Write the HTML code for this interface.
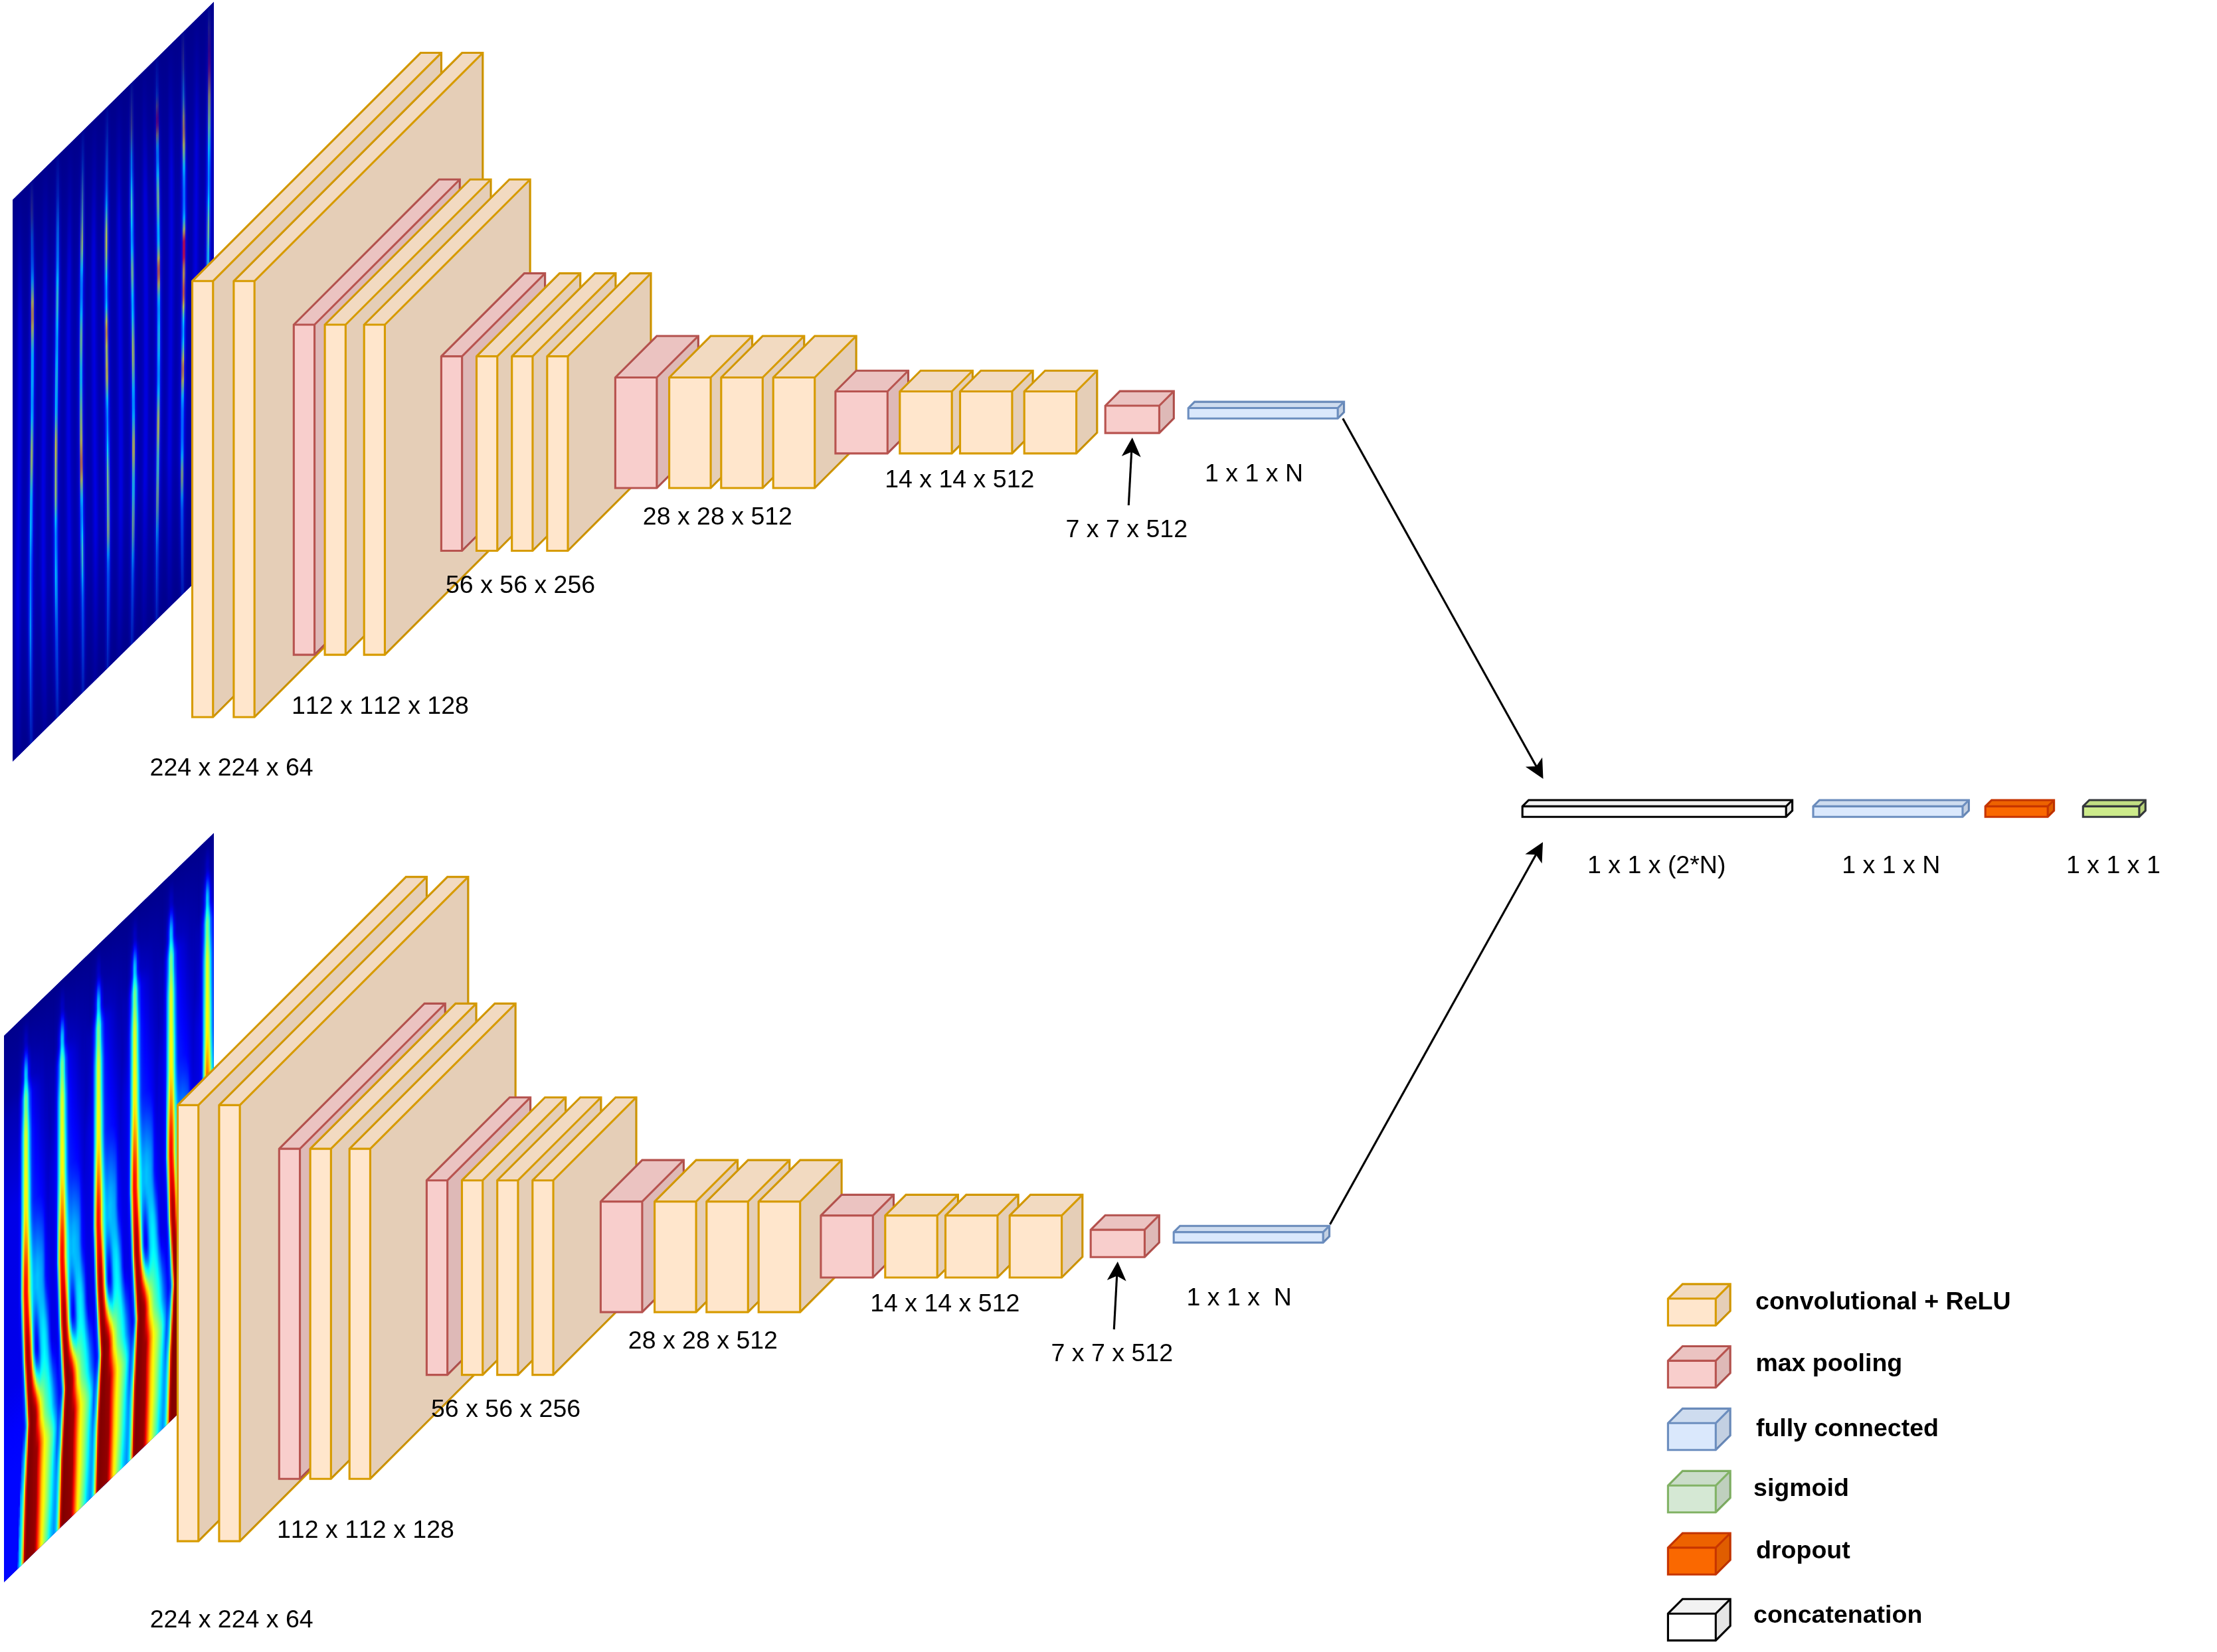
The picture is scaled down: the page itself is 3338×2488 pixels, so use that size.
<!DOCTYPE html>
<html><head><meta charset="utf-8"><title>Two-branch VGG</title>
<style>html,body{margin:0;padding:0;background:#fff}#w{position:relative;width:3338px;height:2488px;overflow:hidden}svg{display:block;position:absolute;left:0;top:0;will-change:transform}.im{position:absolute;transform-origin:0 0;display:flex;background:#0000c0;overflow:hidden}.im i{display:block;flex:1 1 0;margin-right:-.6px;height:100%}text{font-family:"Liberation Sans",sans-serif;stroke:none;font-kerning:none}</style></head>
<body>
<div id="w">
<div class="im" style="left:18.9px;top:300.8px;width:302.6px;height:846px;transform:matrix(1,-0.9841,0,1,0,0)"><i style="background:linear-gradient(#00008c 0%,#0000a6 26.6%,#0000af 72.7%,#00008c 100%)"></i><i style="background:linear-gradient(#00008c 0%,#00a 33.1%,#0000b7 73.4%,#00008d 100%)"></i><i style="background:linear-gradient(#00008d 0%,#0000b0 33.1%,#0000c8 64.7%,#0000ca 73.4%,#000091 100%)"></i><i style="background:linear-gradient(#00008e 0%,#0000b9 25.2%,#0000e0 71.2%,#0000b6 89.2%,#000096 100%)"></i><i style="background:linear-gradient(#00008e 0%,#0000a9 10.8%,#00c 22.3%,#0000e2 54%,#0000df 73.4%,#00009c 99.3%,#009 100%)"></i><i style="background:linear-gradient(#00008e 0%,#0000a6 9.4%,#0000d7 22.3%,#0000e0 34.5%,#0000d6 58.3%,#0000ca 74.1%,#000097 100%)"></i><i style="background:linear-gradient(#00008d 0%,#0000a1 10.1%,#0000cb 22.3%,#0000d2 32.4%,#0000b5 74.8%,#000091 100%)"></i><i style="background:linear-gradient(#00008c 0%,#00009f 12.9%,#0000b8 25.2%,#0000bc 35.3%,#0000ac 74.8%,#00008d 100%)"></i><i style="background:linear-gradient(#00008c 0%,#00009f 17.3%,#0000ae 32.4%,#0000ac 73.4%,#00008c 100%)"></i><i style="background:linear-gradient(#00008c 0%,#00a 33.1%,#0000af 73.4%,#00008c 100%)"></i><i style="background:linear-gradient(#00008c 0%,#0000ab 33.1%,#0000ba 73.4%,#00008e 100%)"></i><i style="background:linear-gradient(#00008d 0%,#0000b2 32.4%,#0000c5 56.8%,#0003d3 72.7%,#0001a7 92.1%,#000092 100%)"></i><i style="background:linear-gradient(#00018e 0%,#0100bc 23.7%,#0305d1 46.8%,#060ed9 53.2%,#0020e9 59.7%,#002aef 64%,#002cf5 71.2%,#003be8 79.1%,#002bdc 83.5%,#0013c6 89.9%,#00039b 100%)"></i><i style="background:linear-gradient(#020691 0%,#0f1194 5%,#0515aa 8.6%,#0013bb 11.5%,#0014ca 15.8%,#021bcf 18%,#1a1cc2 21.6%,#1a14c4 24.5%,#171ac9 26.6%,#011ce3 30.9%,#002ded 40.3%,#023cee 42.4%,#234cd1 45.3%,#4b5fac 48.2%,#5469a4 49.6%,#5074a9 51.1%,#3484c7 53.2%,#0598f7 56.1%,#009cfd 57.6%,#00b2fe 61.2%,#00abff 63.3%,#007fff 67.6%,#07f 70.5%,#0089fd 76.3%,#0091f9 79.1%,#0086f5 81.3%,#004fe8 87.1%,#002bca 95%,#0016ae 100%)"></i><i style="background:linear-gradient(#020992 0%,#23268b 5%,#1d339b 7.2%,#004ccc 10.1%,#0048dd 12.9%,#0057e7 15.1%,#0070ec 16.5%,#0083ef 17.3%,#0b8fe6 18%,#3e99b8 19.4%,#9ca65e 21.6%,#a59755 22.3%,#a48656 23%,#a37e57 23.7%,#a37f58 24.5%,#a28958 25.2%,#a29b59 25.9%,#91a26a 26.6%,#27a4d5 29.5%,#07a7f6 30.9%,#00a7fd 31.7%,#00aafd 33.8%,#00b1fe 36%,#00a7fe 39.6%,#00b1ff 41%,#00bcff 41.7%,#07c4f7 42.4%,#45c7ba 44.6%,#84c77b 46.8%,#9cc563 48.2%,#9fc460 48.9%,#92c06d 50.4%,#71ba8d 51.8%,#20acde 54.7%,#06a3f8 56.1%,#0095fd 57.6%,#007bfb 61.9%,#0043f9 66.9%,#0033f7 70.5%,#0033e2 81.3%,#0023d3 88.5%,#001bb6 98.6%,#0018af 100%)"></i><i style="background:linear-gradient(#01028f 0%,#0d129a 6.5%,#0324b5 9.4%,#0031d5 13.7%,#0048e1 15.8%,#0066e8 17.3%,#0974e3 18%,#3482bd 19.4%,#8c956c 21.6%,#978a62 22.3%,#987c61 23%,#987661 23.7%,#997861 24.5%,#998261 25.2%,#999361 25.9%,#899972 26.6%,#3a98c1 28.8%,#1396e9 30.2%,#0092fb 31.7%,#0083fa 36%,#0065f9 39.6%,#0462f3 42.4%,#2b4cc8 46%,#323fbf 48.2%,#212fcc 51.1%,#061fe2 54.7%,#0012e2 59%,#0003d7 69.8%,#00049e 99.3%,#00049d 100%)"></i><i style="background:linear-gradient(#00008d 0%,#0102a0 8.6%,#000ac2 16.5%,#0711c9 19.4%,#1513c4 22.3%,#1612c7 25.2%,#0c15d3 28.1%,#0013e0 31.7%,#0102cb 51.1%,#0000b6 75.5%,#000092 100%)"></i><i style="background:linear-gradient(#00008c 0%,#00009f 12.2%,#0000ba 23.7%,#0000c0 33.1%,#0000b2 69.8%,#00008e 100%)"></i><i style="background:linear-gradient(#00008c 0%,#00009f 16.5%,#0000b0 31.7%,#0000ac 73.4%,#00008c 100%)"></i><i style="background:linear-gradient(#00008c 0%,#0000a4 23.7%,#0000ab 36%,#0000ae 72.7%,#00008c 100%)"></i><i style="background:linear-gradient(#00008c 0%,#0000a4 23.7%,#0000af 38.1%,#0000b8 69.1%,#00008c 100%)"></i><i style="background:linear-gradient(#00008c 0%,#0000a1 18%,#0000b8 34.5%,#00c 61.2%,#0000c6 73.4%,#00008e 100%)"></i><i style="background:linear-gradient(#00008d 0%,#0000a3 13.7%,#0000c8 29.5%,#0000de 54.7%,#00d 72.7%,#000092 100%)"></i><i style="background:linear-gradient(#00008e 0%,#0000a7 10.8%,#0000d1 23%,#0000de 33.8%,#0000e0 73.4%,#0000a0 97.1%,#000098 100%)"></i><i style="background:linear-gradient(#00008e 0%,#0000a9 10.1%,#0000d7 22.3%,#0000db 33.1%,#00c 60.4%,#0000ce 74.1%,#0000ae 92.8%,#009 100%)"></i><i style="background:linear-gradient(#00008e 0%,#0000a7 10.8%,#0000c7 22.3%,#0000c5 33.8%,#0000b8 58.3%,#0000b9 74.8%,#0000a0 95%,#000095 100%)"></i><i style="background:linear-gradient(#00008d 0%,#0000a8 16.5%,#0000b4 27.3%,#0000b0 67.6%,#0000a5 83.5%,#000090 100%)"></i><i style="background:linear-gradient(#00008c 0%,#0000ab 31.7%,#0000ac 73.4%,#00008d 100%)"></i><i style="background:linear-gradient(#00008c 0%,#00a 33.1%,#0000af 72.7%,#00008c 100%)"></i><i style="background:linear-gradient(#00008c 0%,#0000a4 23%,#0000b0 37.4%,#0000bc 66.9%,#0000b3 75.5%,#00008c 100%)"></i><i style="background:linear-gradient(#00008c 0%,#0000a1 16.5%,#0000bc 34.5%,#0304d0 56.8%,#0002d3 69.8%,#0001bb 79.9%,#00008f 100%)"></i><i style="background:linear-gradient(#00008d 0%,#0000a3 12.2%,#0102c7 25.9%,#000cdb 36%,#0327e8 45.3%,#122fdb 47.5%,#3a3cb7 51.1%,#3f43b4 53.2%,#3a4cbb 56.8%,#3c50ba 59.7%,#2850cd 61.9%,#004df5 64.7%,#0039f5 66.9%,#0034f3 70.5%,#0030ea 74.8%,#000aca 83.5%,#0001a0 95.7%,#000094 100%)"></i><i style="background:linear-gradient(#00018f 0%,#0008aa 9.4%,#001ad8 19.4%,#002ce3 22.3%,#0f3ede 26.6%,#044fee 29.5%,#0052f5 31.7%,#005df7 33.8%,#0082fa 36.7%,#0f96ed 39.6%,#00affe 43.9%,#0db6f2 45.3%,#30bbce 46.8%,#9bc264 49.6%,#afc350 50.4%,#bcc443 51.1%,#c2c53d 51.8%,#b9c646 53.2%,#9cc763 55.4%,#97c868 56.8%,#9ac865 59%,#8bc874 60.4%,#64c89b 61.9%,#16c8e9 64%,#00c6ff 64.7%,#00a4ff 66.2%,#0095ff 67.6%,#09f 69.8%,#00b8ff 73.4%,#00b7fd 74.8%,#009ef9 77.7%,#0055ec 82.7%,#0034df 86.3%,#0015be 93.5%,#0007a0 100%)"></i><i style="background:linear-gradient(#000594 0%,#001eb4 7.2%,#0059dd 13.7%,#0070f1 18%,#008df8 20.1%,#01bafb 22.3%,#24c0d9 24.5%,#30c3ce 25.9%,#2bc6d3 27.3%,#00c5ff 30.2%,#00a9ff 32.4%,#00a7fe 34.5%,#00b5fe 36.7%,#10a9ed 38.8%,#0b9cf1 41%,#008efc 43.2%,#0285f8 44.6%,#137ce8 46%,#5368a5 49.6%,#5e629a 51.1%,#545aa3 53.2%,#3e52b7 56.1%,#394dbb 59.7%,#264ccf 61.9%,#004df5 64.7%,#003ff6 66.9%,#0042f7 69.1%,#006cf6 74.8%,#006ff2 78.4%,#0049e8 86.3%,#0032d0 94.2%,#001bb2 100%)"></i><i style="background:linear-gradient(#000493 0%,#001db3 7.2%,#004fd7 12.9%,#0061f0 19.4%,#0179f4 22.3%,#146ddf 24.5%,#1760dc 26.6%,#0048f2 30.2%,#0030ee 33.1%,#010ddc 45.3%,#0606d0 52.5%,#0006d9 71.9%,#0015bf 93.5%,#01a 100%)"></i><i style="background:linear-gradient(#00008f 0%,#0007a9 9.4%,#000cd1 20.9%,#0002cc 33.1%,#00b 54.7%,#0000bc 74.8%,#0001a4 95%,#000299 100%)"></i><i style="background:linear-gradient(#00008d 0%,#0000a5 13.7%,#0000b5 23.7%,#0000b3 37.4%,#0000ae 74.8%,#000093 98.6%,#000091 100%)"></i><i style="background:linear-gradient(#00008c 0%,#0000ac 30.9%,#0000ac 73.4%,#00008d 100%)"></i><i style="background:linear-gradient(#00008c 0%,#0000ab 33.1%,#0000ab 73.4%,#00008c 100%)"></i><i style="background:linear-gradient(#00008c 0%,#00009f 18%,#0000b2 33.1%,#0000b4 59.7%,#0000ad 74.1%,#00008c 100%)"></i><i style="background:linear-gradient(#00008c 0%,#00009e 13.7%,#0000c2 30.9%,#0000c9 51.1%,#0000b9 73.4%,#00008d 100%)"></i><i style="background:linear-gradient(#00008d 0%,#0000a0 10.8%,#00c 23.7%,#0000da 33.8%,#0000dc 58.3%,#0000cd 73.4%,#00009f 92.8%,#000091 100%)"></i><i style="background:linear-gradient(#00008e 0%,#0000a4 9.4%,#0000d7 22.3%,#0000df 33.1%,#0000e2 71.9%,#000097 100%)"></i><i style="background:linear-gradient(#00008e 0%,#0000a8 10.1%,#0000ce 21.6%,#00c 36.7%,#0000d0 56.1%,#00d 73.4%,#0000ab 94.2%,#009 100%)"></i><i style="background:linear-gradient(#00008e 0%,#0000b7 22.3%,#00b 56.1%,#0000c7 74.1%,#0000ad 91.4%,#000097 100%)"></i><i style="background:linear-gradient(#00008d 0%,#0000ad 29.5%,#0000b4 67.6%,#0000b1 78.4%,#000098 96.4%,#000091 100%)"></i><i style="background:linear-gradient(#00008c 0%,#00a 33.1%,#0000ad 73.4%,#00008d 100%)"></i><i style="background:linear-gradient(#00008c 0%,#0000a4 24.5%,#0000ad 37.4%,#0000ac 73.4%,#00008c 100%)"></i><i style="background:linear-gradient(#00008c 0%,#00009d 16.5%,#0000b5 33.1%,#0000b8 56.8%,#0000af 74.1%,#00008c 100%)"></i><i style="background:linear-gradient(#00008c 0%,#00009e 12.9%,#0001c8 30.2%,#0104d1 46.8%,#0000bf 71.9%,#00008f 99.3%,#00008e 100%)"></i><i style="background:linear-gradient(#00008d 0%,#0001a1 10.1%,#090dc5 20.1%,#0017df 25.2%,#001ae7 28.8%,#002dec 31.7%,#0736e6 33.1%,#2442cd 36.7%,#2047d1 38.8%,#074ded 42.4%,#074eec 44.6%,#2f49c4 50.4%,#3b3db6 54.7%,#301dbe 58.3%,#281dc4 60.4%,#2223c9 61.9%,#041ae2 64.7%,#000de2 68.3%,#0206d1 74.8%,#00009f 94.2%,#000092 100%)"></i><i style="background:linear-gradient(#00018f 0%,#020ca3 7.2%,#142bb3 12.9%,#2444b6 15.8%,#536e9b 19.4%,#55829f 20.9%,#4c8aab 21.6%,#1599e5 23.7%,#019ef9 24.5%,#007efc 26.6%,#007afd 28.1%,#0084fe 29.5%,#009dfe 30.9%,#04c0fb 32.4%,#57c5a7 35.3%,#65c59a 36%,#6cc693 36.7%,#6cc692 37.4%,#5bc7a4 38.8%,#1bc7e4 41.7%,#0dc7f2 43.2%,#13c7ec 44.6%,#39c7c6 46.8%,#76c789 49.6%,#b0c54f 54%,#bec541 54.7%,#c3b93b 55.4%,#bf803f 57.6%,#be7441 58.3%,#bc7043 59%,#b97645 59.7%,#b78548 60.4%,#b49b4b 61.2%,#aab155 61.9%,#3aa6c4 64%,#1ca2e2 64.7%,#049df9 65.5%,#007bfd 66.9%,#006bfc 68.3%,#006cfb 70.5%,#046ff6 71.9%,#165de0 74.1%,#144ada 76.3%,#002fe1 79.9%,#0019d6 82.7%,#000ac0 89.2%,#00049c 100%)"></i><i style="background:linear-gradient(#000594 0%,#0019a9 4.3%,#022cb1 6.5%,#2f60a7 11.5%,#3b7eab 14.4%,#4a8ca2 15.8%,#79a37d 18.7%,#7ea779 19.4%,#7cab7d 20.1%,#72af88 20.9%,#60af9b 21.6%,#019ef9 24.5%,#0077fa 25.9%,#0062f9 27.3%,#005af9 29.5%,#026ef5 32.4%,#2b61cb 35.3%,#325bc3 36.7%,#2755ce 38.8%,#074fed 42.4%,#074eec 44.6%,#4157b5 51.8%,#5e619a 54.7%,#685891 56.1%,#724687 58.3%,#764784 59%,#7b4e80 59.7%,#7f5c7c 60.4%,#82887a 61.9%,#049ff9 65.5%,#008cfe 66.9%,#0089fe 68.3%,#09f 69.8%,#00b5ff 71.2%,#06c0f8 71.9%,#2dc1d2 74.1%,#35bbc9 75.5%,#2ab4d2 77%,#05a7f3 79.1%,#0089f6 80.6%,#0063f1 82.7%,#0049e9 85.6%,#0022c0 96.4%,#0017af 100%)"></i><i style="background:linear-gradient(#000493 0%,#011caa 6.5%,#152bae 11.5%,#172cba 15.8%,#1d27be 19.4%,#0018dd 24.5%,#000adb 28.1%,#0205d1 39.6%,#0607d1 54%,#0d09d1 60.4%,#0d11d5 62.6%,#0018e7 66.2%,#001eec 69.1%,#0233ee 71.9%,#1343db 75.5%,#0d4bdf 77.7%,#004dea 79.9%,#0038e4 84.2%,#0029cc 93.5%,#0016ae 100%)"></i><i style="background:linear-gradient(#00018f 0%,#0001bc 21.6%,#0000bc 53.2%,#0103cd 74.1%,#0006ba 89.9%,#00039c 100%)"></i><i style="background:linear-gradient(#00008d 0%,#0000ac 26.6%,#0000b6 67.6%,#0000b4 77.7%,#00009d 95%,#000092 100%)"></i><i style="background:linear-gradient(#00008c 0%,#00a 33.1%,#0000ad 74.1%,#00008e 100%)"></i><i style="background:linear-gradient(#00008c 0%,#0000a5 23.7%,#0000ac 35.3%,#0000ab 73.4%,#00008c 100%)"></i><i style="background:linear-gradient(#00008c 0%,#00009e 15.1%,#0000b4 30.2%,#0000ab 74.1%,#00008c 100%)"></i><i style="background:linear-gradient(#00008c 0%,#00009f 11.5%,#0000c0 23.7%,#0000c7 33.1%,#0000af 74.8%,#00008f 100%)"></i><i style="background:linear-gradient(#00008d 0%,#0000a5 10.1%,#0000d3 22.3%,#0000dc 33.1%,#0000ce 56.8%,#0000be 74.8%,#000093 100%)"></i><i style="background:linear-gradient(#00008e 0%,#0000a9 10.1%,#0000d5 22.3%,#0000df 38.1%,#0000df 61.9%,#0000d5 74.1%,#009 100%)"></i><i style="background:linear-gradient(#00008e 0%,#0000ac 12.9%,#0000c3 23%,#0000e4 69.1%,#0000dc 75.5%,#009 100%)"></i><i style="background:linear-gradient(#00008d 0%,#0000b5 29.5%,#0000c5 53.2%,#0000d6 72.7%,#0000a4 94.2%,#000094 100%)"></i><i style="background:linear-gradient(#00008c 0%,#0000ac 33.1%,#0000be 66.9%,#0000bd 74.8%,#00008f 100%)"></i><i style="background:linear-gradient(#00008c 0%,#00a 33.1%,#0000b1 73.4%,#00008d 100%)"></i><i style="background:linear-gradient(#00008c 0%,#0000a0 19.4%,#0000ac 33.1%,#0000ac 73.4%,#00008c 100%)"></i><i style="background:linear-gradient(#00008c 0%,#00009e 14.4%,#0000b6 28.8%,#0000ac 74.1%,#00008d 100%)"></i><i style="background:linear-gradient(#00008d 0%,#0000a0 10.8%,#0303c4 22.3%,#0003d0 31.7%,#0000b0 75.5%,#00008f 100%)"></i><i style="background:linear-gradient(#00008e 0%,#0008a7 8.6%,#0014c6 14.4%,#002ad6 17.3%,#1338cd 19.4%,#3946b2 22.3%,#414aac 24.5%,#314cbf 26.6%,#014cf1 30.2%,#003af2 32.4%,#003cf1 34.5%,#0043f1 35.3%,#373bb8 38.1%,#3629b8 39.6%,#3127bc 41%,#2b2cc0 42.4%,#2024c9 44.6%,#1819cd 48.2%,#010fde 51.8%,#0005d7 57.6%,#0001c1 75.5%,#000196 100%)"></i><i style="background:linear-gradient(#000392 0%,#0016a8 5%,#0035c3 9.4%,#0045dc 12.9%,#005fe8 15.1%,#0080ef 16.5%,#0095f1 17.3%,#0fa1e6 18%,#3eb1bb 19.4%,#90c66d 21.6%,#aec74f 23%,#b3c74b 23.7%,#b0c74d 24.5%,#a6c757 25.2%,#81c77d 26.6%,#02c7fc 30.2%,#00a7ff 31.7%,#009dff 32.4%,#09f 33.1%,#009dff 33.8%,#00abff 34.5%,#00c4ff 35.3%,#23c6dc 36%,#b6c449 38.1%,#c3a93c 38.8%,#c2913d 39.6%,#c08c3e 40.3%,#bf9740 41%,#b6bb49 42.4%,#a3b85b 43.2%,#9bb663 43.9%,#a6af58 45.3%,#acaa52 46%,#a89f56 46.8%,#9aa063 48.2%,#62969a 49.6%,#248dd8 51.1%,#0a87f1 51.8%,#0078fb 52.5%,#0058fa 54%,#0045f8 56.1%,#0045f5 59.7%,#0942ea 61.9%,#1a34d6 64.7%,#1827d5 68.3%,#101ed9 71.9%,#0f17ce 76.3%,#0010d3 80.6%,#000ac3 87.8%,#000ba4 100%)"></i><i style="background:linear-gradient(#000694 0%,#0028b4 7.2%,#0031c5 10.1%,#0033d5 13.7%,#0048e0 16.5%,#0051e2 17.3%,#1e57cb 19.4%,#4059ae 21.6%,#4b54a4 23.7%,#3d51b3 25.9%,#0150f2 30.2%,#0041f4 32.4%,#0044f4 33.8%,#0058f5 35.3%,#105ce5 36%,#5c639a 38.1%,#665991 38.8%,#6a4f8e 39.6%,#6d4f8b 40.3%,#715988 41%,#757884 42.4%,#6f7d8b 43.2%,#6e818c 43.9%,#828a79 45.3%,#8e8c6d 46%,#938b69 46.8%,#979c66 48.2%,#85a178 48.9%,#4da9b1 50.4%,#0db1f1 51.8%,#00a8fe 52.5%,#008aff 54%,#0081ff 55.4%,#008dff 57.6%,#00afff 59.7%,#00bfff 60.4%,#09c7f6 61.2%,#52c2ad 64%,#6bbf94 65.5%,#75ba8a 66.9%,#67b398 69.1%,#57aca7 71.2%,#5ea8a0 72.7%,#6e9c8d 74.8%,#6c988f 75.5%,#629397 76.3%,#3e8cb9 77.7%,#1185e3 79.1%,#007ef3 79.9%,#005df0 81.3%,#0047eb 83.5%,#002dcc 95%,#001db3 100%)"></i><i style="background:linear-gradient(#000290 0%,#0005b4 12.9%,#0406c6 21.6%,#0006d4 35.3%,#0b0ad0 41.7%,#1519d0 48.9%,#0024eb 52.5%,#0023ef 55.4%,#0034f3 58.3%,#0457f3 61.2%,#4776b3 66.2%,#4e81ad 68.3%,#488eb5 71.2%,#5293ab 72.7%,#689393 74.8%,#679193 75.5%,#608f99 76.3%,#3e8bb9 77.7%,#1186e3 79.1%,#0080f3 79.9%,#005ef0 81.3%,#0046eb 83.5%,#0021c7 93.5%,#000ca6 100%)"></i><i style="background:linear-gradient(#00008e 0%,#0000b4 26.6%,#0001c9 51.8%,#0408d7 64%,#0b13d8 72.7%,#0e15cf 76.3%,#0011d3 80.6%,#0005b4 91.4%,#000196 100%)"></i><i style="background:linear-gradient(#00008c 0%,#0000ad 33.1%,#0000be 63.3%,#0000c3 73.4%,#000094 97.8%,#000090 100%)"></i><i style="background:linear-gradient(#00008c 0%,#00a 33.1%,#0000b2 73.4%,#00008d 100%)"></i><i style="background:linear-gradient(#00008c 0%,#00a 32.4%,#0000ac 73.4%,#00008c 100%)"></i><i style="background:linear-gradient(#00008c 0%,#0000ae 28.1%,#0000ac 74.1%,#00008e 100%)"></i><i style="background:linear-gradient(#00008d 0%,#0000a3 11.5%,#0000bc 23%,#00b 34.5%,#0000b2 61.9%,#0000b0 74.8%,#000096 97.8%,#000092 100%)"></i><i style="background:linear-gradient(#00008e 0%,#0000a7 10.1%,#0000d1 22.3%,#0000d2 33.1%,#0000c1 59.7%,#0000c0 74.8%,#0000a4 95%,#000097 100%)"></i><i style="background:linear-gradient(#00008e 0%,#0000a8 10.1%,#0000d6 22.3%,#0000e0 33.1%,#0000d8 67.6%,#0000d5 74.8%,#0000ab 94.2%,#009 100%)"></i><i style="background:linear-gradient(#00008e 0%,#0000a6 12.2%,#0000c8 24.5%,#0000da 38.1%,#0000e4 67.6%,#0000e0 74.1%,#000096 100%)"></i><i style="background:linear-gradient(#00008d 0%,#0000a2 15.8%,#0000c0 33.8%,#0000d8 60.4%,#0000d5 72.7%,#000090 100%)"></i><i style="background:linear-gradient(#00008c 0%,#0000a2 20.9%,#0000b1 36%,#0000c2 66.2%,#0000bc 74.1%,#00008d 100%)"></i><i style="background:linear-gradient(#00008c 0%,#00a 33.8%,#0000b2 71.9%,#00008c 100%)"></i><i style="background:linear-gradient(#00008c 0%,#00a 32.4%,#0000ac 73.4%,#00008c 100%)"></i><i style="background:linear-gradient(#00008c 0%,#0000af 25.9%,#0000ac 74.1%,#00008e 100%)"></i><i style="background:linear-gradient(#00008d 0%,#0102a2 10.1%,#0102c2 21.6%,#0000c1 33.1%,#0000b4 58.3%,#0000b3 74.8%,#009 97.1%,#000093 100%)"></i><i style="background:linear-gradient(#000390 0%,#11159b 7.9%,#0d21b0 10.8%,#002acb 13.7%,#002ed7 16.5%,#0339dc 18.7%,#0e3ad9 21.6%,#0027e6 25.9%,#001de5 28.8%,#0a12d5 33.8%,#0007d7 39.6%,#0001c8 52.5%,#0001c4 75.5%,#0005ab 95%,#00059e 100%)"></i><i style="background:linear-gradient(#000a94 0%,#0d1a96 2.9%,#2c338c 7.2%,#2e4a9a 9.4%,#1860be 11.5%,#046fdb 12.9%,#0073e9 15.1%,#0082ef 16.5%,#00a0f5 18%,#15b2e4 19.4%,#2bc0d1 20.9%,#2fc3cd 21.6%,#26c1d7 23%,#00b9fd 25.2%,#009dfd 26.6%,#0094fd 28.1%,#00a3fd 29.5%,#0ca6f1 30.2%,#4699b6 32.4%,#5094ac 33.1%,#5290aa 33.8%,#4b8ab0 34.5%,#0c75ed 37.4%,#0070f8 38.1%,#005cf7 39.6%,#0356f2 41.7%,#2740ca 45.3%,#2c35c2 47.5%,#1e2ace 50.4%,#011fe7 54.7%,#0017e6 58.3%,#0717de 61.2%,#1717cf 65.5%,#0a1ade 69.8%,#041ee4 72.7%,#1b2ac5 79.1%,#1330ca 82%,#0035d9 84.9%,#0028d2 89.9%,#001eb8 98.6%,#001ab1 100%)"></i><i style="background:linear-gradient(#000692 0%,#14199a 7.9%,#0e24b0 10.8%,#002fcd 13.7%,#0033d7 15.8%,#044fe2 18.7%,#1965d8 21.6%,#0f6fe5 23.7%,#0075f6 25.2%,#006df9 27.3%,#007bfa 28.8%,#008afb 29.5%,#0a95f1 30.2%,#4aa2b2 32.4%,#5aa7a3 33.1%,#61ab9c 33.8%,#5faf9f 34.5%,#53b3ab 35.3%,#01bffe 38.1%,#00b5ff 38.8%,#00b2ff 39.6%,#00b5ff 40.3%,#00bfff 41%,#08c7f7 41.7%,#49c7b6 43.9%,#8ac475 46%,#a0c15e 47.5%,#a2bf5c 48.2%,#94bb6b 49.6%,#71b68e 51.1%,#1aade4 54%,#08abf6 54.7%,#00a2fe 55.4%,#008ffe 56.8%,#008ffd 58.3%,#0098fd 59%,#069ff7 59.7%,#499cb4 61.9%,#799b85 63.3%,#8b9b72 64%,#979b66 64.7%,#9c9b62 65.5%,#999c65 66.2%,#7e9e80 67.6%,#2da4d1 70.5%,#19a8e5 71.9%,#1dace1 73.4%,#42a8ba 75.5%,#64a495 77.7%,#68a190 79.1%,#589d9e 80.6%,#098ee7 84.2%,#0085ee 84.9%,#005de8 87.1%,#0041df 89.9%,#0013ac 100%)"></i><i style="background:linear-gradient(#00008e 0%,#0102a3 10.1%,#000bd5 25.2%,#0012df 29.5%,#1222d5 34.5%,#0032ee 38.8%,#0040f1 41%,#0a4be9 42.4%,#596b9f 47.5%,#617499 48.9%,#597ca2 50.4%,#3487c8 52.5%,#0790f6 54.7%,#008dfc 55.4%,#0083fd 56.8%,#0089fd 58.3%,#0094fd 59%,#069ef7 59.7%,#319fcc 61.2%,#7da181 63.3%,#90a16e 64%,#9ca161 64.7%,#a0a05e 65.5%,#9ca062 66.2%,#7e9e80 67.6%,#3b9ac2 69.8%,#1d96e0 71.2%,#1491e8 72.7%,#1f88dc 74.1%,#3e71b6 77%,#4165af 78.4%,#2f54ba 80.6%,#033ad8 84.2%,#0019cc 87.8%,#0007b0 94.2%,#00029a 100%)"></i><i style="background:linear-gradient(#00008d 0%,#0000a3 15.1%,#0001c4 33.1%,#0406d2 45.3%,#070ed7 51.8%,#0012e3 56.8%,#0418e2 60.4%,#1819ce 64.7%,#1318d3 67.6%,#0414e1 71.2%,#050fd7 74.8%,#0104c0 82.7%,#000091 100%)"></i><i style="background:linear-gradient(#00008c 0%,#0000a2 20.1%,#0000b3 36%,#0001c6 64%,#0000c2 73.4%,#00008d 100%)"></i><i style="background:linear-gradient(#00008c 0%,#0000a7 27.3%,#0000b5 70.5%,#00008c 100%)"></i><i style="background:linear-gradient(#00008c 0%,#0000a9 33.1%,#0000ad 73.4%,#00008c 100%)"></i><i style="background:linear-gradient(#00008c 0%,#00a 32.4%,#0000ae 74.1%,#000092 97.8%,#00008f 100%)"></i><i style="background:linear-gradient(#00008d 0%,#0000af 23%,#0000b6 64%,#0000b9 74.8%,#0000a2 93.5%,#000093 100%)"></i><i style="background:linear-gradient(#00008e 0%,#00a 11.5%,#0000c4 22.3%,#0000c0 53.2%,#0000cf 74.1%,#0000b1 91.4%,#009 100%)"></i><i style="background:linear-gradient(#00008e 0%,#0000a9 10.1%,#0000d6 22.3%,#0000d8 33.8%,#0000d7 54.7%,#0000e0 73.4%,#009 100%)"></i><i style="background:linear-gradient(#00008d 0%,#0000a3 10.1%,#0000d2 22.3%,#0000df 33.1%,#0000e0 70.5%,#000094 100%)"></i><i style="background:linear-gradient(#00008c 0%,#00009f 12.2%,#0000c6 26.6%,#0000d5 41%,#0000d3 61.9%,#0000c6 73.4%,#009 94.2%,#00008f 100%)"></i><i style="background:linear-gradient(#00008c 0%,#00009e 15.8%,#0000ba 33.1%,#0000c0 54.7%,#0000b4 73.4%,#00008d 100%)"></i><i style="background:linear-gradient(#00008c 0%,#0000a2 21.6%,#0000ae 34.5%,#0000b0 71.2%,#00008c 100%)"></i><i style="background:linear-gradient(#00008c 0%,#00a 33.1%,#0000ac 73.4%,#00008d 100%)"></i><i style="background:linear-gradient(#00008c 0%,#0000ab 30.9%,#0000b0 74.1%,#000096 96.4%,#00008f 100%)"></i><i style="background:linear-gradient(#00008e 0%,#0000b2 22.3%,#0000b7 60.4%,#0000bd 74.8%,#0001a9 92.1%,#000196 100%)"></i><i style="background:linear-gradient(#000291 0%,#010ca3 6.5%,#0f0d9c 8.6%,#1001a3 10.8%,#1109aa 12.9%,#0b10b4 14.4%,#000dc5 16.5%,#0209cd 21.6%,#0100c4 39.6%,#0001ca 59%,#030ad7 73.4%,#0b15c9 80.6%,#001bcf 84.9%,#0011b7 95%,#000ba4 100%)"></i><i style="background:linear-gradient(#000694 0%,#001cad 5%,#032db0 6.5%,#1131a6 7.2%,#273795 7.9%,#3e3883 8.6%,#4a1080 10.1%,#50057f 10.8%,#55057e 11.5%,#5a157c 12.2%,#5e347b 12.9%,#625c7a 13.7%,#45669a 14.4%,#2469be 15.1%,#096cdc 15.8%,#0064e7 16.5%,#005be9 17.3%,#005ced 18.7%,#006bf0 20.1%,#0671ec 20.9%,#2763cb 23%,#3159c0 24.5%,#284bc8 26.6%,#0337eb 30.2%,#002deb 32.4%,#1226d7 34.5%,#2222c5 36%,#1f12c7 37.4%,#1c0fc9 38.8%,#1519cf 41%,#0217e1 43.2%,#0014e3 46.8%,#0218e3 52.5%,#001be9 57.6%,#0226ea 59.7%,#383dba 65.5%,#3b4aba 67.6%,#2362d5 71.2%,#2771d2 73.4%,#5480a1 77.7%,#5483a0 79.1%,#4684ac 80.6%,#0581e8 84.2%,#006cea 85.6%,#004ce4 88.5%,#002ac6 96.4%,#001db3 100%)"></i><i style="background:linear-gradient(#000391 0%,#000fa5 5%,#0219a9 6.5%,#18229b 7.9%,#282490 8.6%,#340b8d 10.1%,#3b048c 10.8%,#42048a 11.5%,#4a1187 12.2%,#522d84 12.9%,#5a5480 13.7%,#43639c 14.4%,#0a75dd 15.8%,#0073eb 16.5%,#006fee 17.3%,#0073f1 18%,#007ef4 18.7%,#00a6f9 20.1%,#09b9f2 20.9%,#37c2c6 22.3%,#5fc59e 23.7%,#6dc691 24.5%,#73c78a 25.2%,#72c78c 25.9%,#6ac794 26.6%,#47c6b7 28.1%,#0ac2f5 30.2%,#00bdfe 30.9%,#00b6fe 31.7%,#00bafe 32.4%,#0fbaef 33.1%,#2bb7d2 33.8%,#53b5ab 34.5%,#b0b04e 36%,#ae8350 36.7%,#ab6252 37.4%,#a95354 38.1%,#a75856 38.8%,#a57058 39.6%,#a3945a 40.3%,#83a17a 41%,#2d9ed0 42.4%,#0d9def 43.2%,#0094fd 43.9%,#0087fd 44.6%,#0083fd 45.3%,#008bfd 46.8%,#0599f8 48.2%,#179be6 50.4%,#129deb 51.8%,#01a1fc 53.2%,#008bfe 55.4%,#0089fe 56.8%,#0099fe 58.3%,#00a8fe 59%,#08b4f7 59.7%,#52bcad 61.9%,#87c078 63.3%,#abc454 64.7%,#b3c54c 65.5%,#b3c64c 66.2%,#acc753 66.9%,#8cc873 68.3%,#53c6ac 70.5%,#40c3bf 71.9%,#41bebd 73.4%,#619d98 77%,#5e8f98 78.4%,#417baf 80.6%,#0d62da 83.5%,#035ce1 84.2%,#0036da 87.1%,#0020cd 90.6%,#000ca5 100%)"></i><i style="background:linear-gradient(#00008e 0%,#0502a1 9.4%,#0902aa 12.2%,#0a0eb4 14.4%,#0014ca 16.5%,#001ad6 18.7%,#022fe0 20.9%,#2a48c4 25.2%,#2756cb 27.3%,#006bf7 30.9%,#0074f9 32.4%,#0a7aef 33.1%,#1e7edc 33.8%,#3b82bf 34.5%,#888972 36%,#8c696f 36.7%,#8f526c 37.4%,#92486a 38.1%,#944f68 38.8%,#976665 39.6%,#998b63 40.3%,#7e9b7e 41%,#2d9ed0 42.4%,#0e9fef 43.2%,#0098fd 43.9%,#008dfd 44.6%,#0089fd 45.3%,#0094fd 46.8%,#05a2f8 48.2%,#14a1e9 49.6%,#16a0e7 51.1%,#019bfc 53.2%,#007dfd 55.4%,#0074fc 56.8%,#0078fc 58.3%,#0683f6 59.7%,#4273b8 62.6%,#556aa4 64%,#5861a0 65.5%,#4253b5 67.6%,#1b41d8 70.5%,#1134de 72.7%,#1018ca 78.4%,#0008c2 84.9%,#00019a 98.6%,#000196 100%)"></i><i style="background:linear-gradient(#00008d 0%,#00009f 11.5%,#0103c5 23.7%,#010cd9 33.1%,#1010ce 36%,#140bcd 38.8%,#1216d0 41%,#0018e4 43.9%,#0217e3 52.5%,#000ee0 59%,#0607d3 65.5%,#0102cd 72.7%,#0000a1 90.6%,#000090 100%)"></i><i style="background:linear-gradient(#00008c 0%,#00009e 15.1%,#0000bd 33.1%,#0000c5 52.5%,#0000b6 73.4%,#00008d 100%)"></i><i style="background:linear-gradient(#00008c 0%,#0000a0 20.1%,#0000af 33.8%,#0000b1 66.9%,#0000a6 79.1%,#00008c 100%)"></i><i style="background:linear-gradient(#00008c 0%,#0000a8 28.1%,#0000ad 73.4%,#00008c 100%)"></i><i style="background:linear-gradient(#00008c 0%,#00a 33.1%,#0000b4 73.4%,#00008d 100%)"></i><i style="background:linear-gradient(#00008d 0%,#0000ae 32.4%,#0000be 60.4%,#0000c7 73.4%,#00009d 95%,#000091 100%)"></i><i style="background:linear-gradient(#00008e 0%,#0000b7 23.7%,#00c 53.2%,#0000dc 72.7%,#0000a6 95%,#000097 100%)"></i><i style="background:linear-gradient(#00008e 0%,#00a 10.8%,#00c 22.3%,#0000e4 66.2%,#0000de 74.1%,#009 100%)"></i><i style="background:linear-gradient(#00008e 0%,#0000a5 9.4%,#0000d7 22.3%,#0000e0 34.5%,#0000db 59%,#0000cd 74.1%,#000096 100%)"></i><i style="background:linear-gradient(#00008d 0%,#0000a0 10.1%,#00c 23%,#0000d5 33.1%,#0000c7 56.8%,#0000b7 74.8%,#000091 100%)"></i><i style="background:linear-gradient(#00008c 0%,#00009e 12.9%,#0000ba 25.9%,#0000bf 36%,#0000ad 74.8%,#00008d 100%)"></i><i style="background:linear-gradient(#00008c 0%,#00009e 17.3%,#0000af 32.4%,#0000ab 74.1%,#00008c 100%)"></i><i style="background:linear-gradient(#00008c 0%,#0000a8 28.1%,#0000ae 73.4%,#00008c 100%)"></i><i style="background:linear-gradient(#00008c 0%,#0000ab 33.1%,#0000b7 73.4%,#00008e 100%)"></i><i style="background:linear-gradient(#00008d 0%,#0000b0 30.9%,#0000be 56.1%,#0002ce 73.4%,#0001aa 91.4%,#000093 100%)"></i><i style="background:linear-gradient(#00018e 0%,#0001bc 23.7%,#0203ce 49.6%,#0309d7 56.1%,#120ed0 61.2%,#1116d4 62.6%,#001be9 65.5%,#001aee 69.8%,#0027ef 73.4%,#0035ed 74.8%,#053ae7 75.5%,#263bc2 77.7%,#2c3ab9 79.1%,#1f39c3 80.6%,#0034dd 82.7%,#0020d7 84.9%,#0007a6 97.8%,#00049d 100%)"></i><i style="background:linear-gradient(#030790 0%,#121391 4.3%,#071bab 8.6%,#071fb6 11.5%,#201dad 15.8%,#1f18b4 18%,#1c1ebd 20.1%,#0319da 23.7%,#000de0 29.5%,#0015e1 33.1%,#1417ce 35.3%,#1902ca 37.4%,#1e04c8 40.3%,#2319c6 42.4%,#291ac2 44.6%,#2f15be 46%,#351fba 47.5%,#373cb9 48.9%,#0948ea 51.1%,#0049f4 51.8%,#0046f6 53.2%,#004cf7 54%,#005af7 54.7%,#0965ef 55.4%,#1f6ad9 56.1%,#7a7780 58.3%,#80657c 59%,#855d77 59.7%,#8a6172 60.4%,#8f736d 61.2%,#949369 61.9%,#759988 62.6%,#0aa6f4 64.7%,#0098fe 65.5%,#007afe 66.9%,#006fff 69.1%,#0076ff 71.9%,#08f 73.4%,#0097fe 74.1%,#00adfe 74.8%,#10b9ed 75.5%,#55b2a7 77%,#70af8b 77.7%,#7fab7a 78.4%,#7fa879 79.1%,#71a487 79.9%,#389dbd 81.3%,#1899dc 82%,#0092f2 82.7%,#0079f1 83.5%,#005bee 84.9%,#004ae8 87.1%,#002dcb 95%,#0018b0 100%)"></i><i style="background:linear-gradient(#040890 0%,#1f218b 4.3%,#1d2e97 6.5%,#0d51c0 10.1%,#1660bf 11.5%,#346daa 12.9%,#797f6f 15.1%,#857a66 15.8%,#8f6e60 17.3%,#94715e 18%,#997c5b 18.7%,#9d8f58 19.4%,#9aa25d 20.1%,#67a793 21.6%,#12a1e8 23.7%,#009cfa 24.5%,#007bfa 25.9%,#0062fb 28.1%,#005ffc 30.2%,#006cfc 31.7%,#007cfc 32.4%,#0095fc 33.1%,#1f99dd 33.8%,#4e9aae 34.5%,#879c75 35.3%,#9d745f 36%,#9f395e 36.7%,#a00a5c 37.4%,#a70a57 39.6%,#a91454 40.3%,#ae6550 41.7%,#b0804e 42.4%,#b38a4b 43.2%,#b58449 43.9%,#ba5f44 45.3%,#bc5442 46%,#bf5940 46.8%,#c1713e 47.5%,#c29c3c 48.2%,#b5c44a 48.9%,#46c6b9 50.4%,#18c7e7 51.1%,#00beff 51.8%,#00a9ff 52.5%,#00a2ff 53.2%,#00a7ff 54%,#00b9ff 54.7%,#12c4ed 55.4%,#39c2c6 56.1%,#95bd69 57.6%,#b9b545 58.3%,#b69048 59%,#b37c4c 59.7%,#af7b4f 60.4%,#ab8a53 61.2%,#a7a657 61.9%,#299ad4 64%,#0996f4 64.7%,#0082fd 65.5%,#006dfd 66.2%,#0055fc 67.6%,#0045fb 70.5%,#0044f9 72.7%,#0057f4 74.8%,#085aeb 75.5%,#3350ba 77.7%,#394db2 78.4%,#384ab1 79.1%,#2645c0 80.6%,#003ee0 82.7%,#0028da 84.9%,#001fcd 90.6%,#0015ad 100%)"></i><i style="background:linear-gradient(#01028f 0%,#090e9c 6.5%,#0727b8 10.8%,#1133b7 12.2%,#2840aa 13.7%,#4a4e91 15.1%,#654d82 17.3%,#755f79 18.7%,#7f8574 20.1%,#708e86 20.9%,#129be8 23.7%,#009afa 24.5%,#007efb 25.9%,#0069fc 28.1%,#0067fd 30.2%,#0075fd 31.7%,#0085fd 32.4%,#009ffd 33.1%,#21a2dc 33.8%,#51a1ab 34.5%,#8ba072 35.3%,#9f755e 36%,#9d395f 36.7%,#9b0961 37.4%,#940967 39.6%,#92116a 40.3%,#8c5170 41.7%,#886373 42.4%,#856776 43.2%,#815e79 43.9%,#793d81 45.3%,#753485 46%,#703489 46.8%,#6c3f8d 47.5%,#675391 48.2%,#5b639c 48.9%,#2059d6 50.4%,#0a55eb 51.1%,#004cf5 51.8%,#003af3 53.2%,#003af1 54.7%,#1036e0 56.1%,#2b2ac2 58.3%,#2519c6 59.7%,#1d1ccb 61.9%,#0114e3 64.7%,#0007df 69.1%,#0106d1 75.5%,#0204c3 80.6%,#00039b 100%)"></i><i style="background:linear-gradient(#00008d 0%,#0002a1 9.4%,#0b08b9 17.3%,#0e12c6 20.9%,#0015de 25.2%,#0012e4 30.9%,#001ae4 33.1%,#1619ce 35.3%,#1701cc 37.4%,#1302cd 40.3%,#0f0bcf 43.2%,#0905d0 47.5%,#0003d2 53.2%,#0000b9 75.5%,#000092 100%)"></i><i style="background:linear-gradient(#00008c 0%,#00009e 12.2%,#0000bd 25.2%,#0001c3 33.8%,#0000ae 74.8%,#00008e 100%)"></i><i style="background:linear-gradient(#00008c 0%,#00009e 16.5%,#0000b1 31.7%,#0000ac 73.4%,#00008c 100%)"></i><i style="background:linear-gradient(#00008c 0%,#0000a3 23%,#0000ab 34.5%,#0000ad 73.4%,#00008c 100%)"></i><i style="background:linear-gradient(#00008c 0%,#0000a6 25.9%,#0000b8 70.5%,#00008c 100%)"></i><i style="background:linear-gradient(#00008c 0%,#0000a3 20.1%,#0000b5 36%,#0000cb 66.2%,#0000c6 74.1%,#00008e 100%)"></i><i style="background:linear-gradient(#00008d 0%,#0000a5 15.1%,#0000c4 31.7%,#0000de 59.7%,#0000dc 73.4%,#000093 100%)"></i><i style="background:linear-gradient(#00008e 0%,#0000a6 10.8%,#0000cd 23%,#00d 36%,#0000e2 71.2%,#0000b3 91.4%,#000098 100%)"></i><i style="background:linear-gradient(#00008e 0%,#0000a9 10.1%,#0000d7 22.3%,#0000de 33.1%,#0000cf 66.2%,#00c 74.8%,#0000a9 94.2%,#009 100%)"></i><i style="background:linear-gradient(#00008e 0%,#0000a5 10.1%,#0000cb 22.3%,#00c 33.1%,#0000ba 60.4%,#0000b8 74.8%,#00009c 96.4%,#000095 100%)"></i><i style="background:linear-gradient(#00008d 0%,#0000a2 12.9%,#0000b6 23.7%,#0000b6 34.5%,#0000b0 66.9%,#0000a9 78.4%,#00008f 100%)"></i><i style="background:linear-gradient(#00008c 0%,#0000ad 30.9%,#0000ac 73.4%,#00008d 100%)"></i><i style="background:linear-gradient(#00008c 0%,#00a 33.1%,#0000af 72.7%,#00008c 100%)"></i><i style="background:linear-gradient(#00008c 0%,#0000a6 25.9%,#00b 69.8%,#00008d 100%)"></i><i style="background:linear-gradient(#00008c 0%,#0000a3 18.7%,#0000b8 36%,#0303ce 60.4%,#0003cf 73.4%,#00008f 100%)"></i><i style="background:linear-gradient(#00008d 0%,#0000a7 14.4%,#0001ca 30.2%,#030edb 43.2%,#0615dc 46%,#1b17cb 48.2%,#2202c7 50.4%,#2907c3 52.5%,#2e24bf 54%,#2b30c3 54.7%,#1735d8 56.1%,#1439dc 57.6%,#263ccc 59%,#403ab3 60.4%,#430fb0 62.6%,#4406af 63.3%,#4504af 64.7%,#4609ae 65.5%,#4532af 67.6%,#4542af 68.3%,#1c42d7 70.5%,#053eec 72.7%,#0036ee 74.1%,#001ae0 78.4%,#0006be 87.8%,#000095 100%)"></i><i style="background:linear-gradient(#00028f 0%,#060199 6.5%,#0b04a9 12.2%,#0e14c4 19.4%,#0020e4 26.6%,#0024ec 30.9%,#0032ef 33.1%,#0045f1 34.5%,#3363c3 38.8%,#366ec2 40.3%,#217ed9 42.4%,#1188ea 43.9%,#108deb 44.6%,#1992e3 45.3%,#2d97cf 46%,#509cad 46.8%,#80a07d 47.5%,#a48e59 48.2%,#ac2552 49.6%,#af0b4f 50.4%,#b50b49 51.8%,#b71f47 52.5%,#ba5545 53.2%,#bc9443 54%,#a9be55 54.7%,#77bf87 55.4%,#54c1aa 56.1%,#44c2bb 56.8%,#46c3b9 57.6%,#59c4a6 58.3%,#7ac585 59%,#a6c559 59.7%,#c5b43a 60.4%,#c65339 61.9%,#c62c39 62.6%,#c61139 63.3%,#c60c39 64.7%,#c71a38 65.5%,#c73938 66.2%,#c69039 67.6%,#c6c039 68.3%,#a0c75f 69.1%,#77c788 69.8%,#55c7aa 70.5%,#22c6dd 71.9%,#01c4fd 73.4%,#0089fc 76.3%,#0062f7 79.1%,#0040e8 84.9%,#0011b4 96.4%,#0008a2 100%)"></i><i style="background:linear-gradient(#010993 0%,#0c1393 2.2%,#1a1a8b 3.6%,#2e038a 7.9%,#3e0488 10.1%,#491185 11.5%,#5f497f 14.4%,#6b697a 15.8%,#5a939b 20.1%,#4ba1ae 21.6%,#07acf5 25.2%,#00a8fc 25.9%,#008dfd 28.1%,#0083fe 30.2%,#008afe 31.7%,#009fff 33.1%,#00c2ff 34.5%,#27c7d8 36%,#50c6af 37.4%,#5ec5a1 38.1%,#66c499 38.8%,#66c299 39.6%,#53beac 41%,#21b4dd 43.2%,#16b1e8 43.9%,#14adea 44.6%,#1ca9e1 45.3%,#31a4cc 46%,#52a0ab 46.8%,#7d9c80 47.5%,#978265 48.2%,#934c69 48.9%,#8e1f6d 49.6%,#8a0871 50.4%,#820879 51.8%,#7e157d 52.5%,#765d84 54%,#667393 54.7%,#456fb4 55.4%,#2f6cca 56.1%,#2569d4 56.8%,#2567d4 57.6%,#2d64cb 58.3%,#5160a7 59.7%,#5e559a 60.4%,#5b269c 61.9%,#59079e 63.3%,#5705a0 64.7%,#570ba0 65.5%,#572ba0 66.9%,#58559f 68.3%,#275bd1 70.5%,#0860ef 72.7%,#0162f6 73.4%,#0043f0 78.4%,#0038d8 92.1%,#001cb3 100%)"></i><i style="background:linear-gradient(#010692 0%,#0f1291 2.9%,#19148d 4.3%,#2e038a 7.9%,#420485 10.1%,#501381 11.5%,#633f7a 13.7%,#767472 15.8%,#5b959b 20.1%,#499bb0 21.6%,#058ef3 25.2%,#0077f9 26.6%,#005af8 28.8%,#004cf7 30.9%,#0051f5 33.8%,#0055f4 34.5%,#1b44d6 37.4%,#1d37d1 39.6%,#0423e4 43.9%,#081bdd 46%,#1512ce 48.2%,#1001d0 50.4%,#0c05d1 53.2%,#060ad5 55.4%,#0607d2 59.7%,#0601d1 65.5%,#0007d5 74.8%,#0010b7 95%,#000fa8 100%)"></i><i style="background:linear-gradient(#00018e 0%,#0d03a6 11.5%,#1215b9 17.3%,#0414d5 23.7%,#0008d9 29.5%,#0000c0 53.2%,#0000ba 75.5%,#00019f 96.4%,#000198 100%)"></i><i style="background:linear-gradient(#00008d 0%,#0000a3 12.2%,#0000b9 23%,#0000ba 33.8%,#0000b1 63.3%,#0000ae 74.8%,#000090 100%)"></i></div>
<div class="im" style="left:5.8px;top:1559.9px;width:315.7px;height:823px;transform:matrix(1,-0.9667,0,1,0,0)"><i style="background:linear-gradient(#00008c 0%,#0000a2 12.2%,#0000b5 15.8%,#0000c9 23%,#0000d8 28.1%,#0000e7 33.1%,#0000eb 65.5%,#0001ff 74.1%,#0005ff 81.3%,#0005ff 100%)"></i><i style="background:linear-gradient(#00008c 0%,#0000a2 12.2%,#0000b5 15.8%,#0000c9 23%,#0000d8 28.1%,#0000e7 33.1%,#0000eb 65.5%,#0001ff 74.1%,#0005ff 81.3%,#0005ff 100%)"></i><i style="background:linear-gradient(#00008c 0%,#0000a2 12.2%,#0000b5 15.8%,#0000c9 23%,#0000d8 28.1%,#0000e7 33.1%,#0000eb 65.5%,#0001ff 74.1%,#0005ff 81.3%,#0005ff 100%)"></i><i style="background:linear-gradient(#00008c 0%,#0000a2 12.2%,#0000b5 15.8%,#0000c9 23%,#0000d8 28.1%,#0000e7 33.1%,#0000eb 65.5%,#0001ff 74.1%,#0005ff 81.3%,#0005ff 100%)"></i><i style="background:linear-gradient(#00008c 0%,#0000a2 12.2%,#0000b5 15.8%,#0000c9 23%,#0000d8 28.1%,#0000e7 33.1%,#0000eb 65.5%,#0001ff 74.1%,#0005ff 81.3%,#0005ff 100%)"></i><i style="background:linear-gradient(#00008c 0%,#0000a2 12.2%,#0000b5 15.8%,#0000c9 23%,#0000d8 28.1%,#0000e7 33.1%,#0000eb 65.5%,#0001ff 74.1%,#0005ff 81.3%,#0005ff 100%)"></i><i style="background:linear-gradient(#00008c 0%,#0000a2 12.2%,#0000b5 15.8%,#0000c9 23%,#0000d8 28.1%,#0000e7 33.1%,#0000eb 65.5%,#0001ff 74.1%,#0005ff 81.3%,#0005ff 100%)"></i><i style="background:linear-gradient(#00008c 0%,#0000a2 12.2%,#0000b5 15.8%,#0000c9 23%,#0000d8 28.1%,#0000e7 33.1%,#0000eb 65.5%,#0001ff 74.1%,#0005ff 81.3%,#0005ff 100%)"></i><i style="background:linear-gradient(#00008c 0%,#0000a2 12.2%,#0000b5 15.8%,#0000c9 23%,#0000d8 28.1%,#0000e7 33.1%,#0000eb 65.5%,#0001ff 74.1%,#0005ff 81.3%,#0005ff 100%)"></i><i style="background:linear-gradient(#00008c 0%,#0000a2 12.2%,#0000b5 15.8%,#0000c9 23%,#0000d8 28.1%,#0000e7 33.1%,#0000eb 65.5%,#0001ff 74.1%,#0005ff 81.3%,#0005ff 100%)"></i><i style="background:linear-gradient(#00008c 0%,#0000a3 12.2%,#0000b6 15.8%,#00c 23%,#0000da 28.1%,#0000e9 33.1%,#0000eb 65.5%,#0001ff 74.1%,#0005ff 81.3%,#0005ff 96.4%,#0028ff 97.1%,#002aff 98.6%,#004eff 99.3%,#0050ff 100%)"></i><i style="background:linear-gradient(#00008c 0%,#0000a2 8.6%,#0000ad 12.2%,#0000ca 15.1%,#0000e3 23%,#0001f9 33.1%,#0001f9 52.5%,#0000e9 61.2%,#0000ef 66.9%,#0001ff 74.1%,#0005ff 81.3%,#0005ff 88.5%,#0027ff 89.2%,#002aff 90.6%,#004eff 91.4%,#0050ff 92.1%,#0075ff 92.8%,#007bff 94.2%,#00a1ff 95%,#00c6ff 100%)"></i><i style="background:linear-gradient(#00008c 0%,#0000a3 7.2%,#0000b6 10.8%,#0000b7 11.5%,#0000cd 12.9%,#0000ec 14.4%,#0003f4 15.1%,#0012fc 19.4%,#0021ff 23%,#0027ff 37.4%,#0043ff 49.6%,#0043ff 51.1%,#0021ff 53.2%,#000bff 56.1%,#0000f4 62.6%,#00e 66.2%,#0001ff 74.1%,#0005ff 81.3%,#0005ff 82.7%,#001aff 83.5%,#001cff 84.2%,#0037ff 84.9%,#003dff 85.6%,#0086ff 87.1%,#00afff 89.9%,#00deff 95.7%,#0df4f2 98.6%,#1afbe5 100%)"></i><i style="background:linear-gradient(#00008c 0%,#0000a0 5.8%,#0000d1 10.1%,#0000d7 11.5%,#0002f3 12.9%,#000cfd 13.7%,#002eff 15.1%,#003bff 17.3%,#0079ff 21.6%,#0082ff 23%,#008eff 27.3%,#00a2ff 32.4%,#00a8ff 35.3%,#03c5fc 38.8%,#12dbed 41.7%,#37efc8 46%,#4ff4b0 49.6%,#50f4af 51.1%,#2ee2d1 52.5%,#14c8eb 54%,#0094ff 56.1%,#0059ff 58.3%,#002eff 60.4%,#0016ff 62.6%,#0008fe 64.7%,#0000fd 71.9%,#0005ff 78.4%,#0013ff 79.1%,#0027ff 79.9%,#002eff 80.6%,#0048ff 81.3%,#004eff 82%,#0069ff 82.7%,#009aff 85.6%,#00d4ff 88.5%,#05e7fa 89.9%,#1ef9e1 92.8%,#4fb 95%,#b6ff49 100%)"></i><i style="background:linear-gradient(#00008c 0%,#00009d 2.9%,#0000ac 5.8%,#0000c5 7.2%,#0001e6 8.6%,#000cf6 10.1%,#0012fa 11.5%,#0020fe 12.2%,#005fff 13.7%,#0080ff 14.4%,#0098ff 15.1%,#00acff 17.3%,#05d0fa 19.4%,#15e9ea 21.6%,#26f7d9 27.3%,#3fffc0 32.4%,#48ffb7 35.3%,#61ff9e 37.4%,#a3ff5c 41%,#ccfa33 43.2%,#e7ea18 45.3%,#f5d50a 47.5%,#fbc204 50.4%,#fbc204 51.1%,#e8df17 53.2%,#c3f23c 55.4%,#8bff74 57.6%,#5ff7a0 59%,#38e8c7 60.4%,#11bfee 62.6%,#09aaf6 63.3%,#008cff 64%,#006bff 64.7%,#0051ff 65.5%,#003cff 66.2%,#0026ff 67.6%,#0006ff 74.8%,#0010ff 76.3%,#001bff 77%,#007aff 80.6%,#00acff 83.5%,#02d2fd 84.9%,#0be3f4 85.6%,#31face 87.1%,#5cffa3 88.5%,#a8ff57 91.4%,#d2f22d 93.5%,#efd210 95.7%,#fe9e01 97.8%,#ff7000 99.3%,#fb5c00 100%)"></i><i style="background:linear-gradient(#00008c 0%,#000095 1.4%,#0000b5 4.3%,#0000b7 5%,#0000c2 5.8%,#0003f4 7.2%,#001bff 7.9%,#005eff 9.4%,#07f 10.1%,#0086ff 10.8%,#008aff 11.5%,#009fff 12.2%,#00c2ff 12.9%,#06e5f9 13.7%,#1bf7e4 14.4%,#31ffce 15.1%,#3bffc4 15.8%,#47ffb8 17.3%,#9dff62 21.6%,#a9ff56 23%,#b4ff4b 26.6%,#d1ff2e 32.4%,#daff25 35.3%,#ecf713 37.4%,#fbdf04 39.6%,#ffb600 41.7%,#ff5c00 46%,#ff3b00 48.2%,#ff2b00 50.4%,#ff2a00 51.1%,#ff4a00 54.7%,#f60 57.6%,#ff8000 59%,#ff9200 59.7%,#ebc414 61.9%,#cee131 63.3%,#8dfd72 64.7%,#66fa99 65.5%,#44efbb 66.2%,#15caea 67.6%,#0097ff 69.1%,#0064ff 70.5%,#0045ff 71.9%,#0028ff 74.8%,#0029ff 75.5%,#0049ff 77%,#0092ff 79.1%,#03cafc 80.6%,#0cdef3 81.3%,#2ff6d0 82.7%,#48fdb7 83.5%,#affd50 85.6%,#caf235 86.3%,#e0e01f 87.1%,#efcd10 87.8%,#ff9200 89.9%,#f85100 92.1%,#ee2f00 93.5%,#d80e00 95.7%,#be0000 97.8%,#a70000 100%)"></i><i style="background:linear-gradient(#00008c 0%,#000097 1.4%,#0000c0 4.3%,#0000c2 5%,#0000d1 5.8%,#00e 6.5%,#0018ff 7.2%,#009eff 9.4%,#00bfff 10.1%,#00d3ff 10.8%,#00d8ff 11.5%,#00ecff 12.2%,#0dfff2 12.9%,#58ffa7 14.4%,#73ff8c 15.1%,#7dff82 15.8%,#8f7 17.3%,#dbff24 21.6%,#e6ff19 23%,#f3ff0c 27.3%,#fffa00 30.9%,#fe0 35.3%,#ffd600 37.4%,#ff9500 41%,#ff3100 46%,#ff0b00 48.9%,#ff0200 51.1%,#f20000 54.7%,#d80000 59%,#d70200 61.2%,#e61600 63.3%,#ef2b00 64%,#fe6700 65.5%,#fd8f02 66.2%,#e1ce1e 67.6%,#cbe534 68.3%,#8cff73 69.8%,#64fb9b 70.5%,#44f1bb 71.2%,#16d0e9 72.7%,#00a0ff 74.1%,#0083ff 74.8%,#007cff 75.5%,#009eff 76.3%,#08bef7 77%,#18dae7 77.7%,#2ef0d1 78.4%,#4efbb1 79.1%,#9bff64 80.6%,#d3eb2c 82%,#f3b80c 83.5%,#fd9502 84.2%,#fe6c00 84.9%,#eb2c00 86.3%,#df1600 87.1%,#cb0400 88.5%,#b00000 90.6%,#980000 94.2%,#860000 100%)"></i><i style="background:linear-gradient(#00008c 0%,#000095 1.4%,#0000b5 4.3%,#0000b7 5%,#0000c3 5.8%,#0003f6 7.2%,#001eff 7.9%,#0063ff 9.4%,#007dff 10.1%,#008cff 10.8%,#0091ff 11.5%,#00a6ff 12.2%,#00c9ff 12.9%,#08eaf7 13.7%,#1ffae0 14.4%,#36ffc9 15.1%,#41ffbe 15.8%,#4cffb3 17.3%,#a2ff5d 21.6%,#aeff51 23%,#baff45 26.6%,#d8ff27 32.4%,#e1ff1e 35.3%,#f1f60e 37.4%,#fedc01 39.6%,#ff5800 46%,#ff3100 48.9%,#ff2600 51.1%,#fa0400 54%,#bd0000 59%,#ad0000 61.2%,#ae0000 63.3%,#ba0000 65.5%,#cf0100 66.9%,#e41800 68.3%,#ed2d00 69.1%,#fd6c00 70.5%,#fb9304 71.2%,#f0b50f 71.9%,#c9e936 73.4%,#86ff79 74.8%,#75ff8a 75.5%,#9efb61 76.3%,#c0ef3f 77%,#eec311 78.4%,#ff7900 79.9%,#ef3500 81.3%,#e21e00 82%,#c80200 83.5%,#a00 84.9%,#950000 87.1%,#830000 93.5%,#830000 100%)"></i><i style="background:linear-gradient(#00008c 0%,#00009d 2.9%,#0000ad 5.8%,#0000c9 7.2%,#0002ec 8.6%,#0011fc 10.1%,#001afe 11.5%,#002cff 12.2%,#0091ff 14.4%,#0af 15.1%,#00b4ff 15.8%,#00bfff 17.3%,#0fe8f0 20.1%,#22f7dd 22.3%,#32fdcd 26.6%,#5bffa4 31.7%,#67ff98 35.3%,#8f7 38.1%,#d1fb2e 42.4%,#eaec15 44.6%,#f8d607 46.8%,#ffc000 49.6%,#fb0 51.1%,#ff8100 53.2%,#fd2400 56.1%,#f00800 57.6%,#d70000 59%,#b80000 61.2%,#a30000 65.5%,#a50000 69.1%,#af0000 70.5%,#c80100 71.9%,#e11a00 73.4%,#ec3100 74.1%,#f64f00 74.8%,#f95e00 75.5%,#f23c00 76.3%,#d91000 77.7%,#ca0400 78.4%,#a30000 80.6%,#890000 84.2%,#820000 88.5%,#860000 100%)"></i><i style="background:linear-gradient(#00008c 0%,#0000a2 5.8%,#0000dc 10.1%,#0000e3 11.5%,#0000ef 12.2%,#0008fc 12.9%,#0036ff 14.4%,#0047ff 15.1%,#0056ff 17.3%,#0096ff 21.6%,#009fff 23%,#0af 25.9%,#00d1ff 30.9%,#06e0f9 36%,#15f3ea 38.8%,#38ffc7 41.7%,#87ff78 46.8%,#a1ff5e 49.6%,#a6ff59 51.1%,#d1fb2e 53.2%,#e0f51f 54%,#f6da09 55.4%,#ffad00 56.8%,#fd3e00 59.7%,#f11b00 61.2%,#e20900 62.6%,#ce0000 64%,#ad0000 66.2%,#950000 69.1%,#900000 71.9%,#a50000 75.5%,#8e0000 78.4%,#830000 82%,#890000 100%)"></i><i style="background:linear-gradient(#00008c 0%,#0000a3 6.5%,#0000bf 10.1%,#0000c4 11.5%,#0000ce 12.2%,#0001f4 13.7%,#000bfe 14.4%,#0019ff 15.1%,#002dff 18.7%,#0046ff 22.3%,#0053ff 27.3%,#06f 33.1%,#006cff 35.3%,#0089ff 38.1%,#02e0fd 43.9%,#0df5f2 46%,#21ffde 48.9%,#29ffd6 51.1%,#53ffac 54%,#85ff7a 56.1%,#b0ff4f 57.6%,#d5f42a 59%,#eedb11 60.4%,#ffa700 62.6%,#ff9000 63.3%,#ff4600 64.7%,#f82900 65.5%,#ec1300 66.2%,#dd0500 66.9%,#b70000 68.3%,#9e0000 69.8%,#800 72.7%,#860000 81.3%,#8c0000 100%)"></i><i style="background:linear-gradient(#00008c 0%,#0000a6 7.2%,#00b 10.8%,#0000c3 12.2%,#0000f3 15.1%,#0006ff 19.4%,#0015ff 23%,#0024ff 28.8%,#0035ff 35.3%,#0050ff 38.1%,#00cbff 46.8%,#00e3ff 49.6%,#01ebfe 53.2%,#0cecf3 56.8%,#22f5dd 59%,#4cfeb3 61.2%,#74ff8b 62.6%,#8dff72 63.3%,#b6fb49 64%,#dbed24 64.7%,#f5d20a 65.5%,#ffa800 66.2%,#ff4600 67.6%,#fb1f00 68.3%,#ed0700 69.1%,#d60000 69.8%,#a00 71.2%,#930000 72.7%,#890000 74.8%,#8f0000 100%)"></i><i style="background:linear-gradient(#00008c 0%,#0000a5 7.2%,#0000b9 10.8%,#0000bf 12.2%,#0000e5 15.1%,#0000f7 19.4%,#0006ff 22.3%,#001dff 35.3%,#003dff 38.8%,#00a4ff 46.8%,#00b9ff 49.6%,#00baff 52.5%,#0089ff 57.6%,#0086ff 59.7%,#009eff 61.9%,#00abff 62.6%,#00bfff 63.3%,#0bdcf4 64%,#25f5da 64.7%,#57ffa8 65.5%,#97ff68 66.2%,#d3f72c 66.9%,#f7d708 67.6%,#ff9e00 68.3%,#ff6200 69.1%,#ff2d00 69.8%,#f60900 70.5%,#da0000 71.2%,#be0000 71.9%,#a90000 72.7%,#9b0000 73.4%,#920000 74.8%,#920000 97.8%,#930000 100%)"></i><i style="background:linear-gradient(#00008c 0%,#0000a4 7.2%,#0000b7 10.8%,#0000bd 12.2%,#00d 15.1%,#0000ed 19.4%,#0000fb 23%,#0006ff 28.1%,#0017ff 35.3%,#0038ff 38.8%,#00a0ff 46.8%,#00b6ff 49.6%,#00b6ff 51.8%,#009cff 54%,#0038ff 59%,#0021ff 61.2%,#0024ff 62.6%,#002fff 63.3%,#004fff 64%,#007cff 64.7%,#00b4ff 65.5%,#0de8f2 66.2%,#3bffc4 66.9%,#cefe31 68.3%,#f9e106 69.1%,#ff6000 70.5%,#ff2700 71.2%,#ef0600 71.9%,#b30000 73.4%,#a20000 74.1%,#9b0000 75.5%,#a00000 79.1%,#960000 82%,#950000 92.8%,#a80000 97.8%,#b70000 100%)"></i><i style="background:linear-gradient(#00008c 0%,#0000a3 7.2%,#0000b5 10.8%,#0000ba 12.2%,#0000d7 15.1%,#0000e6 19.4%,#0000f3 23%,#0002ff 28.8%,#0012ff 35.3%,#002cff 38.1%,#00a5ff 46.8%,#00bdff 49.6%,#00bdff 51.8%,#00a3ff 54%,#0050ff 57.6%,#0021ff 59.7%,#0007ff 61.9%,#0009ff 63.3%,#0019ff 64%,#0036ff 64.7%,#005eff 65.5%,#0090ff 66.2%,#00cbff 66.9%,#12fced 67.6%,#a0ff5f 69.1%,#e4fa1b 69.8%,#ffcf00 70.5%,#ff8e00 71.2%,#ff5400 71.9%,#ff2300 72.7%,#f20a00 73.4%,#e00100 74.1%,#d10000 74.8%,#ca0000 75.5%,#d20000 77%,#c90000 78.4%,#9e0000 81.3%,#9e0000 83.5%,#ab0000 88.5%,#b50000 91.4%,#ee0300 98.6%,#f50800 100%)"></i><i style="background:linear-gradient(#00008c 0%,#0000a2 7.2%,#0000b4 10.8%,#0000be 12.9%,#0000d1 15.1%,#0000e3 20.1%,#0004ff 30.9%,#000dff 35.3%,#0029ff 38.1%,#00a8ff 46.8%,#00c1ff 49.6%,#00c3ff 51.8%,#00b3ff 54%,#0090ff 56.1%,#001eff 61.2%,#000cff 62.6%,#000bff 63.3%,#0014ff 64%,#0029ff 64.7%,#0048ff 65.5%,#0072ff 66.2%,#00a2ff 66.9%,#00daff 67.6%,#16ffe9 68.3%,#d6ff29 70.5%,#fde802 71.2%,#ff7f00 72.7%,#ff5600 73.4%,#ff3900 74.1%,#ff2800 74.8%,#fe1d00 75.5%,#fe1700 77%,#f40300 78.4%,#c10000 80.6%,#b90000 81.3%,#bc0000 82%,#e00000 85.6%,#eb0200 88.5%,#f70a00 92.1%,#ff2900 96.4%,#ff4b00 100%)"></i><i style="background:linear-gradient(#00008c 0%,#0000a1 7.2%,#0000b2 10.8%,#00b 12.9%,#00c 15.1%,#0000df 20.9%,#0000ef 27.3%,#0002ff 32.4%,#0008ff 35.3%,#0023ff 38.1%,#00a0ff 46.8%,#00b8ff 49.6%,#00bdff 54%,#00b2ff 56.1%,#008dff 59%,#05f 62.6%,#004cff 64%,#0052ff 64.7%,#0061ff 65.5%,#0078ff 66.2%,#09f 66.9%,#00c1ff 67.6%,#00efff 68.3%,#23ffdc 69.1%,#c8ff37 71.2%,#f3f70c 71.9%,#ffd500 72.7%,#ffaf00 73.4%,#ff9300 74.1%,#ff7300 75.5%,#ff6e00 76.3%,#ff5000 77.7%,#ff2700 79.1%,#fd1700 79.9%,#f90d00 80.6%,#f90d00 82%,#ff2a00 85.6%,#ff4100 90.6%,#ff9c00 100%)"></i><i style="background:linear-gradient(#00008c 0%,#0000a4 7.9%,#0000b8 12.9%,#0000c8 15.8%,#00d 23.7%,#0000fc 33.1%,#0003ff 35.3%,#001dff 38.1%,#0096ff 46.8%,#00adff 49.6%,#00c6ff 57.6%,#00bcff 60.4%,#009dff 64%,#009dff 64.7%,#00a4ff 65.5%,#00c3ff 66.9%,#01f8fe 68.3%,#1cffe3 69.1%,#dbff24 72.7%,#f4f80b 73.4%,#fde902 74.1%,#ffcd00 75.5%,#ffc500 76.3%,#ffa100 77.7%,#ff5e00 79.9%,#ff5000 80.6%,#ff4900 81.3%,#ff8300 88.5%,#fd0 100%)"></i><i style="background:linear-gradient(#00008c 0%,#0000a3 7.9%,#0000ba 13.7%,#0000c4 16.5%,#0000d5 23.7%,#0000f5 33.1%,#0001fe 36%,#001dff 38.8%,#008aff 46.8%,#00a0ff 49.6%,#00aeff 53.2%,#00d8ff 59%,#0df 61.9%,#00daff 64.7%,#00e7ff 66.2%,#05fbfa 67.6%,#13ffec 68.3%,#5cffa3 70.5%,#aeff51 72.7%,#d5ff2a 74.1%,#f4fc0b 76.3%,#fdf202 77%,#ff9c00 79.9%,#ff8e00 80.6%,#ff8700 81.3%,#ff9300 82.7%,#ffc500 87.8%,#ffea00 95%,#f6fc09 98.6%,#eefe11 100%)"></i><i style="background:linear-gradient(#00008c 0%,#0000a2 7.9%,#0000be 15.8%,#0000d9 27.3%,#0000eb 33.1%,#0000f3 36%,#0006ff 38.1%,#006aff 46.8%,#007eff 49.6%,#0086ff 51.8%,#00dfff 59%,#00f0ff 61.9%,#00f1ff 64.7%,#00fcff 66.2%,#1fe 67.6%,#3effc1 69.8%,#9f6 73.4%,#c6ff39 76.3%,#ebff14 77.7%,#f9f706 78.4%,#ffd600 79.9%,#ffc900 80.6%,#ffc400 81.3%,#ffe700 85.6%,#fafb05 92.8%,#e5ff1a 95.7%,#bfff40 100%)"></i><i style="background:linear-gradient(#00008c 0%,#0000a1 7.9%,#0000b9 16.5%,#0000c9 23.7%,#0000e1 33.1%,#0000ea 36.7%,#0005fd 40.3%,#003dff 48.2%,#04f 51.1%,#0061ff 53.2%,#0cf 59%,#00e6ff 61.2%,#00feff 65.5%,#1cffe3 68.3%,#79ff86 74.1%,#95ff6a 76.3%,#cdff32 78.4%,#f1fe0e 79.9%,#fef601 81.3%,#f0ff0f 87.1%,#e0ff1f 92.1%,#9f6 99.3%,#95ff6a 100%)"></i><i style="background:linear-gradient(#00008c 0%,#0000a3 8.6%,#0000c4 23.7%,#0000d7 33.8%,#0000e6 39.6%,#0004fc 45.3%,#000fff 51.1%,#0027ff 53.2%,#0065ff 56.1%,#00b7ff 59.7%,#00d5ff 61.9%,#0ef 65.5%,#03fcfc 66.9%,#58ffa7 74.1%,#6f9 75.5%,#81ff7e 77%,#d1ff2e 79.9%,#e7ff18 81.3%,#d6ff29 85.6%,#baff45 92.1%,#71ff8e 99.3%,#6cff93 100%)"></i><i style="background:linear-gradient(#00008c 0%,#0000a2 8.6%,#0000bd 21.6%,#0000d5 38.1%,#0000f8 48.9%,#0002fe 52.5%,#0019ff 54.7%,#004fff 57.6%,#09f 61.2%,#00c8ff 64.7%,#01fafe 68.3%,#2fd 71.2%,#3fffc0 74.1%,#4cffb3 75.5%,#6f9 77%,#b4ff4b 79.9%,#caff35 81.3%,#c2ff3d 83.5%,#8cff73 92.8%,#47ffb8 99.3%,#42ffbd 100%)"></i><i style="background:linear-gradient(#00008c 0%,#0000ad 13.7%,#0000b8 22.3%,#0000c6 30.2%,#0000d5 39.6%,#0000ef 49.6%,#0000f7 53.2%,#0008fe 55.4%,#0038ff 59%,#006aff 62.6%,#007dff 64%,#00e6ff 69.1%,#03fbfc 70.5%,#25ffda 74.1%,#32ffcd 75.5%,#4cffb3 77%,#98ff67 79.9%,#adff52 81.3%,#a3ff5c 83.5%,#75ff8a 89.9%,#63ff9c 92.8%,#18ffe7 99.3%,#13ffec 100%)"></i><i style="background:linear-gradient(#00008c 0%,#0000ac 13.7%,#0000b3 17.3%,#0000b7 25.2%,#0000d0 33.1%,#0000e2 45.3%,#00e 55.4%,#0008fb 59%,#002eff 63.3%,#006cff 66.2%,#00d4ff 70.5%,#00efff 71.9%,#06fdf9 73.4%,#18ffe7 75.5%,#30ffcf 77%,#78ff87 79.9%,#8cff73 81.3%,#87ff78 82.7%,#4affb5 89.9%,#35ffca 92.8%,#0afcf5 96.4%,#00edff 98.6%,#00e1ff 100%)"></i><i style="background:linear-gradient(#00008c 0%,#0000a8 12.9%,#0000b3 15.8%,#0000be 25.9%,#0000d6 32.4%,#0000e6 53.2%,#0000ea 61.2%,#0005f8 64%,#001bff 65.5%,#00a1ff 70.5%,#00ceff 72.7%,#01f3fe 75.5%,#0bfdf4 77%,#54ffab 79.9%,#6aff95 81.3%,#64ff9b 82.7%,#3fffc0 86.3%,#20ffdf 89.2%,#08fbf7 92.8%,#00eaff 95%,#00c4ff 98.6%,#00bdff 100%)"></i><i style="background:linear-gradient(#00008c 0%,#0000a6 12.9%,#0000b3 15.8%,#0000c7 26.6%,#00d 33.1%,#0000e6 59%,#0000e9 64%,#0004fe 66.2%,#03f 68.3%,#0090ff 71.9%,#00b5ff 74.1%,#00cfff 76.3%,#00f0ff 77.7%,#09fdf6 78.4%,#3effc1 80.6%,#46ffb9 81.3%,#3effc1 82.7%,#0ffdf0 86.3%,#02f1fd 88.5%,#00caff 94.2%,#00acff 98.6%,#00a7ff 100%)"></i><i style="background:linear-gradient(#00008c 0%,#0000a2 12.2%,#0000b3 15.8%,#0000c6 23.7%,#0000e4 33.1%,#0000e8 64%,#0002ff 66.9%,#03f 69.8%,#007cff 73.4%,#00a3ff 76.3%,#00c6ff 77.7%,#01effe 79.1%,#08f9f7 79.9%,#14feeb 81.3%,#05f5fa 83.5%,#00d6ff 86.3%,#00c5ff 88.5%,#00a6ff 95%,#0094ff 99.3%,#0094ff 100%)"></i><i style="background:linear-gradient(#00008c 0%,#0000a9 12.2%,#0000c0 15.1%,#0000d1 20.1%,#0000eb 29.5%,#0000f3 34.5%,#0000f4 51.8%,#0000e6 59.7%,#0000e9 64.7%,#0002fe 67.6%,#003cff 71.9%,#0075ff 76.3%,#00c9ff 79.9%,#00d2ff 80.6%,#00d5ff 81.3%,#00a2ff 86.3%,#009cff 88.5%,#0097ff 95%,#00aeff 99.3%,#00b3ff 100%)"></i><i style="background:linear-gradient(#00008c 0%,#0000a0 7.2%,#0000b1 11.5%,#0000c3 12.9%,#0000e7 15.1%,#000bf8 21.6%,#0012ff 39.6%,#001cff 51.1%,#0009ff 54%,#0000f3 60.4%,#0000eb 65.5%,#0003fe 69.1%,#004eff 76.3%,#0086ff 79.1%,#0095ff 80.6%,#0095ff 81.3%,#07f 84.2%,#0075ff 85.6%,#08f 87.8%,#00a6ff 90.6%,#00d1ff 96.4%,#06eff9 100%)"></i><i style="background:linear-gradient(#00008c 0%,#0000a3 6.5%,#0000c6 10.1%,#00c 11.5%,#0000d5 12.2%,#0003f7 13.7%,#001bff 15.1%,#002eff 18%,#005aff 21.6%,#0062ff 23.7%,#007aff 36%,#00a0ff 41%,#0bbef4 45.3%,#17cce8 49.6%,#18cce7 51.1%,#0199fe 53.2%,#004dff 56.1%,#0027ff 58.3%,#000dff 61.2%,#0001f8 66.2%,#0000fa 69.8%,#0009ff 71.9%,#0035ff 77%,#0057ff 79.9%,#06f 83.5%,#0089ff 85.6%,#00bfff 88.5%,#00e1ff 91.4%,#13f5ec 94.2%,#31fece 96.4%,#7bff84 100%)"></i><i style="background:linear-gradient(#00008c 0%,#0000a6 5.8%,#0000c8 7.9%,#0001eb 10.1%,#0003f1 11.5%,#000af9 12.2%,#001dff 12.9%,#0056ff 14.4%,#006bff 15.1%,#007dff 17.3%,#00c0ff 20.9%,#04cffb 22.3%,#08dcf7 26.6%,#19f1e6 32.4%,#1ef5e1 35.3%,#38fcc7 38.1%,#5bffa4 40.3%,#bbfd44 45.3%,#d8f127 48.2%,#dfe920 51.1%,#c4f53b 52.5%,#8bff74 54.7%,#61f99e 56.1%,#3aecc5 57.6%,#13c4ec 59.7%,#008eff 61.9%,#0062ff 63.3%,#0047ff 64%,#03f 64.7%,#001dff 66.2%,#0005ff 73.4%,#000bff 75.5%,#001bff 77%,#0059ff 79.9%,#07f 81.3%,#00a3ff 84.2%,#04dafb 86.3%,#1cf4e3 87.8%,#48ffb7 89.9%,#bcfc43 95%,#e0e71f 97.1%,#f2cf0d 98.6%,#fbac04 100%)"></i><i style="background:linear-gradient(#00008c 0%,#00009b 2.2%,#0000b0 4.3%,#0000b1 5%,#0000ba 5.8%,#0000cd 6.5%,#0000e5 7.2%,#000bf7 7.9%,#0039ff 9.4%,#004eff 10.1%,#005aff 10.8%,#005eff 11.5%,#0073ff 12.2%,#00bfff 13.7%,#07dff8 14.4%,#15eeea 15.1%,#22f7dd 17.3%,#45ffba 19.4%,#70ff8f 21.6%,#7cff83 23%,#8f7 26.6%,#a8ff57 32.4%,#b1ff4e 35.3%,#d4fc2b 38.1%,#edec12 40.3%,#fdcc02 42.4%,#ff7800 46.8%,#ff5c00 48.9%,#ff5300 51.1%,#fea401 56.8%,#edc812 59%,#c6ea39 61.2%,#85ff7a 63.3%,#3cecc3 64.7%,#11c0ee 66.2%,#0089ff 67.6%,#0058ff 69.1%,#003cff 70.5%,#001aff 74.8%,#001cff 75.5%,#004dff 77.7%,#00bcff 81.3%,#0bdef4 82.7%,#2ef6d1 84.2%,#49feb6 84.9%,#b1fe4e 87.1%,#c7f538 87.8%,#e1e21e 89.2%,#f8b407 91.4%,#ff7400 93.5%,#f33b00 95.7%,#df1300 97.8%,#c70000 100%)"></i><i style="background:linear-gradient(#00008c 0%,#000097 1.4%,#0000be 4.3%,#0000c1 5%,#0000ce 5.8%,#0000eb 6.5%,#0013ff 7.2%,#0095ff 9.4%,#00b5ff 10.1%,#00c8ff 10.8%,#00ceff 11.5%,#00e1ff 12.2%,#09f9f6 12.9%,#4fffb0 14.4%,#6bff94 15.1%,#75ff8a 15.8%,#80ff7f 17.3%,#d4ff2b 21.6%,#dfff20 23%,#ecff13 27.3%,#fafa05 31.7%,#fef301 35.3%,#ffdb00 37.4%,#ff9a00 41%,#ff3500 46%,#ff0e00 48.9%,#ff0500 51.1%,#f10800 56.8%,#eb1000 59.7%,#f02a00 61.9%,#f53800 62.6%,#f94d00 63.3%,#ff6f00 64%,#fb9604 64.7%,#efb810 65.5%,#c5ea3a 66.9%,#80ff7f 68.3%,#3beec4 69.8%,#11c9ee 71.2%,#0098ff 72.7%,#06f 74.1%,#0053ff 74.8%,#0051ff 75.5%,#0069ff 76.3%,#00adff 77.7%,#0acbf5 78.4%,#1ce3e3 79.1%,#33f5cc 79.9%,#50feaf 80.6%,#97ff68 82%,#d0ee2f 83.5%,#f3bd0c 84.9%,#fc9a03 85.6%,#ff7100 86.3%,#f74e00 87.1%,#f03300 87.8%,#da0f00 89.9%,#c00000 92.1%,#a30000 95%,#8d0000 100%)"></i><i style="background:linear-gradient(#00008c 0%,#000096 1.4%,#0000ba 4.3%,#0000bd 5%,#0000c9 5.8%,#0000e4 6.5%,#000bfd 7.2%,#0081ff 9.4%,#009eff 10.1%,#00b0ff 10.8%,#00b5ff 11.5%,#00c9ff 12.2%,#03e8fc 12.9%,#18fbe7 13.7%,#56ffa9 15.1%,#61ff9e 15.8%,#6cff93 17.3%,#c1ff3e 21.6%,#cdff32 23%,#dbff24 27.3%,#eefd11 31.7%,#f5fa0a 35.3%,#fee901 37.4%,#ffb600 40.3%,#ff4000 46%,#ff1900 48.9%,#fa0200 53.2%,#ba0000 59.7%,#b30000 61.9%,#be0000 64%,#d40300 65.5%,#de0d00 66.2%,#f13300 67.6%,#ff7500 69.1%,#eebd11 70.5%,#c2ed3d 71.9%,#7dff82 73.4%,#39efc6 74.8%,#2fe9d0 75.5%,#73ff8c 77%,#9efd61 77.7%,#bff140 78.4%,#edc812 79.9%,#ff8100 81.3%,#f23a00 82.7%,#d80f00 84.2%,#ca0400 84.9%,#ac0000 86.3%,#9c0000 87.8%,#850000 95%,#820000 100%)"></i><i style="background:linear-gradient(#00008c 0%,#009 2.2%,#0000ab 4.3%,#0000b4 5.8%,#0000d7 7.2%,#0002ec 7.9%,#000ef8 8.6%,#002eff 10.1%,#003bff 11.5%,#0050ff 12.2%,#09f 13.7%,#00beff 14.4%,#05d5fa 15.1%,#12eaed 18%,#3afec5 20.9%,#4effb1 22.3%,#5cffa3 25.9%,#87ff78 31.7%,#93ff6c 35.3%,#b6ff49 38.1%,#e2f61d 41%,#f9d406 43.9%,#ffa800 46.8%,#ff8e00 48.9%,#ff8300 51.1%,#fb1500 55.4%,#ec0300 56.8%,#be0000 59.7%,#ab0000 61.9%,#a60000 66.2%,#ae0000 68.3%,#c00000 69.8%,#cc0300 70.5%,#d80e00 71.2%,#f03600 72.7%,#ff7b00 74.1%,#f7a108 74.8%,#f2b00d 75.5%,#fd8d02 76.3%,#f34200 77.7%,#dd1200 79.1%,#bf0000 80.6%,#a50000 82%,#8a0000 85.6%,#820000 89.9%,#850000 100%)"></i><i style="background:linear-gradient(#00008c 0%,#0000a4 5.8%,#0000c4 7.9%,#0000e7 10.1%,#0000ef 11.5%,#0004f8 12.2%,#0015ff 12.9%,#004aff 14.4%,#005dff 15.1%,#006eff 17.3%,#00b6ff 21.6%,#00c1ff 23%,#00cdff 25.9%,#0beaf4 30.2%,#1af7e5 36%,#35ffca 38.8%,#acff53 46%,#c6ff39 48.2%,#d1fb2e 51.1%,#e6f019 52.5%,#f8d607 54%,#ffa900 55.4%,#fe3a00 58.3%,#f11500 59.7%,#dd0400 61.2%,#b30000 64.7%,#980000 68.3%,#970000 71.2%,#a40000 73.4%,#c40000 75.5%,#a70000 77%,#8f0000 79.9%,#830000 83.5%,#800 100%)"></i><i style="background:linear-gradient(#00008c 0%,#0000a5 6.5%,#0000c7 10.1%,#00c 11.5%,#0000d7 12.2%,#0006fb 13.7%,#0027ff 15.1%,#0039ff 18%,#005dff 21.6%,#0074ff 28.1%,#0087ff 33.1%,#008dff 35.3%,#0af 38.1%,#04ddfb 41.7%,#17f8e8 44.6%,#3effc1 48.2%,#4dffb2 51.1%,#72ff8d 53.2%,#a8ff57 55.4%,#beff41 56.1%,#dff020 57.6%,#f5d10a 59%,#ffa700 60.4%,#ff4d00 63.3%,#f01b00 64.7%,#e50a00 65.5%,#d60100 66.2%,#b30000 67.6%,#970000 69.8%,#870000 72.7%,#8c0000 75.5%,#830000 79.9%,#8b0000 100%)"></i><i style="background:linear-gradient(#00008c 0%,#0000a6 7.2%,#00b 10.8%,#0000bd 11.5%,#0000d2 12.9%,#0000f1 14.4%,#0006fb 15.8%,#0010ff 19.4%,#001fff 23%,#002dff 28.1%,#003dff 33.1%,#0042ff 35.3%,#005eff 38.1%,#00dcff 46.8%,#01effe 48.9%,#0bf8f4 53.2%,#18f9e7 55.4%,#36fdc9 57.6%,#5fa 59%,#aafe55 61.9%,#cdf332 63.3%,#e6e119 64%,#f8c507 64.7%,#ff9d00 65.5%,#ff4100 66.9%,#f91f00 67.6%,#eb0900 68.3%,#d60000 69.1%,#ab0000 70.5%,#950000 71.9%,#800 74.1%,#8e0000 100%)"></i><i style="background:linear-gradient(#00008c 0%,#0000a5 7.2%,#0000b9 10.8%,#0000c0 12.2%,#0000e8 15.1%,#0000f6 18.7%,#0004ff 20.9%,#000cff 24.5%,#0021ff 35.3%,#003aff 38.1%,#00adff 46.8%,#00c4ff 49.6%,#00c7ff 52.5%,#00acff 56.8%,#00afff 59%,#02c6fd 61.2%,#0bdaf4 62.6%,#16e5e9 63.3%,#2ff6d0 64%,#5bffa4 64.7%,#97ff68 65.5%,#cef731 66.2%,#f4dc0b 66.9%,#fa0 67.6%,#ff3c00 69.1%,#fb1300 69.8%,#e70100 70.5%,#c90000 71.2%,#b20000 71.9%,#970000 73.4%,#8e0000 75.5%,#910000 100%)"></i><i style="background:linear-gradient(#00008c 0%,#0000a5 7.2%,#0000b8 10.8%,#0000be 12.2%,#0000e0 15.1%,#0000f0 19.4%,#0001fd 22.3%,#0009ff 28.1%,#0019ff 35.3%,#0039ff 38.8%,#009fff 46.8%,#00b4ff 49.6%,#00b5ff 51.8%,#009cff 54%,#004fff 58.3%,#003aff 60.4%,#003dff 61.9%,#0045ff 62.6%,#05f 63.3%,#0079ff 64%,#0af 64.7%,#08dcf7 65.5%,#2afad5 66.2%,#6bff94 66.9%,#b3ff4c 67.6%,#ebef14 68.3%,#ffbc00 69.1%,#ff7900 69.8%,#ff3d00 70.5%,#f90f00 71.2%,#d00 71.9%,#bd0000 72.7%,#a70000 73.4%,#9c0000 74.1%,#980000 77%,#920000 93.5%,#9e0000 98.6%,#a50000 100%)"></i><i style="background:linear-gradient(#00008c 0%,#0000a4 7.2%,#0000b6 10.8%,#00b 12.2%,#0000d9 15.1%,#0000e8 19.4%,#0000f5 23%,#0004ff 28.8%,#0014ff 35.3%,#002dff 38.1%,#00a4ff 46.8%,#0bf 49.6%,#0bf 51.8%,#009fff 54%,#0030ff 59%,#0010ff 61.2%,#0009ff 62.6%,#000dff 63.3%,#0020ff 64%,#0040ff 64.7%,#006eff 65.5%,#04e2fb 66.9%,#2effd1 67.6%,#c4ff3b 69.1%,#f8ea07 69.8%,#ffac00 70.5%,#ff6c00 71.2%,#ff3400 71.9%,#f60e00 72.7%,#df0000 73.4%,#c60000 74.1%,#b90000 74.8%,#b40000 75.5%,#bd0000 77.7%,#ac0000 79.9%,#9c0000 81.3%,#a00000 90.6%,#c80000 96.4%,#e60000 100%)"></i><i style="background:linear-gradient(#00008c 0%,#0000a3 7.2%,#0000b4 10.8%,#0000bf 12.9%,#0000d3 15.1%,#0000e1 19.4%,#00e 23%,#0003ff 30.2%,#000fff 35.3%,#002aff 38.1%,#00a8ff 46.8%,#00c0ff 49.6%,#00c2ff 51.8%,#00aeff 54%,#0084ff 56.1%,#001dff 60.4%,#0008ff 61.9%,#0003ff 62.6%,#0005ff 63.3%,#0012ff 64%,#002bff 64.7%,#004eff 65.5%,#007aff 66.2%,#00adff 66.9%,#00e7ff 67.6%,#27ffd8 68.3%,#ebfb14 70.5%,#ffce00 71.2%,#ff9400 71.9%,#ff6100 72.7%,#ff3900 73.4%,#fe1d00 74.1%,#fa1100 74.8%,#f50b00 75.5%,#f60800 77%,#f20300 77.7%,#d50000 79.1%,#b40000 80.6%,#a00 81.3%,#ab0000 82%,#d20000 87.1%,#de0000 90.6%,#f80b00 95%,#ff2a00 99.3%,#ff3100 100%)"></i><i style="background:linear-gradient(#00008c 0%,#0000a2 7.2%,#0000b2 10.8%,#0000bc 12.9%,#0000ce 15.1%,#0000de 20.1%,#0000f4 28.1%,#0002ff 31.7%,#000aff 35.3%,#0025ff 38.1%,#00a4ff 46.8%,#00bcff 49.6%,#00beff 53.2%,#00b0ff 55.4%,#0085ff 58.3%,#0043ff 61.9%,#03f 63.3%,#03f 64%,#003cff 64.7%,#0051ff 65.5%,#006eff 66.2%,#0095ff 66.9%,#02f6fd 68.3%,#31ffce 69.1%,#e0ff1f 71.2%,#fde702 71.9%,#ff9200 73.4%,#ff7500 74.1%,#ff5600 75.5%,#ff5300 76.3%,#ff3600 77.7%,#fb1100 79.1%,#ea0300 80.6%,#e60100 81.3%,#fb1100 84.9%,#ff2800 90.6%,#ff8100 100%)"></i><i style="background:linear-gradient(#00008c 0%,#0000a5 7.9%,#0000b9 12.9%,#0000ca 15.8%,#0000df 23%,#00e 28.1%,#0000fe 33.1%,#0005ff 35.3%,#001fff 38.1%,#09f 46.8%,#00b0ff 49.6%,#00c0ff 56.1%,#00b5ff 59%,#0082ff 64%,#0084ff 64.7%,#008dff 65.5%,#009dff 66.2%,#00d0ff 67.6%,#00f2ff 68.3%,#19ffe6 69.1%,#c9ff36 71.9%,#edfb12 72.7%,#fce803 73.4%,#ffd000 74.1%,#ffb000 75.5%,#fa0 76.3%,#f80 77.7%,#ff4800 79.9%,#ff3900 80.6%,#f30 81.3%,#ff6200 87.1%,#ff7f00 91.4%,#ffcb00 100%)"></i><i style="background:linear-gradient(#00008c 0%,#0000a4 7.9%,#0000b6 12.9%,#0000c5 15.8%,#0000d8 23.7%,#0000f8 33.1%,#0003ff 36%,#002aff 39.6%,#008eff 46.8%,#00a5ff 49.6%,#00b1ff 53.2%,#00d4ff 59%,#00d4ff 61.9%,#00cbff 64.7%,#00d7ff 66.2%,#01f4fe 67.6%,#0bfff4 68.3%,#60ff9f 70.5%,#bf4 72.7%,#e6ff19 74.1%,#fcf203 76.3%,#ffe300 77%,#ff8900 79.9%,#ff7a00 80.6%,#ff7300 81.3%,#ff7f00 82.7%,#ffb000 87.8%,#fdf302 98.6%,#f9f906 100%)"></i><i style="background:linear-gradient(#00008c 0%,#0000a2 7.9%,#0000b7 13.7%,#0000d0 23%,#0000df 28.1%,#00e 33.1%,#0000f7 36%,#0005ff 37.4%,#0043ff 42.4%,#0079ff 46.8%,#008dff 49.6%,#0095ff 51.8%,#00dfff 59%,#00eaff 61.9%,#00ebff 64.7%,#03fffc 66.9%,#2effd1 69.1%,#a7ff58 73.4%,#d6ff29 76.3%,#f7fa08 77.7%,#ffeb00 78.4%,#ffc300 79.9%,#ffb600 80.6%,#ffb000 81.3%,#ffbc00 82.7%,#ffde00 86.3%,#fdf702 93.5%,#ecff13 96.4%,#ceff31 100%)"></i><i style="background:linear-gradient(#00008c 0%,#0000a1 7.9%,#0000ba 16.5%,#0000cb 23.7%,#0000e4 33.1%,#00e 36.7%,#0006fe 39.6%,#004cff 47.5%,#0058ff 51.1%,#0073ff 53.2%,#00d5ff 59%,#00ecff 61.2%,#04fffb 66.2%,#1dffe2 68.3%,#87ff78 74.1%,#a5ff5a 76.3%,#f0fd0f 79.1%,#faf705 79.9%,#ffe900 81.3%,#fbfb04 85.6%,#efff10 91.4%,#d2ff2d 95%,#a7ff58 99.3%,#a2ff5d 100%)"></i><i style="background:linear-gradient(#00008c 0%,#0000a3 8.6%,#0000c5 23.7%,#0000da 33.8%,#0000e9 38.8%,#0005fb 43.2%,#001dff 50.4%,#0024ff 51.8%,#0046ff 54%,#00b7ff 59%,#00d7ff 61.2%,#00f5ff 65.5%,#06fff9 66.9%,#61ff9e 74.1%,#7bff84 76.3%,#b3ff4c 78.4%,#daff25 79.9%,#f0ff0f 81.3%,#c7ff38 92.1%,#7eff81 99.3%,#7aff85 100%)"></i><i style="background:linear-gradient(#00008c 0%,#0000a2 8.6%,#0000c0 23%,#0000da 38.8%,#0000fc 48.9%,#0006ff 52.5%,#0023ff 54.7%,#0072ff 58.3%,#00aeff 61.2%,#01f9fe 67.6%,#0efff1 69.1%,#41ffbe 73.4%,#54ffab 75.5%,#6fff90 77%,#bdff42 79.9%,#d3ff2c 81.3%,#c8ff37 84.2%,#9f6 92.8%,#5fa 99.3%,#51ffae 100%)"></i><i style="background:linear-gradient(#00008c 0%,#0000b3 16.5%,#0000c4 29.5%,#0000d3 38.8%,#0000f2 48.9%,#0001fb 53.2%,#01f 55.4%,#0056ff 59.7%,#007fff 62.6%,#0093ff 64%,#00f3ff 69.1%,#09fff6 70.5%,#2effd1 74.1%,#3bffc4 75.5%,#5fa 77%,#a1ff5e 79.9%,#b6ff49 81.3%,#aeff51 83.5%,#82ff7d 89.9%,#69ff96 93.5%,#28ffd7 99.3%,#23ffdc 100%)"></i><i style="background:linear-gradient(#00008c 0%,#0000ac 13.7%,#0000b3 17.3%,#0000ba 25.9%,#0000ce 33.1%,#0000dc 42.4%,#0000f1 54.7%,#0008fc 57.6%,#04f 63.3%,#0080ff 66.2%,#00e4ff 70.5%,#03f9fc 71.9%,#19ffe6 74.8%,#2bffd4 76.3%,#83ff7c 79.9%,#97ff68 81.3%,#92ff6d 82.7%,#59ffa6 89.9%,#4fb 92.8%,#09fcf6 97.8%,#01f0fe 100%)"></i><i style="background:linear-gradient(#00008c 0%,#0000a8 12.9%,#0000b3 15.8%,#0000ba 25.2%,#0000d4 33.1%,#0000e6 53.2%,#0000ed 59.7%,#0009f9 63.3%,#001eff 64.7%,#00b2ff 70.5%,#0df 72.7%,#02f6fd 74.8%,#0cfef3 76.3%,#29ffd6 77.7%,#60ff9f 79.9%,#75ff8a 81.3%,#70ff8f 82.7%,#45ffba 87.1%,#0dfdf2 93.5%,#01effe 95.7%,#00caff 99.3%,#00c7ff 100%)"></i><i style="background:linear-gradient(#00008c 0%,#0000a7 12.9%,#0000b3 15.8%,#0000c2 25.9%,#0000da 32.4%,#0000e6 55.4%,#0000e7 63.3%,#0002fa 65.5%,#000cff 66.2%,#0090ff 71.2%,#00baff 73.4%,#00deff 76.3%,#05f9fa 77.7%,#28ffd7 79.1%,#4affb5 80.6%,#53ffac 81.3%,#4cffb3 82.7%,#0dfdf2 87.8%,#00efff 91.4%,#00b8ff 97.8%,#00aeff 100%)"></i><i style="background:linear-gradient(#00008c 0%,#0000a2 12.2%,#0000b3 15.8%,#0000ce 27.3%,#0000e1 33.1%,#0000e8 64%,#0000fa 66.2%,#0005ff 66.9%,#002dff 69.1%,#007fff 72.7%,#00b1ff 76.3%,#00d5ff 77.7%,#00eaff 78.4%,#06f9f9 79.1%,#20ffdf 80.6%,#26ffd9 81.3%,#19ffe6 82.7%,#05f5fa 84.9%,#00d3ff 88.5%,#009aff 99.3%,#0098ff 100%)"></i><i style="background:linear-gradient(#00008c 0%,#0000a5 12.2%,#0000ba 15.8%,#0000d1 23%,#0000de 28.1%,#0000ed 33.1%,#0000ed 51.8%,#0000e6 60.4%,#0000ea 64.7%,#0004ff 67.6%,#0047ff 71.9%,#0084ff 76.3%,#00dbff 79.9%,#00e6ff 80.6%,#00e9ff 81.3%,#00dbff 82.7%,#00b3ff 86.3%,#00a9ff 88.5%,#0095ff 95.7%,#009dff 99.3%,#00a1ff 100%)"></i><i style="background:linear-gradient(#00008c 0%,#0000a1 7.9%,#0000b2 12.2%,#0000d7 15.1%,#0002f0 23%,#0004fd 34.5%,#0008fe 51.8%,#0000ef 59%,#0000e8 64.7%,#0002fd 68.3%,#005aff 76.3%,#0098ff 79.1%,#0af 80.6%,#0af 81.3%,#0085ff 84.9%,#0082ff 87.1%,#00b8ff 95.7%,#00dcff 100%)"></i><i style="background:linear-gradient(#00008c 0%,#0000a1 6.5%,#0000bd 10.1%,#0000c1 11.5%,#0000ca 12.2%,#0000eb 13.7%,#0005f8 14.4%,#0010fe 15.8%,#001aff 18%,#003cff 21.6%,#0042ff 24.5%,#004bff 36%,#07f 44.6%,#008bff 49.6%,#008bff 51.1%,#0052ff 53.2%,#002aff 55.4%,#0014ff 57.6%,#0004fd 61.2%,#0000f3 67.6%,#0004fe 70.5%,#0037ff 76.3%,#0062ff 79.1%,#006bff 80.6%,#0062ff 83.5%,#006fff 84.9%,#00aeff 88.5%,#00c7ff 90.6%,#02e6fd 94.2%,#11f5ee 96.4%,#38ffc7 99.3%,#45ffba 100%)"></i><i style="background:linear-gradient(#00008c 0%,#0000a3 5.8%,#00d 10.1%,#0000e4 11.5%,#0001f0 12.2%,#000afb 12.9%,#0037ff 14.4%,#0048ff 15.1%,#0058ff 17.3%,#00a0ff 21.6%,#0af 23%,#00b6ff 26.6%,#03cffc 30.9%,#08dcf7 36%,#21f1de 39.6%,#5dffa2 43.9%,#92ff6d 47.5%,#a3fe5c 49.6%,#a4fe5b 51.1%,#7f8 52.5%,#3dedc2 54.7%,#15c8ea 56.8%,#0094ff 59%,#0058ff 61.2%,#001eff 64%,#01f 65.5%,#0003ff 72.7%,#0016ff 76.3%,#0034ff 78.4%,#0071ff 82%,#0090ff 84.2%,#00bfff 86.3%,#05e0fa 87.8%,#1cf8e3 89.9%,#4fffb0 92.8%,#b5ff4a 97.1%,#dbef24 99.3%,#e3e41c 100%)"></i><i style="background:linear-gradient(#00008c 0%,#009 2.2%,#0000ab 4.3%,#0000b3 5.8%,#0000d4 7.2%,#0002e9 7.9%,#001afb 9.4%,#002fff 10.8%,#03f 11.5%,#0047ff 12.2%,#008fff 13.7%,#00b4ff 14.4%,#04ccfb 15.1%,#0ee3f1 18%,#28f7d7 20.1%,#43ffbc 22.3%,#54ffab 26.6%,#74ff8b 31.7%,#80ff7f 35.3%,#9aff65 37.4%,#cbfc34 40.3%,#e9eb16 42.4%,#fdc402 45.3%,#ff9800 48.2%,#ff8700 50.4%,#ff8700 51.1%,#fcb803 54%,#ecd313 56.1%,#c8ec37 58.3%,#8efe71 60.4%,#75fe8a 61.2%,#36e6c9 63.3%,#1fd0e0 64%,#029bfd 65.5%,#0061ff 66.9%,#003cff 68.3%,#002bff 69.8%,#000eff 74.8%,#0010ff 75.5%,#002cff 77%,#009eff 81.3%,#03cffc 83.5%,#0be0f4 84.2%,#31f8ce 85.6%,#4bffb4 86.3%,#8bff74 87.8%,#b4fe4b 89.2%,#dce923 91.4%,#f4c20b 93.5%,#ff8700 95.7%,#fa5c00 97.1%,#f23600 98.6%,#e31d00 100%)"></i><i style="background:linear-gradient(#00008c 0%,#000096 1.4%,#0000ba 4.3%,#0000bc 5%,#0000c9 5.8%,#0000e3 6.5%,#000afd 7.2%,#007fff 9.4%,#009dff 10.1%,#00aeff 10.8%,#00b3ff 11.5%,#00c7ff 12.2%,#03e7fc 12.9%,#17fae8 13.7%,#5fa 15.1%,#5fffa0 15.8%,#6bff94 17.3%,#c0ff3f 21.6%,#cbff34 23%,#d9ff26 27.3%,#edfe12 31.7%,#f4fa0b 35.3%,#fdea02 37.4%,#ffc600 39.6%,#ff4100 46%,#ff1a00 48.9%,#ff1000 51.1%,#fa2700 57.6%,#f93f00 59.7%,#ff6e00 61.9%,#ff8700 62.6%,#f89e07 63.3%,#edc012 64%,#bded42 65.5%,#74ff8b 66.9%,#34e8cb 68.3%,#0ebff1 69.8%,#04a7fb 70.5%,#0073ff 71.9%,#004fff 73.4%,#0039ff 74.8%,#0039ff 75.5%,#0061ff 77%,#009dff 78.4%,#02bffd 79.1%,#0dd9f2 79.9%,#36f7c9 81.3%,#4fffb0 82%,#92ff6d 83.5%,#b3fa4c 84.2%,#ceef31 84.9%,#f2c10d 86.3%,#ff7d00 87.8%,#f43f00 89.9%,#e01600 92.1%,#c80100 94.2%,#a70000 97.1%,#970000 100%)"></i><i style="background:linear-gradient(#00008c 0%,#000097 1.4%,#0000be 4.3%,#0000c1 5%,#0000cf 5.8%,#0000eb 6.5%,#0013ff 7.2%,#0096ff 9.4%,#00b6ff 10.1%,#00c9ff 10.8%,#00ceff 11.5%,#00e2ff 12.2%,#0afaf5 12.9%,#50ffaf 14.4%,#6bff94 15.1%,#76ff89 15.8%,#81ff7e 17.3%,#d4ff2b 21.6%,#e0ff1f 23%,#edff12 27.3%,#fbfa04 31.7%,#fef301 35.3%,#ffdb00 37.4%,#f90 41%,#ff3500 46%,#ff0e00 48.9%,#fe0200 51.8%,#ec0000 54.7%,#c40000 59.7%,#c00000 61.9%,#cd0000 63.3%,#e20f00 64.7%,#f43a00 66.2%,#ff7f00 67.6%,#eac515 69.1%,#baef45 70.5%,#9afb65 71.2%,#73ff8c 71.9%,#33ebcc 73.4%,#0dc2f2 74.8%,#09baf6 75.5%,#18d5e7 76.3%,#2fecd0 77%,#4ff9b0 77.7%,#76ff89 78.4%,#a0fe5f 79.1%,#d8e327 80.6%,#eacc15 81.3%,#ff8a00 82.7%,#f33f00 84.2%,#db1100 85.6%,#bd0000 87.1%,#a00 88.5%,#900000 93.5%,#820000 100%)"></i><i style="background:linear-gradient(#00008c 0%,#00009b 2.2%,#0000b0 4.3%,#0000b2 5%,#00b 5.8%,#0000ce 6.5%,#0000e7 7.2%,#000cf9 7.9%,#0023ff 8.6%,#0054ff 10.1%,#0060ff 10.8%,#0064ff 11.5%,#0079ff 12.2%,#00c5ff 13.7%,#08e4f7 14.4%,#17f2e8 15.1%,#26f9d9 17.3%,#3bffc4 18.7%,#76ff89 21.6%,#82ff7d 23%,#90ff6f 26.6%,#b1ff4e 31.7%,#bcff43 35.3%,#ddfb22 38.1%,#f3ea0c 40.3%,#ffb900 43.2%,#ff7500 46.8%,#ff5b00 48.9%,#ff5000 51.1%,#fa0c00 54.7%,#eb0000 56.1%,#b80000 59.7%,#a80000 61.9%,#ad0000 65.5%,#b00 67.6%,#d10600 69.1%,#de1000 69.8%,#f33c00 71.2%,#ff8500 72.7%,#e6c919 74.1%,#d0e12f 74.8%,#c8eb37 75.5%,#f1b70e 77%,#fc9403 77.7%,#fd6c00 78.4%,#f54900 79.1%,#df1600 80.6%,#c30000 82%,#a70000 83.5%,#8e0000 86.3%,#830000 90.6%,#840000 100%)"></i><i style="background:linear-gradient(#00008c 0%,#0000a7 5.8%,#0000cd 7.9%,#0000eb 9.4%,#0005f7 10.8%,#0007f8 11.5%,#0011fe 12.2%,#004aff 13.7%,#0067ff 14.4%,#007dff 15.1%,#0090ff 17.3%,#02d1fd 20.9%,#07dff8 22.3%,#10edef 26.6%,#2afcd5 30.9%,#38ffc7 35.3%,#57ffa8 38.1%,#c6fe39 44.6%,#e4f21b 47.5%,#efe610 51.1%,#face05 52.5%,#ffbd00 53.2%,#ff3a00 56.8%,#f41400 58.3%,#df0200 59.7%,#be0000 61.9%,#9e0000 66.9%,#9c0000 69.8%,#a80000 71.9%,#c00000 73.4%,#dd1200 74.8%,#e11b00 75.5%,#c70100 77%,#a90000 78.4%,#900000 81.3%,#830000 84.9%,#870000 100%)"></i><i style="background:linear-gradient(#00008c 0%,#0000a7 6.5%,#0000d0 10.1%,#0000d6 11.5%,#0000e2 12.2%,#0001f5 12.9%,#000fff 13.7%,#0036ff 15.1%,#004aff 18%,#0078ff 21.6%,#0090ff 27.3%,#00adff 32.4%,#00b4ff 35.3%,#03d8fc 38.8%,#15f4ea 41.7%,#39ffc6 44.6%,#68ff97 48.2%,#76ff89 51.1%,#a1ff5e 53.2%,#c7fe38 54.7%,#e5ed1a 56.1%,#f9cb06 57.6%,#ffb600 58.3%,#ff4c00 61.2%,#f11e00 63.3%,#e80e00 64%,#cb0000 65.5%,#a70000 67.6%,#8f0000 70.5%,#8c0000 73.4%,#950000 75.5%,#850000 79.1%,#8a0000 100%)"></i><i style="background:linear-gradient(#00008c 0%,#0000a7 7.2%,#0000bd 10.8%,#0000bf 11.5%,#0000c8 12.2%,#0003f9 14.4%,#000fff 15.8%,#001aff 18.7%,#002eff 22.3%,#003aff 27.3%,#004dff 33.1%,#0053ff 35.3%,#006fff 38.1%,#00e6ff 46%,#0bf9f4 48.9%,#14fdeb 51.8%,#31ffce 54.7%,#5bffa4 56.8%,#afff50 59.7%,#d2f22d 61.2%,#f3d00c 63.3%,#feb301 64%,#fd3800 66.2%,#f51b00 66.9%,#e60800 67.6%,#d20000 68.3%,#ab0000 69.8%,#960000 71.2%,#850000 74.1%,#8d0000 100%)"></i><i style="background:linear-gradient(#00008c 0%,#0000a6 7.2%,#0000ba 10.8%,#0000c1 12.2%,#0000ec 15.1%,#0004ff 20.1%,#000fff 23%,#0029ff 35.3%,#0043ff 38.1%,#0bf 46.8%,#00d2ff 49.6%,#00d8ff 52.5%,#00cfff 56.8%,#0adef5 59.7%,#24f0db 61.9%,#43fbbc 63.3%,#6cff93 64%,#a1ff5e 64.7%,#d0f52f 65.5%,#f2dc0d 66.2%,#ffaf00 66.9%,#ff4600 68.3%,#fc1c00 69.1%,#ed0500 69.8%,#ba0000 71.2%,#9a0000 72.7%,#8e0000 74.1%,#900000 100%)"></i><i style="background:linear-gradient(#00008c 0%,#0000a5 7.2%,#0000b8 10.8%,#0000be 12.2%,#0000e2 15.1%,#0000f3 19.4%,#0003fe 22.3%,#001aff 35.3%,#003aff 38.8%,#009fff 46.8%,#00b4ff 49.6%,#00b6ff 51.8%,#00a2ff 54%,#0064ff 58.3%,#005bff 59.7%,#0060ff 61.2%,#0073ff 62.6%,#0085ff 63.3%,#00acff 64%,#07d7f8 64.7%,#22f6dd 65.5%,#5affa5 66.2%,#9fff60 66.9%,#ddf622 67.6%,#fccf03 68.3%,#ff5200 69.8%,#fe1d00 70.5%,#ec0200 71.2%,#c00 71.9%,#b20000 72.7%,#a10000 73.4%,#980000 74.1%,#930000 82.7%,#930000 96.4%,#900 100%)"></i><i style="background:linear-gradient(#00008c 0%,#0000a4 7.2%,#0000b7 10.8%,#0000bc 12.2%,#0000db 15.1%,#0000ea 19.4%,#0000f8 23%,#0004ff 28.1%,#0015ff 35.3%,#002eff 38.1%,#00a2ff 46.8%,#00b8ff 49.6%,#00b9ff 51.8%,#009dff 54%,#03f 59%,#0015ff 61.2%,#0010ff 62.6%,#0017ff 63.3%,#002fff 64%,#0056ff 64.7%,#0089ff 65.5%,#00c6ff 66.2%,#17f5e8 66.9%,#56ffa9 67.6%,#a1ff5e 68.3%,#e4f81b 69.1%,#ffcb00 69.8%,#ff4a00 71.2%,#fb1900 71.9%,#e50200 72.7%,#c60000 73.4%,#b10000 74.1%,#a70000 74.8%,#a40000 75.5%,#ad0000 77.7%,#a50000 79.9%,#970000 82%,#980000 91.4%,#b20000 96.4%,#cf0000 100%)"></i><i style="background:linear-gradient(#00008c 0%,#0000a3 7.2%,#0000b5 10.8%,#0000c0 12.9%,#0000d5 15.1%,#0000e3 19.4%,#0000f0 23%,#0003ff 29.5%,#01f 35.3%,#002bff 38.1%,#00a7ff 46.8%,#00bfff 49.6%,#00c0ff 51.8%,#00a8ff 54%,#007aff 56.1%,#0023ff 59.7%,#000cff 61.2%,#0002ff 62.6%,#0005ff 63.3%,#0015ff 64%,#002fff 64.7%,#0054ff 65.5%,#0083ff 66.2%,#03f3fc 67.6%,#3affc5 68.3%,#c7ff38 69.8%,#faec05 70.5%,#ff7600 71.9%,#f40 72.7%,#fe1d00 73.4%,#f40b00 74.1%,#e40100 75.5%,#e80100 77%,#d80000 78.4%,#ac0000 80.6%,#a20000 81.3%,#a40000 82.7%,#bf0000 87.8%,#c70000 90.6%,#ee0300 95.7%,#fe1900 100%)"></i><i style="background:linear-gradient(#00008c 0%,#0000a2 7.2%,#0000b3 10.8%,#0000bd 12.9%,#0000d0 15.1%,#0000e0 20.1%,#0000f9 28.8%,#0005ff 32.4%,#000cff 35.3%,#0027ff 38.1%,#00a6ff 46.8%,#00bfff 49.6%,#00c1ff 52.5%,#00b1ff 54.7%,#0090ff 56.8%,#0035ff 61.2%,#0020ff 62.6%,#001cff 63.3%,#001fff 64%,#002eff 64.7%,#0048ff 65.5%,#006cff 66.2%,#09f 66.9%,#00cdff 67.6%,#09fcf6 68.3%,#bdff42 70.5%,#f2f90d 71.2%,#ffce00 71.9%,#ff9d00 72.7%,#ff7500 73.4%,#ff5800 74.1%,#ff3a00 75.5%,#ff3800 76.3%,#ff1f00 77.7%,#fc0e00 78.4%,#e30000 79.9%,#d50000 80.6%,#cf0000 81.3%,#f00400 84.9%,#fa0d00 89.2%,#ff1c00 92.1%,#ff6700 100%)"></i><i style="background:linear-gradient(#00008c 0%,#0000a5 7.9%,#0000ba 12.9%,#00c 15.8%,#0000e1 23%,#0000f0 28.1%,#0001fe 32.4%,#0006ff 35.3%,#0021ff 38.1%,#009dff 46.8%,#00b4ff 49.6%,#00bcff 55.4%,#00b1ff 57.6%,#0085ff 61.2%,#006cff 63.3%,#0068ff 64%,#006cff 64.7%,#07f 65.5%,#008aff 66.2%,#00a5ff 66.9%,#00c6ff 67.6%,#00edff 68.3%,#1bffe4 69.1%,#e0ff1f 71.9%,#faee05 72.7%,#ffb200 74.1%,#ff9200 75.5%,#ff8d00 76.3%,#ff6d00 77.7%,#ff2f00 79.9%,#ff2100 80.6%,#ff1c00 81.3%,#ff3d00 84.9%,#ff5d00 90.6%,#ffb600 100%)"></i><i style="background:linear-gradient(#00008c 0%,#0000a4 7.9%,#0000b7 12.9%,#0000c7 15.8%,#0000da 23.7%,#0000fa 33.1%,#0005ff 36%,#002dff 39.6%,#0092ff 46.8%,#00a9ff 49.6%,#00b8ff 54%,#00cdff 58.3%,#00caff 61.2%,#00b7ff 64%,#0bf 65.5%,#00d4ff 66.9%,#05fdfa 68.3%,#41ffbe 69.8%,#c9ff36 72.7%,#e4ff1b 73.4%,#f4fa0b 74.1%,#ffe000 76.3%,#ffb900 77.7%,#ff7500 79.9%,#f60 80.6%,#ff5f00 81.3%,#ff8c00 86.3%,#ffeb00 99.3%,#feee01 100%)"></i><i style="background:linear-gradient(#00008c 0%,#0000a3 7.9%,#0000b9 13.7%,#0000c2 16.5%,#0000d3 23.7%,#0000f1 33.1%,#0000fb 36%,#0010ff 38.1%,#0083ff 46.8%,#09f 49.6%,#00a4ff 52.5%,#00dcff 59%,#00e4ff 61.9%,#00e5ff 64.7%,#01fbfe 66.9%,#0afff5 67.6%,#41ffbe 69.8%,#b5ff4a 73.4%,#ceff31 74.8%,#f5fc0a 77%,#feef01 77.7%,#ffb000 79.9%,#ffa200 80.6%,#ff9c00 81.3%,#ffa800 82.7%,#ffd300 87.1%,#ffed00 93.5%,#f3fd0c 97.1%,#deff21 100%)"></i><i style="background:linear-gradient(#00008c 0%,#0000a2 7.9%,#0000bc 16.5%,#0000cd 23.7%,#0000e7 33.1%,#0000ef 36%,#0002fc 38.1%,#002dff 42.4%,#005eff 47.5%,#006cff 51.1%,#0091ff 54%,#00dcff 59%,#00efff 61.2%,#00faff 65.5%,#08fff7 66.9%,#2bffd4 69.1%,#8aff75 73.4%,#b5ff4a 76.3%,#edfe12 78.4%,#faf605 79.1%,#ffde00 80.6%,#ffd800 81.3%,#fff400 85.6%,#f5fe0a 92.1%,#d7ff28 95.7%,#b0ff4f 100%)"></i><i style="background:linear-gradient(#00008c 0%,#0000a4 8.6%,#0000c7 23.7%,#00d 33.8%,#0000eb 38.1%,#0006fc 41.7%,#002cff 48.9%,#002fff 51.1%,#004cff 53.2%,#00c2ff 59%,#00deff 61.2%,#03fefc 66.2%,#2effd1 69.8%,#6bff94 74.1%,#87ff78 76.3%,#bfff40 78.4%,#e5ff1a 79.9%,#f2ff0d 80.6%,#f9fd06 82%,#d4ff2b 92.1%,#8bff74 99.3%,#87ff78 100%)"></i><i style="background:linear-gradient(#00008c 0%,#0000a2 8.6%,#0000c2 23.7%,#0000de 38.8%,#0002fc 47.5%,#0008ff 51.8%,#0023ff 54%,#0062ff 56.8%,#00a6ff 59.7%,#00c8ff 61.9%,#00efff 66.2%,#04fdfb 67.6%,#49ffb6 73.4%,#5dffa2 75.5%,#78ff87 77%,#c7ff38 79.9%,#df2 81.3%,#cfff30 84.9%,#acff53 92.1%,#62ff9d 99.3%,#5effa1 100%)"></i><i style="background:linear-gradient(#00008c 0%,#0000a4 9.4%,#0000b9 20.1%,#0000d2 38.1%,#0000f5 48.9%,#0003fe 53.2%,#001aff 55.4%,#008dff 61.9%,#00a8ff 64%,#00f2ff 68.3%,#08fef7 69.8%,#30ffcf 73.4%,#43ffbc 75.5%,#5dffa2 77%,#af5 79.9%,#c0ff3f 81.3%,#b8ff47 83.5%,#8cff73 90.6%,#76ff89 93.5%,#37ffc8 99.3%,#32ffcd 100%)"></i><i style="background:linear-gradient(#00008c 0%,#0000ad 13.7%,#0000b4 18.7%,#0000bc 26.6%,#00c 33.1%,#0000d9 41%,#0000ec 50.4%,#0000f8 54.7%,#000cfe 56.8%,#005aff 63.3%,#0094ff 66.2%,#00e5ff 69.8%,#03fafc 71.2%,#1cffe3 74.1%,#2affd5 75.5%,#43ffbc 77%,#8dff72 79.9%,#a2ff5d 81.3%,#9dff62 82.7%,#67ff98 89.9%,#53ffac 92.8%,#0ffef0 98.6%,#07faf8 100%)"></i><i style="background:linear-gradient(#00008c 0%,#0000a8 12.9%,#0000b3 15.8%,#0000b8 25.2%,#0000d2 33.1%,#0000e7 53.2%,#0001f3 59%,#0017ff 63.3%,#04f 65.5%,#00c3ff 70.5%,#00ecff 72.7%,#07fdf8 74.8%,#17ffe8 76.3%,#48ffb7 78.4%,#79ff86 80.6%,#80ff7f 81.3%,#7bff84 82.7%,#3affc5 89.9%,#1cffe3 93.5%,#06f9f9 95.7%,#0df 98.6%,#00d2ff 100%)"></i><i style="background:linear-gradient(#00008c 0%,#0000a7 12.9%,#0000b3 15.8%,#0000c0 25.9%,#0000d8 32.4%,#0000e6 54.7%,#0000ea 63.3%,#0003f8 64.7%,#000afe 65.5%,#0040ff 67.6%,#00a0ff 71.2%,#00c9ff 73.4%,#03f7fc 77%,#0dfef2 77.7%,#47ffb8 79.9%,#5effa1 81.3%,#58ffa7 82.7%,#2fffd0 86.3%,#15ffea 88.5%,#03f6fc 92.1%,#0bf 98.6%,#00b5ff 100%)"></i><i style="background:linear-gradient(#00008c 0%,#0000a6 12.9%,#0000b3 15.8%,#0000c9 26.6%,#0000df 33.1%,#0000e8 64%,#0000fc 66.2%,#0017ff 67.6%,#008eff 72.7%,#00c0ff 76.3%,#02f6fd 78.4%,#0ffff0 79.1%,#30ffcf 80.6%,#37ffc8 81.3%,#35ffca 82%,#10fdef 84.9%,#01eefe 87.1%,#00a4ff 98.6%,#009fff 100%)"></i><i style="background:linear-gradient(#00008c 0%,#0000a3 12.2%,#0000b6 15.8%,#0000ca 23%,#0000d8 28.1%,#0000e8 33.1%,#0000e6 54%,#0000e8 64%,#0000fd 66.9%,#001dff 69.1%,#006dff 73.4%,#0093ff 76.3%,#00caff 78.4%,#01edfe 79.9%,#07f6f8 81.3%,#02eefd 82.7%,#00bdff 87.1%,#0095ff 97.1%,#0096ff 100%)"></i><i style="background:linear-gradient(#00008c 0%,#0000a2 8.6%,#0000ad 12.2%,#0000ca 15.1%,#0000e4 23%,#0001f9 33.1%,#0001f9 52.5%,#0000e6 61.9%,#0000ec 65.5%,#0000fc 67.6%,#0016ff 69.8%,#004cff 74.1%,#06f 76.3%,#00b6ff 79.9%,#00beff 80.6%,#00bfff 81.3%,#0093ff 85.6%,#008dff 87.8%,#00a2ff 95%,#00c8ff 100%)"></i><i style="background:linear-gradient(#00008c 0%,#0000a3 7.2%,#0000b6 10.8%,#0000b8 11.5%,#0000ce 12.9%,#0000ed 14.4%,#0003f5 15.1%,#000efc 18.7%,#02f 22.3%,#0029ff 37.4%,#0047ff 49.6%,#0047ff 51.1%,#0023ff 53.2%,#000cff 56.1%,#0000f6 61.9%,#00e 66.2%,#0004fe 69.8%,#0042ff 76.3%,#0073ff 79.1%,#007fff 80.6%,#07f 82%,#006aff 83.5%,#006cff 84.9%,#0087ff 87.1%,#00b0ff 89.9%,#02e6fd 96.4%,#15f9ea 99.3%,#1dfbe2 100%)"></i><i style="background:linear-gradient(#00008c 0%,#0000a0 5.8%,#0000d2 10.1%,#0000d8 11.5%,#0002f3 12.9%,#000dfd 13.7%,#002fff 15.1%,#003dff 17.3%,#007cff 21.6%,#0084ff 23%,#0091ff 27.3%,#00a6ff 32.4%,#00acff 35.3%,#04c8fb 38.8%,#15deea 41.7%,#3bf1c4 46%,#53f6ac 49.6%,#55f6aa 51.1%,#32e5cd 52.5%,#0fbbf0 54.7%,#0298fd 56.1%,#004cff 59%,#0027ff 61.2%,#000bff 64%,#0001fc 70.5%,#000bff 73.4%,#0028ff 77%,#005dff 81.3%,#0074ff 83.5%,#00baff 87.1%,#01e1fe 89.2%,#10f2ef 91.4%,#2cfcd3 93.5%,#68ff97 96.4%,#b9fe46 100%)"></i><i style="background:linear-gradient(#00008c 0%,#00009d 2.9%,#0000ac 5.8%,#0000c6 7.2%,#0001e7 8.6%,#000df7 10.1%,#0013fb 11.5%,#02f 12.2%,#0083ff 14.4%,#009cff 15.1%,#00b0ff 17.3%,#0adef5 20.1%,#1befe4 22.3%,#25f7da 26.6%,#4fb 33.1%,#4bffb4 35.3%,#65ff9a 37.4%,#a7ff58 41%,#cff930 43.2%,#e9e816 45.3%,#f6d309 47.5%,#fdbf02 50.4%,#fcbf03 51.1%,#ebdd14 53.2%,#c8f137 55.4%,#91fe6e 57.6%,#78ff87 58.3%,#3cecc3 60.4%,#13c3ec 62.6%,#0baef4 63.3%,#0092ff 64%,#0070ff 64.7%,#05f 65.5%,#0040ff 66.2%,#0028ff 67.6%,#0006ff 74.8%,#000aff 75.5%,#0020ff 77%,#007bff 80.6%,#00aeff 83.5%,#03d4fc 84.9%,#0ce5f3 85.6%,#34facb 87.1%,#61ff9e 88.5%,#acff53 91.4%,#d5f12a 93.5%,#f1cf0e 95.7%,#f90 97.8%,#ff6a00 99.3%,#f95700 100%)"></i><i style="background:linear-gradient(#00008c 0%,#000095 1.4%,#0000b5 4.3%,#0000b7 5%,#0000c2 5.8%,#0003f5 7.2%,#001cff 7.9%,#0060ff 9.4%,#0079ff 10.1%,#08f 10.8%,#008dff 11.5%,#00a2ff 12.2%,#00c5ff 12.9%,#07e7f8 13.7%,#1df8e2 14.4%,#3fc 15.1%,#3effc1 15.8%,#49ffb6 17.3%,#9fff60 21.6%,#abff54 23%,#b6ff49 26.6%,#d3ff2c 32.4%,#dcff23 35.3%,#eef611 37.4%,#fcde03 39.6%,#ffb300 41.7%,#ff5a00 46%,#ff3900 48.2%,#ff2900 50.4%,#ff2800 51.1%,#ff4700 54.7%,#ff6100 57.6%,#ff7a00 59%,#fb9b04 60.4%,#edbe12 61.9%,#d2dd2d 63.3%,#b6f049 64%,#93fb6c 64.7%,#6cfc93 65.5%,#4af1b5 66.2%,#18cde7 67.6%,#009cff 69.1%,#0067ff 70.5%,#0047ff 71.9%,#0029ff 74.8%,#002aff 75.5%,#004aff 77%,#0079ff 78.4%,#04ccfb 80.6%,#0ee0f1 81.3%,#32f7cd 82.7%,#4cfeb3 83.5%,#b3fb4c 85.6%,#cef131 86.3%,#f1ca0e 87.8%,#ff8c00 89.9%,#fb5f00 91.4%,#eb2c00 93.5%,#df1300 95%,#c60000 97.1%,#a60000 100%)"></i><i style="background:linear-gradient(#00008c 0%,#000097 1.4%,#0000c0 4.3%,#0000c2 5%,#0000d1 5.8%,#00e 6.5%,#0017ff 7.2%,#009eff 9.4%,#00bfff 10.1%,#00d2ff 10.8%,#00d8ff 11.5%,#00ebff 12.2%,#0dfff2 12.9%,#58ffa7 14.4%,#73ff8c 15.1%,#7dff82 15.8%,#8f7 17.3%,#dbff24 21.6%,#e6ff19 23%,#f3ff0c 27.3%,#fffb00 30.9%,#fe0 35.3%,#ffd600 37.4%,#ff9500 41%,#ff3100 46%,#ff0b00 48.9%,#ff0200 51.1%,#f10000 54.7%,#d70000 59%,#d90500 61.9%,#e51300 63.3%,#f64100 64.7%,#fd6200 65.5%,#ff8a00 66.2%,#e5ca1a 67.6%,#cee131 68.3%,#91fe6e 69.8%,#69fd96 70.5%,#2ee5d1 71.9%,#19d3e6 72.7%,#01a5fe 74.1%,#0087ff 74.8%,#0080ff 75.5%,#00a3ff 76.3%,#0ac1f5 77%,#1bdce4 77.7%,#32f2cd 78.4%,#52fdad 79.1%,#a0ff5f 80.6%,#d5e82a 82%,#e7d118 82.7%,#fe9001 84.2%,#fc6700 84.9%,#f44400 85.6%,#de1300 87.1%,#c90300 88.5%,#a80000 91.4%,#8f0000 96.4%,#850000 100%)"></i><i style="background:linear-gradient(#00008c 0%,#000095 1.4%,#0000b5 4.3%,#0000b7 5%,#0000c2 5.8%,#0003f5 7.2%,#001cff 7.9%,#0061ff 9.4%,#007aff 10.1%,#0089ff 10.8%,#008eff 11.5%,#00a3ff 12.2%,#00c6ff 12.9%,#07e8f8 13.7%,#1df9e2 14.4%,#34ffcb 15.1%,#3effc1 15.8%,#4affb5 17.3%,#a0ff5f 21.6%,#acff53 23%,#b8ff47 26.6%,#d6ff29 32.4%,#dfff20 35.3%,#f0f60f 37.4%,#fddd02 39.6%,#ff5a00 46%,#f30 48.9%,#ff2800 51.1%,#fa0500 54%,#cd0000 57.6%,#b10000 60.4%,#ab0000 62.6%,#b90000 65.5%,#cd0000 66.9%,#e31500 68.3%,#f54500 69.8%,#fd8e02 71.2%,#e2ce1d 72.7%,#cce633 73.4%,#8dff72 74.8%,#7bff84 75.5%,#c4ed3b 77%,#f0be0f 78.4%,#ff7200 79.9%,#ed3100 81.3%,#e11a00 82%,#c60000 83.5%,#a80000 84.9%,#900000 87.8%,#820000 94.2%,#830000 100%)"></i><i style="background:linear-gradient(#00008c 0%,#00009d 2.9%,#0000ac 5.8%,#0000c8 7.2%,#0002eb 8.6%,#0010fb 10.1%,#0019fe 11.5%,#002aff 12.2%,#008eff 14.4%,#00a7ff 15.1%,#00b0ff 15.8%,#0bf 17.3%,#08ddf7 19.4%,#1bf3e4 21.6%,#2ffcd0 26.6%,#58ffa7 31.7%,#64ff9b 35.3%,#85ff7a 38.1%,#cefc31 42.4%,#e8ed17 44.6%,#f7d908 46.8%,#fec301 49.6%,#ffbf00 51.1%,#ff8400 53.2%,#fd2700 56.1%,#f10900 57.6%,#d80000 59%,#b90000 61.2%,#a30000 65.5%,#a40000 69.1%,#ad0000 70.5%,#c60000 71.9%,#df1700 73.4%,#ea2d00 74.1%,#f54a00 74.8%,#f85900 75.5%,#f03700 76.3%,#d60e00 77.7%,#c90300 78.4%,#ab0000 79.9%,#950000 82%,#840000 85.6%,#860000 100%)"></i><i style="background:linear-gradient(#00008c 0%,#0000a2 5.8%,#0000db 10.1%,#0000e2 11.5%,#00e 12.2%,#0007fc 12.9%,#0034ff 14.4%,#0046ff 15.1%,#05f 17.3%,#0094ff 21.6%,#009dff 23%,#00a7ff 25.9%,#01d2fe 31.7%,#05defa 36%,#14f2eb 38.8%,#35ffca 41.7%,#84ff7b 46.8%,#9eff61 49.6%,#a3ff5c 51.1%,#cffc30 53.2%,#eaeb15 54.7%,#f5dd0a 55.4%,#ffb100 56.8%,#fe4100 59.7%,#f21d00 61.2%,#e40a00 62.6%,#d00000 64%,#ae0000 66.2%,#950000 69.1%,#900000 71.9%,#a40000 75.5%,#8a0000 79.1%,#830000 83.5%,#890000 100%)"></i><i style="background:linear-gradient(#00008c 0%,#0000a3 6.5%,#0000bf 10.1%,#0000c3 11.5%,#0000ce 12.2%,#0001f4 13.7%,#000bfe 14.4%,#0018ff 15.1%,#002cff 18.7%,#0045ff 22.3%,#0051ff 27.3%,#0065ff 33.1%,#006aff 35.3%,#0087ff 38.1%,#02dffd 43.9%,#0cf4f3 46%,#1fffe0 48.9%,#27ffd8 51.1%,#50ffaf 54%,#82ff7d 56.1%,#c0fb3f 58.3%,#e0ea1f 59.7%,#f4cd0b 61.2%,#ffac00 62.6%,#ff9500 63.3%,#ff4a00 64.7%,#f82c00 65.5%,#ee1400 66.2%,#df0600 66.9%,#b90000 68.3%,#9f0000 69.8%,#800 72.7%,#860000 81.3%,#8c0000 100%)"></i><i style="background:linear-gradient(#00008c 0%,#0000a6 7.2%,#00b 10.8%,#0000c3 12.2%,#0000f2 15.1%,#0006ff 19.4%,#0015ff 23%,#0024ff 28.8%,#0034ff 35.3%,#004fff 38.1%,#00caff 46.8%,#00e2ff 49.6%,#01e9fe 53.2%,#0aebf5 56.8%,#20f3df 59%,#49fdb6 61.2%,#6fff90 62.6%,#8f7 63.3%,#b2fc4d 64%,#d8ef27 64.7%,#f3d50c 65.5%,#ffac00 66.2%,#ff4900 67.6%,#fb2100 68.3%,#ef0900 69.1%,#d70000 69.8%,#be0000 70.5%,#9d0000 71.9%,#8e0000 73.4%,#890000 76.3%,#8f0000 100%)"></i><i style="background:linear-gradient(#00008c 0%,#0000a5 7.2%,#0000b9 10.8%,#0000bf 12.2%,#0000e5 15.1%,#0000f7 19.4%,#0006ff 22.3%,#001dff 35.3%,#003dff 38.8%,#00a3ff 46.8%,#00b9ff 49.6%,#00b9ff 52.5%,#0086ff 57.6%,#0083ff 59.7%,#009aff 61.9%,#00a7ff 62.6%,#0bf 63.3%,#0ad9f5 64%,#22f4dd 64.7%,#52ffad 65.5%,#93ff6c 66.2%,#d0f82f 66.9%,#f6da09 67.6%,#ffa100 68.3%,#ff6500 69.1%,#ff2f00 69.8%,#f70a00 70.5%,#db0000 71.2%,#bf0000 71.9%,#a00 72.7%,#9c0000 73.4%,#920000 74.8%,#920000 97.8%,#940000 100%)"></i><i style="background:linear-gradient(#00008c 0%,#0000a4 7.2%,#0000b7 10.8%,#0000bd 12.2%,#00d 15.1%,#0000ed 19.4%,#0000fb 23%,#0006ff 28.1%,#0017ff 35.3%,#0038ff 38.8%,#00a1ff 46.8%,#00b6ff 49.6%,#00b6ff 51.8%,#009cff 54%,#0038ff 59%,#0025ff 60.4%,#001fff 61.9%,#02f 62.6%,#002dff 63.3%,#004cff 64%,#0079ff 64.7%,#00b1ff 65.5%,#0be6f4 66.2%,#38ffc7 66.9%,#cbff34 68.3%,#f8e307 69.1%,#ffa400 69.8%,#ff6300 70.5%,#ff2900 71.2%,#f00700 71.9%,#d00000 72.7%,#b40000 73.4%,#a30000 74.1%,#9b0000 75.5%,#a00000 79.1%,#960000 82%,#950000 92.8%,#a00 97.8%,#b90000 100%)"></i><i style="background:linear-gradient(#00008c 0%,#0000a3 7.2%,#0000b5 10.8%,#0000ba 12.2%,#0000d7 15.1%,#0000e5 19.4%,#0000f2 23%,#0002ff 28.8%,#0012ff 35.3%,#002cff 38.1%,#00a6ff 46.8%,#00bdff 49.6%,#00beff 51.8%,#00a3ff 54%,#0050ff 57.6%,#0021ff 59.7%,#0007ff 61.9%,#0008ff 63.3%,#0019ff 64%,#0035ff 64.7%,#005dff 65.5%,#008fff 66.2%,#00caff 66.9%,#10fcef 67.6%,#9eff61 69.1%,#e3fb1c 69.8%,#ffd100 70.5%,#ff9000 71.2%,#ff5600 71.9%,#ff2600 72.7%,#f30b00 73.4%,#e20100 74.1%,#d30000 74.8%,#c00 75.5%,#d30000 77%,#c90000 78.4%,#9e0000 81.3%,#9f0000 83.5%,#ac0000 88.5%,#b60000 91.4%,#ef0400 98.6%,#f60900 100%)"></i><i style="background:linear-gradient(#00008c 0%,#0000a2 7.2%,#0000b4 10.8%,#0000be 12.9%,#0000d1 15.1%,#0000e3 20.1%,#0004ff 30.9%,#000dff 35.3%,#0029ff 38.1%,#00a8ff 46.8%,#00c1ff 49.6%,#00c3ff 51.8%,#00b4ff 54%,#0091ff 56.1%,#0020ff 61.2%,#000dff 62.6%,#000cff 63.3%,#0014ff 64%,#0029ff 64.7%,#0048ff 65.5%,#0071ff 66.2%,#00a2ff 66.9%,#00d9ff 67.6%,#15ffea 68.3%,#d4ff2b 70.5%,#fce903 71.2%,#ff8100 72.7%,#ff5800 73.4%,#ff3b00 74.1%,#ff1f00 75.5%,#ff1f00 76.3%,#fc0d00 77.7%,#f40300 78.4%,#c20000 80.6%,#ba0000 81.3%,#bd0000 82%,#e20000 85.6%,#ed0300 89.2%,#fb0e00 92.8%,#ff3800 97.8%,#ff4d00 100%)"></i><i style="background:linear-gradient(#00008c 0%,#0000a1 7.2%,#0000b2 10.8%,#00b 12.9%,#00c 15.1%,#0000df 20.9%,#0000ef 27.3%,#0002ff 32.4%,#0008ff 35.3%,#0023ff 38.1%,#00a0ff 46.8%,#00b8ff 49.6%,#00bdff 54%,#00b2ff 56.1%,#008eff 59%,#0057ff 62.6%,#004dff 64%,#0053ff 64.7%,#0062ff 65.5%,#0079ff 66.2%,#09f 66.9%,#00c1ff 67.6%,#00efff 68.3%,#2fd 69.1%,#c6ff39 71.2%,#f2f80d 71.9%,#ffd700 72.7%,#ffb100 73.4%,#ff9500 74.1%,#ff7500 75.5%,#ff7000 76.3%,#ff5200 77.7%,#fd1800 79.9%,#fa0e00 80.6%,#f90d00 82%,#ff2b00 85.6%,#ff4300 90.6%,#ff9d00 100%)"></i><i style="background:linear-gradient(#00008c 0%,#0000a4 7.9%,#0000b8 12.9%,#0000c8 15.8%,#00d 23.7%,#0000fc 33.1%,#0003ff 35.3%,#001dff 38.1%,#0095ff 46.8%,#00acff 49.6%,#00c6ff 57.6%,#00bdff 60.4%,#009fff 64%,#00a5ff 65.5%,#00c4ff 66.9%,#01f9fe 68.3%,#1cffe3 69.1%,#daff25 72.7%,#f3f90c 73.4%,#fcea03 74.1%,#ffce00 75.5%,#ffc700 76.3%,#ffa300 77.7%,#ff6000 79.9%,#ff5100 80.6%,#ff4b00 81.3%,#ff8500 88.5%,#ffdf00 100%)"></i><i style="background:linear-gradient(#00008c 0%,#0000a3 7.9%,#0000ba 13.7%,#0000c3 16.5%,#0000d5 23.7%,#0000f5 33.1%,#0001fe 36%,#001dff 38.8%,#0089ff 46.8%,#00a0ff 49.6%,#00aeff 53.2%,#00d8ff 59%,#0df 61.9%,#00dbff 64.7%,#00e7ff 66.2%,#05fcfa 67.6%,#14ffeb 68.3%,#5cffa3 70.5%,#adff52 72.7%,#d4ff2b 74.1%,#f4fc0b 76.3%,#fdf302 77%,#ff9d00 79.9%,#ff8f00 80.6%,#f80 81.3%,#ff9400 82.7%,#ffc600 87.8%,#ffea00 95%,#f5fc0a 98.6%,#ef1 100%)"></i><i style="background:linear-gradient(#00008c 0%,#0000a2 7.9%,#0000bd 15.8%,#0000d9 27.3%,#0000eb 33.1%,#0000f3 36%,#0006ff 38.1%,#0069ff 46.8%,#007cff 49.6%,#0085ff 51.8%,#00dfff 59%,#00f0ff 61.9%,#00f1ff 64.7%,#00fcff 66.2%,#1fe 67.6%,#3dffc2 69.8%,#98ff67 73.4%,#c5ff3a 76.3%,#eaff15 77.7%,#f9f806 78.4%,#ffe900 79.1%,#ffcb00 80.6%,#ffc500 81.3%,#ffe800 85.6%,#fafb05 92.8%,#e5ff1a 95.7%,#beff41 100%)"></i><i style="background:linear-gradient(#00008c 0%,#0000a1 7.9%,#0000b8 16.5%,#0000c9 23.7%,#0000e0 33.1%,#0000e9 36.7%,#0005fd 40.3%,#003cff 48.2%,#0043ff 51.1%,#005fff 53.2%,#0cf 59%,#00e5ff 61.2%,#00fdff 65.5%,#1cffe3 68.3%,#78ff87 74.1%,#94ff6b 76.3%,#cf3 78.4%,#f1fe0e 79.9%,#fdf702 81.3%,#efff10 87.1%,#dfff20 92.1%,#98ff67 99.3%,#94ff6b 100%)"></i><i style="background:linear-gradient(#00008c 0%,#0000a3 8.6%,#0000c3 23.7%,#0000d6 33.8%,#0000e6 39.6%,#0004fb 45.3%,#000eff 51.1%,#0026ff 53.2%,#0063ff 56.1%,#00b6ff 59.7%,#00d4ff 61.9%,#0ef 65.5%,#02fcfd 66.9%,#58ffa7 74.1%,#6f9 75.5%,#81ff7e 77%,#d0ff2f 79.9%,#e6ff19 81.3%,#d5ff2a 85.6%,#baff45 92.1%,#70ff8f 99.3%,#6bff94 100%)"></i><i style="background:linear-gradient(#00008c 0%,#0000a2 8.6%,#0000bc 21.6%,#0000d4 38.1%,#0000f8 48.9%,#0002fe 52.5%,#0018ff 54.7%,#004eff 57.6%,#0098ff 61.2%,#00c7ff 64.7%,#01fafe 68.3%,#18ffe7 70.5%,#3effc1 74.1%,#4cffb3 75.5%,#6f9 77%,#b4ff4b 79.9%,#c9ff36 81.3%,#c1ff3e 83.5%,#8bff74 92.8%,#46ffb9 99.3%,#41ffbe 100%)"></i><i style="background:linear-gradient(#00008c 0%,#0000ad 13.7%,#0000b8 22.3%,#0000c6 30.2%,#0000d5 39.6%,#0000ef 49.6%,#0000f6 53.2%,#0008fe 55.4%,#002cff 58.3%,#0061ff 61.9%,#006fff 63.3%,#00b9ff 66.9%,#00f2ff 69.8%,#09fef6 71.2%,#32ffcd 75.5%,#4bffb4 77%,#97ff68 79.9%,#acff53 81.3%,#a2ff5d 83.5%,#74ff8b 89.9%,#62ff9d 92.8%,#17ffe8 99.3%,#12ffed 100%)"></i><i style="background:linear-gradient(#00008c 0%,#0000ac 13.7%,#0000b3 17.3%,#0000b7 25.2%,#0000d0 33.1%,#0000e2 45.3%,#0000f0 56.1%,#0008fa 59%,#002dff 63.3%,#006aff 66.2%,#00d3ff 70.5%,#00efff 71.9%,#06fcf9 73.4%,#18ffe7 75.5%,#30ffcf 77%,#7f8 79.9%,#8bff74 81.3%,#86ff79 82.7%,#49ffb6 89.9%,#34ffcb 92.8%,#09fcf6 96.4%,#00e5ff 99.3%,#00e0ff 100%)"></i><i style="background:linear-gradient(#00008c 0%,#0000a8 12.9%,#0000b3 15.8%,#0000be 25.9%,#0000d6 32.4%,#0000e6 53.2%,#0000ec 61.9%,#0004f7 64%,#001aff 65.5%,#00a0ff 70.5%,#00cdff 72.7%,#01f2fe 75.5%,#0bfdf4 77%,#53ffac 79.9%,#69ff96 81.3%,#64ff9b 82.7%,#3effc1 86.3%,#1fffe0 89.2%,#08faf7 92.8%,#00e9ff 95%,#00c4ff 98.6%,#00bdff 100%)"></i><i style="background:linear-gradient(#00008c 0%,#0000a6 12.9%,#0000b3 15.8%,#0000c7 26.6%,#00d 33.1%,#0000e6 59%,#0000e9 64%,#0003fe 66.2%,#0032ff 68.3%,#008fff 71.9%,#00b4ff 74.1%,#00ceff 76.3%,#00f0ff 77.7%,#08fdf7 78.4%,#3dffc2 80.6%,#45ffba 81.3%,#3dffc2 82.7%,#0efdf1 86.3%,#01f0fe 88.5%,#00caff 94.2%,#00acff 98.6%,#00a6ff 100%)"></i><i style="background:linear-gradient(#00008c 0%,#0000a2 12.2%,#0000b3 15.8%,#0000c6 23.7%,#0000e4 33.1%,#0000e8 64%,#0002fe 66.9%,#03f 69.8%,#007bff 73.4%,#00a2ff 76.3%,#00c5ff 77.7%,#01eefe 79.1%,#07f8f8 79.9%,#13feec 81.3%,#05f5fa 83.5%,#00cdff 87.1%,#0096ff 98.6%,#0094ff 100%)"></i><i style="background:linear-gradient(#00008c 0%,#0000a9 12.2%,#0000c0 15.1%,#0000d1 20.1%,#00e 30.2%,#0000f4 36%,#0000f5 51.8%,#0000e6 59.7%,#0000e9 64.7%,#0001fe 67.6%,#0031ff 71.2%,#0074ff 76.3%,#00c8ff 79.9%,#00d1ff 80.6%,#00d4ff 81.3%,#00a0ff 86.3%,#009bff 88.5%,#0098ff 95%,#00afff 99.3%,#00b4ff 100%)"></i><i style="background:linear-gradient(#00008c 0%,#0000a0 7.2%,#0000b1 11.5%,#0000c4 12.9%,#0000e8 15.1%,#000af7 20.9%,#0012ff 38.1%,#001eff 51.1%,#000aff 54%,#0000f3 60.4%,#0000eb 65.5%,#0003fe 69.1%,#004dff 76.3%,#0085ff 79.1%,#0094ff 80.6%,#0093ff 81.3%,#0076ff 84.2%,#0074ff 85.6%,#08f 87.8%,#00a7ff 90.6%,#00d2ff 96.4%,#06f0f9 100%)"></i><i style="background:linear-gradient(#00008c 0%,#0000a3 6.5%,#0000c7 10.1%,#00c 11.5%,#0000d6 12.2%,#0004f7 13.7%,#001cff 15.1%,#0030ff 18%,#005cff 21.6%,#0064ff 23.7%,#007dff 36%,#009eff 40.3%,#08baf7 43.9%,#16cde9 48.2%,#1bcfe4 51.1%,#039dfc 53.2%,#0051ff 56.1%,#002aff 58.3%,#0013ff 60.4%,#0003fb 64.7%,#0000f8 69.1%,#0004fe 71.2%,#002cff 76.3%,#0056ff 79.9%,#06f 83.5%,#09f 86.3%,#00c0ff 88.5%,#01e3fe 91.4%,#0df1f2 93.5%,#28fcd7 95.7%,#7fff80 100%)"></i><i style="background:linear-gradient(#00008c 0%,#0000a7 5.8%,#0000c9 7.9%,#0001ec 10.1%,#0004f2 11.5%,#000bfa 12.2%,#001fff 12.9%,#0059ff 14.4%,#006eff 15.1%,#0080ff 17.3%,#00c3ff 20.9%,#05d2fa 22.3%,#09dff6 26.6%,#1bf2e4 32.4%,#20f6df 35.3%,#3bfdc4 38.1%,#7bff84 41.7%,#befc41 45.3%,#daef25 48.2%,#e1e71e 51.1%,#b7f848 53.2%,#92ff6d 54.7%,#66fb99 56.1%,#3fedc0 57.6%,#16c8e9 59.7%,#0093ff 61.9%,#0067ff 63.3%,#004bff 64%,#0036ff 64.7%,#001eff 66.2%,#0007ff 72.7%,#0006ff 74.8%,#0010ff 76.3%,#0038ff 78.4%,#0078ff 81.3%,#0097ff 83.5%,#00b5ff 84.9%,#05dbfa 86.3%,#1ef5e1 87.8%,#4cffb3 89.9%,#b2ff4d 94.2%,#daef25 96.4%,#f3cb0c 98.6%,#fca703 100%)"></i><i style="background:linear-gradient(#00008c 0%,#00009b 2.2%,#0000b0 4.3%,#0000b2 5%,#00b 5.8%,#0000cd 6.5%,#0000e7 7.2%,#000cf8 7.9%,#003cff 9.4%,#0051ff 10.1%,#005dff 10.8%,#0061ff 11.5%,#0076ff 12.2%,#00c2ff 13.7%,#08e1f7 14.4%,#17f0e8 15.1%,#25f8da 17.3%,#39fec6 18.7%,#73ff8c 21.6%,#7fff80 23%,#8bff74 26.6%,#abff54 32.4%,#b4ff4b 35.3%,#d7fc28 38.1%,#efea10 40.3%,#ffbc00 43.2%,#ff7500 46.8%,#ff5900 48.9%,#ff5000 51.1%,#ffa000 56.8%,#eec311 59%,#c9e636 61.2%,#8bfe74 63.3%,#41edbe 64.7%,#13c5ec 66.2%,#008eff 67.6%,#0071ff 68.3%,#004aff 69.8%,#0036ff 71.2%,#001bff 74.8%,#001dff 75.5%,#004eff 77.7%,#00bfff 81.3%,#0de0f2 82.7%,#32f7cd 84.2%,#4cffb3 84.9%,#b4fc4b 87.1%,#cbf334 87.8%,#e4df1b 89.2%,#f9af06 91.4%,#ff8600 92.8%,#fa5b00 94.2%,#f23600 95.7%,#d10 97.8%,#c40000 100%)"></i><i style="background:linear-gradient(#00008c 0%,#000097 1.4%,#0000be 4.3%,#0000c1 5%,#0000cf 5.8%,#0000ec 6.5%,#0014ff 7.2%,#0096ff 9.4%,#00b7ff 10.1%,#00c9ff 10.8%,#00cfff 11.5%,#00e3ff 12.2%,#0afaf5 12.9%,#51ffae 14.4%,#6cff93 15.1%,#76ff89 15.8%,#81ff7e 17.3%,#d4ff2b 21.6%,#e0ff1f 23%,#edff12 27.3%,#fbfa04 31.7%,#fef301 35.3%,#ffdb00 37.4%,#f90 41%,#ff3400 46%,#ff0e00 48.9%,#ff0400 51.1%,#f00700 56.8%,#ea0e00 59.7%,#ee2700 61.9%,#f43300 62.6%,#f84800 63.3%,#ff6900 64%,#fc9103 64.7%,#dfd020 66.2%,#c9e736 66.9%,#87ff78 68.3%,#40efbf 69.8%,#13cdec 71.2%,#009cff 72.7%,#0069ff 74.1%,#0056ff 74.8%,#0053ff 75.5%,#006cff 76.3%,#00b1ff 77.7%,#0ccef3 78.4%,#1ee5e1 79.1%,#37f6c8 79.9%,#54ffab 80.6%,#9cff63 82%,#d3eb2c 83.5%,#f4b80b 84.9%,#fe9501 85.6%,#fe6b00 86.3%,#f54900 87.1%,#ed3000 87.8%,#e01600 89.2%,#c80100 91.4%,#a70000 94.2%,#8c0000 100%)"></i><i style="background:linear-gradient(#00008c 0%,#000096 1.4%,#0000ba 4.3%,#0000bc 5%,#0000c9 5.8%,#0000e3 6.5%,#000afd 7.2%,#007fff 9.4%,#009cff 10.1%,#00adff 10.8%,#00b3ff 11.5%,#00c7ff 12.2%,#03e6fc 12.9%,#17fae8 13.7%,#54ffab 15.1%,#5fffa0 15.8%,#6aff95 17.3%,#bfff40 21.6%,#cbff34 23%,#d9ff26 27.3%,#edfe12 31.7%,#f4fa0b 35.3%,#fdea02 37.4%,#ffb700 40.3%,#ff4200 46%,#ff1a00 48.9%,#fb0200 53.2%,#ba0000 59.7%,#b20000 61.9%,#bd0000 64%,#d20200 65.5%,#e61a00 66.9%,#f02f00 67.6%,#fe6e00 69.1%,#fa9605 69.8%,#efb810 70.5%,#c7eb38 71.9%,#83ff7c 73.4%,#3df0c2 74.8%,#32eccd 75.5%,#7aff85 77%,#a3fb5c 77.7%,#c3f03c 78.4%,#efc410 79.9%,#ff7b00 81.3%,#f03600 82.7%,#d50d00 84.2%,#c80200 84.9%,#ab0000 86.3%,#9b0000 87.8%,#840000 95%,#820000 100%)"></i><i style="background:linear-gradient(#00008c 0%,#009 2.2%,#00a 4.3%,#0000b3 5.8%,#0000d6 7.2%,#0002eb 7.9%,#000df7 8.6%,#002bff 10.1%,#0039ff 11.5%,#004dff 12.2%,#0096ff 13.7%,#0bf 14.4%,#04d3fb 15.1%,#0ae2f5 17.3%,#20f6df 19.4%,#4affb5 22.3%,#58ffa7 25.9%,#84ff7b 31.7%,#90ff6f 35.3%,#b3ff4c 38.1%,#d5fb2a 40.3%,#f5e20a 43.2%,#ffb600 46%,#ff9200 48.9%,#ff8700 51.1%,#fc1700 55.4%,#ed0400 56.8%,#bf0000 59.7%,#ab0000 61.9%,#a60000 66.2%,#b30000 69.1%,#cb0200 70.5%,#e21c00 71.9%,#ee3200 72.7%,#ff7500 74.1%,#f89c07 74.8%,#f4ab0b 75.5%,#f80 76.3%,#f23d00 77.7%,#da1000 79.1%,#cb0500 79.9%,#ae0000 81.3%,#960000 83.5%,#840000 87.1%,#850000 100%)"></i><i style="background:linear-gradient(#00008c 0%,#0000a4 5.8%,#0000c4 7.9%,#0000e6 10.1%,#00e 11.5%,#0004f8 12.2%,#0014ff 12.9%,#0048ff 14.4%,#005bff 15.1%,#006cff 17.3%,#00b4ff 21.6%,#00beff 23%,#00caff 25.9%,#0decf2 30.9%,#18f6e7 36%,#32ffcd 38.8%,#a9ff56 46%,#c8fe37 48.9%,#cffc30 51.1%,#e5f21a 52.5%,#f7d908 54%,#ffad00 55.4%,#ff3d00 58.3%,#f21700 59.7%,#ea0b00 60.4%,#d60000 61.9%,#a60000 66.2%,#950000 69.1%,#900 71.9%,#ac0000 74.1%,#b90000 74.8%,#c10000 75.5%,#a60000 77%,#8e0000 79.9%,#830000 83.5%,#800 100%)"></i><i style="background:linear-gradient(#00008c 0%,#0000a5 6.5%,#0000c6 10.1%,#0000cb 11.5%,#0000d7 12.2%,#0005fb 13.7%,#0026ff 15.1%,#0038ff 18%,#005bff 21.6%,#0072ff 28.1%,#0084ff 33.1%,#008aff 35.3%,#00a7ff 38.1%,#03dbfc 41.7%,#16f7e9 44.6%,#35ffca 47.5%,#48ffb7 50.4%,#4affb5 51.1%,#6fff90 53.2%,#a5ff5a 55.4%,#ccf933 56.8%,#e9e416 58.3%,#fac105 59.7%,#ff9300 61.2%,#ff5100 63.3%,#f21d00 64.7%,#e70b00 65.5%,#d70200 66.2%,#b50000 67.6%,#980000 69.8%,#870000 72.7%,#8b0000 75.5%,#830000 79.9%,#8b0000 100%)"></i><i style="background:linear-gradient(#00008c 0%,#0000a6 7.2%,#00b 10.8%,#0000bd 11.5%,#0000d2 12.9%,#0000f1 14.4%,#0003f9 15.1%,#000fff 19.4%,#001eff 23%,#002cff 28.1%,#003cff 33.1%,#0041ff 35.3%,#005dff 38.1%,#00dbff 46.8%,#01eefe 48.9%,#0df7f2 54%,#1ef9e1 56.1%,#40febf 58.3%,#79ff86 60.4%,#a5ff5a 61.9%,#c9f436 63.3%,#e3e31c 64%,#f7c908 64.7%,#ffa100 65.5%,#ff4500 66.9%,#f92200 67.6%,#ec0a00 68.3%,#d80000 69.1%,#ac0000 70.5%,#950000 71.9%,#800 74.1%,#8e0000 100%)"></i><i style="background:linear-gradient(#00008c 0%,#0000a5 7.2%,#0000b9 10.8%,#0000c0 12.2%,#0000e7 15.1%,#0000f6 18.7%,#0004ff 20.9%,#000dff 25.2%,#0021ff 35.3%,#003aff 38.1%,#00adff 46.8%,#00c3ff 49.6%,#00c6ff 52.5%,#0af 56.8%,#00acff 59%,#06ccf9 61.9%,#13e3ec 63.3%,#2bf5d4 64%,#56ffa9 64.7%,#92ff6d 65.5%,#caf835 66.2%,#f2df0d 66.9%,#ffad00 67.6%,#ff3e00 69.1%,#fb1500 69.8%,#e90100 70.5%,#cb0000 71.2%,#b30000 71.9%,#970000 73.4%,#8e0000 75.5%,#910000 100%)"></i><i style="background:linear-gradient(#00008c 0%,#0000a5 7.2%,#0000b8 10.8%,#0000be 12.2%,#0000e0 15.1%,#0000f0 19.4%,#0001fd 22.3%,#0009ff 28.1%,#0018ff 35.3%,#0039ff 38.8%,#009fff 46.8%,#00b4ff 49.6%,#00b5ff 51.8%,#009cff 54%,#004eff 58.3%,#003dff 59.7%,#0038ff 61.2%,#0042ff 62.6%,#0052ff 63.3%,#0076ff 64%,#00a7ff 64.7%,#07daf8 65.5%,#28fad7 66.2%,#68ff97 66.9%,#b0ff4f 67.6%,#eaf015 68.3%,#ffbf00 69.1%,#ff7c00 69.8%,#ff3f00 70.5%,#f91000 71.2%,#de0000 71.9%,#be0000 72.7%,#a80000 73.4%,#9c0000 74.1%,#980000 76.3%,#950000 81.3%,#930000 94.2%,#a20000 99.3%,#a60000 100%)"></i><i style="background:linear-gradient(#00008c 0%,#0000a4 7.2%,#0000b6 10.8%,#00b 12.2%,#0000d8 15.1%,#0000e8 19.4%,#0000f5 23%,#0004ff 28.8%,#0014ff 35.3%,#002dff 38.1%,#00a4ff 46.8%,#0bf 49.6%,#0bf 51.8%,#009fff 54%,#0030ff 59%,#0010ff 61.2%,#0008ff 62.6%,#000dff 63.3%,#001fff 64%,#003fff 64.7%,#006cff 65.5%,#03e1fc 66.9%,#2cffd3 67.6%,#c1ff3e 69.1%,#f7eb08 69.8%,#ffae00 70.5%,#ff6f00 71.2%,#ff3700 71.9%,#f70f00 72.7%,#e10100 73.4%,#c80000 74.1%,#b00 74.8%,#b50000 75.5%,#be0000 77.7%,#ac0000 79.9%,#9c0000 81.3%,#a10000 90.6%,#c90000 96.4%,#e70100 100%)"></i><i style="background:linear-gradient(#00008c 0%,#0000a3 7.2%,#0000b4 10.8%,#0000bf 12.9%,#0000d3 15.1%,#0000e1 19.4%,#0000ed 23%,#0003ff 30.2%,#000fff 35.3%,#002aff 38.1%,#00a8ff 46.8%,#00c1ff 49.6%,#00c2ff 51.8%,#00aeff 54%,#0085ff 56.1%,#001eff 60.4%,#0008ff 61.9%,#0005ff 63.3%,#0012ff 64%,#002aff 64.7%,#004dff 65.5%,#0079ff 66.2%,#00acff 66.9%,#00e6ff 67.6%,#25ffda 68.3%,#eafb15 70.5%,#ffd000 71.2%,#ff9600 71.9%,#ff6300 72.7%,#ff3b00 73.4%,#fe1f00 74.1%,#fa1200 74.8%,#f60c00 75.5%,#f70900 77%,#f30300 77.7%,#d60000 79.1%,#b50000 80.6%,#ab0000 81.3%,#ac0000 82%,#d40000 87.1%,#df0000 90.6%,#f90c00 95%,#ff2c00 99.3%,#f30 100%)"></i><i style="background:linear-gradient(#00008c 0%,#0000a2 7.2%,#0000b2 10.8%,#0000bc 12.9%,#0000ce 15.1%,#0000de 20.1%,#0000f4 28.1%,#0002ff 31.7%,#000aff 35.3%,#0025ff 38.1%,#00a3ff 46.8%,#00bcff 49.6%,#00beff 53.2%,#00b1ff 55.4%,#0087ff 58.3%,#0045ff 61.9%,#0035ff 63.3%,#0034ff 64%,#003eff 64.7%,#0051ff 65.5%,#006fff 66.2%,#0095ff 66.9%,#02f5fd 68.3%,#30ffcf 69.1%,#deff21 71.2%,#fce803 71.9%,#ff9400 73.4%,#f70 74.1%,#ff5800 75.5%,#ff5400 76.3%,#ff3800 77.7%,#fc1200 79.1%,#eb0300 80.6%,#e70200 81.3%,#fc1200 84.9%,#ff2a00 90.6%,#ff8300 100%)"></i><i style="background:linear-gradient(#00008c 0%,#0000a5 7.9%,#0000b9 12.9%,#0000ca 15.8%,#0000df 23%,#00e 28.1%,#0000fe 33.1%,#0005ff 35.3%,#001fff 38.1%,#09f 46.8%,#00b0ff 49.6%,#00c0ff 56.8%,#00b0ff 59.7%,#0084ff 64%,#0086ff 64.7%,#008fff 65.5%,#009eff 66.2%,#00d1ff 67.6%,#00f2ff 68.3%,#19ffe6 69.1%,#c7ff38 71.9%,#ecfb13 72.7%,#fce903 73.4%,#ffd200 74.1%,#ffb200 75.5%,#ffac00 76.3%,#ff8a00 77.7%,#ff4900 79.9%,#ff3b00 80.6%,#ff3500 81.3%,#ff6400 87.1%,#ff8000 91.4%,#fc0 100%)"></i><i style="background:linear-gradient(#00008c 0%,#0000a4 7.9%,#0000b6 12.9%,#0000c5 15.8%,#0000d8 23.7%,#0000f8 33.1%,#0003ff 36%,#002aff 39.6%,#008eff 46.8%,#00a5ff 49.6%,#00b1ff 53.2%,#00d4ff 59%,#00d4ff 61.9%,#0cf 64.7%,#00d8ff 66.2%,#01f4fe 67.6%,#0cfff3 68.3%,#5fffa0 70.5%,#baff45 72.7%,#e5ff1a 74.1%,#fcf303 76.3%,#ffe400 77%,#ff8a00 79.9%,#ff7b00 80.6%,#ff7500 81.3%,#ff8000 82.7%,#ffb200 87.8%,#fdf402 98.6%,#f8f907 100%)"></i><i style="background:linear-gradient(#00008c 0%,#0000a2 7.9%,#0000b7 13.7%,#0000d0 23%,#0000de 28.1%,#00e 33.1%,#0000f7 36%,#0004ff 37.4%,#0042ff 42.4%,#0078ff 46.8%,#008dff 49.6%,#0094ff 51.8%,#00dfff 59%,#00ebff 61.9%,#00ebff 64.7%,#03fffc 66.9%,#2effd1 69.1%,#a6ff59 73.4%,#d5ff2a 76.3%,#f6fa09 77.7%,#ffec00 78.4%,#ffc400 79.9%,#ffb700 80.6%,#ffb100 81.3%,#ffbe00 82.7%,#ffdf00 86.3%,#fdf802 93.5%,#ebff14 96.4%,#cdff32 100%)"></i><i style="background:linear-gradient(#00008c 0%,#0000a1 7.9%,#0000ba 16.5%,#0000cb 23.7%,#0000e4 33.1%,#00e 36.7%,#0006fe 39.6%,#004bff 47.5%,#0057ff 51.1%,#0072ff 53.2%,#00d5ff 59%,#00ebff 61.2%,#04fffb 66.2%,#28ffd7 69.1%,#86ff79 74.1%,#a4ff5b 76.3%,#effe10 79.1%,#f9f706 79.9%,#ffea00 81.3%,#fbfb04 85.6%,#efff10 91.4%,#d1ff2e 95%,#a6ff59 99.3%,#a2ff5d 100%)"></i><i style="background:linear-gradient(#00008c 0%,#0000a3 8.6%,#0000c5 23.7%,#0000da 33.8%,#0000e8 38.8%,#0007fc 43.9%,#001bff 50.4%,#02f 51.8%,#0045ff 54%,#00b6ff 59%,#00d6ff 61.2%,#00f5ff 65.5%,#06fff9 66.9%,#60ff9f 74.1%,#7aff85 76.3%,#b3ff4c 78.4%,#d9ff26 79.9%,#f0ff0f 81.3%,#c6ff39 92.1%,#7dff82 99.3%,#79ff86 100%)"></i><i style="background:linear-gradient(#00008c 0%,#0000a2 8.6%,#0000bf 23%,#0000d8 38.1%,#0000fb 48.9%,#0006ff 52.5%,#02f 54.7%,#0071ff 58.3%,#00acff 61.2%,#01f8fe 67.6%,#0dfff2 69.1%,#41ffbe 73.4%,#54ffab 75.5%,#6eff91 77%,#bdff42 79.9%,#d3ff2c 81.3%,#c7ff38 84.2%,#98ff67 92.8%,#54ffab 99.3%,#50ffaf 100%)"></i><i style="background:linear-gradient(#00008c 0%,#0000b3 16.5%,#0000c4 29.5%,#0000d3 38.8%,#0000f1 48.9%,#0000fb 53.2%,#0010ff 55.4%,#05f 59.7%,#007eff 62.6%,#0091ff 64%,#00f2ff 69.1%,#08fef7 70.5%,#2dffd2 74.1%,#3affc5 75.5%,#54ffab 77%,#a0ff5f 79.9%,#b6ff49 81.3%,#adff52 83.5%,#82ff7d 89.9%,#68ff97 93.5%,#27ffd8 99.3%,#2fd 100%)"></i><i style="background:linear-gradient(#00008c 0%,#0000ac 13.7%,#0000b3 17.3%,#0000ba 25.9%,#0000ce 33.1%,#0000dc 42.4%,#0000f1 54.7%,#0008fc 57.6%,#002cff 61.2%,#0042ff 63.3%,#007fff 66.2%,#00e3ff 70.5%,#03f9fc 71.9%,#13ffec 74.1%,#2affd5 76.3%,#82ff7d 79.9%,#96ff69 81.3%,#91ff6e 82.7%,#58ffa7 89.9%,#43ffbc 92.8%,#08fbf7 97.8%,#01effe 100%)"></i><i style="background:linear-gradient(#00008c 0%,#0000a8 12.9%,#0000b3 15.8%,#0000bc 25.9%,#0000d4 32.4%,#0000e6 53.2%,#0000ed 59.7%,#0008f9 63.3%,#001dff 64.7%,#00b1ff 70.5%,#00dcff 72.7%,#02f5fd 74.8%,#0bfdf4 76.3%,#28ffd7 77.7%,#5fffa0 79.9%,#74ff8b 81.3%,#6fff90 82.7%,#4fb 87.1%,#0dfdf2 93.5%,#0ef 95.7%,#00c9ff 99.3%,#00c6ff 100%)"></i><i style="background:linear-gradient(#00008c 0%,#0000a7 12.9%,#0000b3 15.8%,#0000c5 26.6%,#0000db 33.1%,#0000e6 56.1%,#0000e7 63.3%,#0002fa 65.5%,#000bff 66.2%,#008fff 71.2%,#00b9ff 73.4%,#0df 76.3%,#04f9fb 77.7%,#13ffec 78.4%,#3bffc4 79.9%,#49ffb6 80.6%,#52ffad 81.3%,#4bffb4 82.7%,#0cfdf3 87.8%,#0ef 91.4%,#00b7ff 97.8%,#00aeff 100%)"></i><i style="background:linear-gradient(#00008c 0%,#0000a2 12.2%,#0000b3 15.8%,#0000ce 27.3%,#0000e1 33.1%,#0000e8 64%,#0000fa 66.2%,#0005ff 66.9%,#002dff 69.1%,#007eff 72.7%,#00b0ff 76.3%,#00d4ff 77.7%,#05f9fa 79.1%,#1fffe0 80.6%,#25ffda 81.3%,#18ffe7 82.7%,#04f5fb 84.9%,#00d2ff 88.5%,#009aff 99.3%,#0098ff 100%)"></i><i style="background:linear-gradient(#00008c 0%,#0000a5 12.2%,#0000b9 15.1%,#0000c9 20.1%,#0000e1 28.8%,#0000ed 33.8%,#00e 51.8%,#0000e6 60.4%,#0000ea 64.7%,#0004ff 67.6%,#0046ff 71.9%,#0083ff 76.3%,#00daff 79.9%,#00e4ff 80.6%,#00e8ff 81.3%,#00daff 82.7%,#00b2ff 86.3%,#00a8ff 88.5%,#0095ff 95.7%,#009eff 99.3%,#00a2ff 100%)"></i><i style="background:linear-gradient(#00008c 0%,#0000a1 7.9%,#0000b2 12.2%,#0000d8 15.1%,#0002f0 23%,#0005fe 35.3%,#000bff 51.1%,#0000f4 57.6%,#0000e7 64%,#0000f2 66.9%,#0001fd 68.3%,#0059ff 76.3%,#0096ff 79.1%,#00a8ff 80.6%,#00a9ff 81.3%,#0084ff 84.9%,#0081ff 87.1%,#00a1ff 92.1%,#00d2ff 98.6%,#00deff 100%)"></i><i style="background:linear-gradient(#00008c 0%,#0000a1 6.5%,#0000bd 10.1%,#0000c1 11.5%,#0000cb 12.2%,#0000ec 13.7%,#0005f8 14.4%,#0011fe 15.8%,#001bff 18%,#003eff 21.6%,#04f 24.5%,#004eff 36%,#0078ff 43.9%,#0090ff 49.6%,#0090ff 51.1%,#0056ff 53.2%,#002dff 55.4%,#0015ff 57.6%,#0005fd 61.2%,#0000f3 67.6%,#0004fe 70.5%,#0037ff 76.3%,#0060ff 79.1%,#006aff 80.6%,#0061ff 82.7%,#0067ff 84.2%,#0089ff 86.3%,#00afff 88.5%,#00c9ff 90.6%,#03e7fc 94.2%,#12f6ed 96.4%,#3bffc4 99.3%,#49ffb6 100%)"></i><i style="background:linear-gradient(#00008c 0%,#0000a3 5.8%,#0000de 10.1%,#0000e5 11.5%,#0001f1 12.2%,#000bfc 12.9%,#0038ff 14.4%,#004aff 15.1%,#005aff 17.3%,#00a2ff 21.6%,#00acff 23%,#00b9ff 26.6%,#04d1fb 30.9%,#09def6 36%,#23f3dc 39.6%,#62ff9d 43.9%,#97ff68 47.5%,#a8fd57 49.6%,#a9fc56 51.1%,#67fc98 53.2%,#32e5cd 55.4%,#0fbbf0 57.6%,#0298fd 59%,#004cff 61.9%,#0020ff 64%,#0012ff 65.5%,#0003ff 72.7%,#0016ff 76.3%,#0034ff 78.4%,#0069ff 81.3%,#0091ff 84.2%,#00c0ff 86.3%,#00d4ff 87.1%,#0becf4 88.5%,#2afbd5 90.6%,#53ffac 92.8%,#b8fe47 97.1%,#ddec22 99.3%,#e5e11a 100%)"></i><i style="background:linear-gradient(#00008c 0%,#009 2.2%,#0000ab 4.3%,#0000b3 5.8%,#0000d6 7.2%,#0002ea 7.9%,#001cfc 9.4%,#0032ff 10.8%,#0036ff 11.5%,#004aff 12.2%,#0092ff 13.7%,#00b8ff 14.4%,#04cffb 15.1%,#10e5ef 18%,#2bf8d4 20.1%,#47ffb8 22.3%,#58ffa7 26.6%,#78ff87 31.7%,#84ff7b 35.3%,#9dff62 37.4%,#cefb31 40.3%,#f3e10c 43.2%,#ffb400 46%,#ff8c00 48.9%,#ff8300 51.1%,#feb501 54%,#eed011 56.1%,#cbe934 58.3%,#93fc6c 60.4%,#7bff84 61.2%,#3ae9c5 63.3%,#10bbef 64.7%,#049ffb 65.5%,#0065ff 66.9%,#003fff 68.3%,#002cff 69.8%,#000fff 74.8%,#01f 75.5%,#002dff 77%,#009fff 81.3%,#04d1fb 83.5%,#0ce2f3 84.2%,#34f9cb 85.6%,#50ffaf 86.3%,#90ff6f 87.8%,#b8fc47 89.2%,#dfe720 91.4%,#f0cf0f 92.8%,#f90 95%,#fe6900 96.4%,#f03300 98.6%,#e11a00 100%)"></i><i style="background:linear-gradient(#00008c 0%,#000096 1.4%,#0000ba 4.3%,#0000bd 5%,#0000ca 5.8%,#0000e4 6.5%,#000bfd 7.2%,#0081ff 9.4%,#009fff 10.1%,#00b0ff 10.8%,#00b5ff 11.5%,#00caff 12.2%,#03e8fc 12.9%,#19fbe6 13.7%,#57ffa8 15.1%,#61ff9e 15.8%,#6dff92 17.3%,#c1ff3e 21.6%,#cdff32 23%,#dbff24 27.3%,#f0fd0f 32.4%,#f8f607 36%,#ffdf00 38.1%,#ff7900 43.2%,#ff3400 46.8%,#ff1800 48.9%,#ff0f00 51.1%,#fa2400 57.6%,#f93a00 59.7%,#ff6800 61.9%,#fa9905 63.3%,#eb1 64%,#c3ec3c 65.5%,#7bff84 66.9%,#38ebc7 68.3%,#10c3ef 69.8%,#0091ff 71.2%,#0062ff 72.7%,#04f 74.1%,#003aff 74.8%,#003aff 75.5%,#0063ff 77%,#03c1fc 79.1%,#0edcf1 79.9%,#39f8c6 81.3%,#53ffac 82%,#97ff68 83.5%,#d2ee2d 84.9%,#f4bc0b 86.3%,#fd9a02 87.1%,#f70 87.8%,#f33a00 89.9%,#de1300 92.1%,#c60000 94.2%,#ac0000 96.4%,#960000 100%)"></i><i style="background:linear-gradient(#00008c 0%,#000097 1.4%,#0000be 4.3%,#0000c0 5%,#0000ce 5.8%,#0000eb 6.5%,#0013ff 7.2%,#0095ff 9.4%,#00b5ff 10.1%,#00c8ff 10.8%,#00cdff 11.5%,#00e1ff 12.2%,#09f9f6 12.9%,#4fffb0 14.4%,#6bff94 15.1%,#75ff8a 15.8%,#80ff7f 17.3%,#d3ff2c 21.6%,#dfff20 23%,#ecff13 27.3%,#fafa05 31.7%,#fef301 35.3%,#ffdc00 37.4%,#ff9a00 41%,#ff3500 46%,#ff0e00 48.9%,#fe0300 51.8%,#ec0000 54.7%,#c30000 59.7%,#bf0000 61.9%,#cb0000 63.3%,#e00e00 64.7%,#f43500 66.2%,#ff7900 67.6%,#edc012 69.1%,#bfee40 70.5%,#79ff86 71.9%,#37eec8 73.4%,#0fc6f0 74.8%,#0bbef4 75.5%,#1bd8e4 76.3%,#32efcd 77%,#54fbab 77.7%,#7bff84 78.4%,#a4fd5b 79.1%,#c2f23d 79.9%,#edc912 81.3%,#ff8300 82.7%,#f23a00 84.2%,#d80f00 85.6%,#ca0400 86.3%,#af0000 87.8%,#970000 91.4%,#830000 98.6%,#820000 100%)"></i><i style="background:linear-gradient(#00008c 0%,#00009b 2.2%,#0000b0 4.3%,#0000b1 5%,#0000ba 5.8%,#0000cd 6.5%,#0000e6 7.2%,#000bf8 7.9%,#02f 8.6%,#0051ff 10.1%,#005dff 10.8%,#0062ff 11.5%,#0076ff 12.2%,#00c2ff 13.7%,#07e2f8 14.4%,#16f1e9 15.1%,#24f8db 17.3%,#38ffc7 18.7%,#73ff8c 21.6%,#7fff80 23%,#8dff72 26.6%,#aeff51 31.7%,#baff45 35.3%,#dbfc24 38.1%,#f2eb0d 40.3%,#ffbc00 43.2%,#ff7800 46.8%,#ff5e00 48.9%,#ff5300 51.1%,#fa0d00 54.7%,#ec0000 56.1%,#b80000 59.7%,#a80000 61.9%,#ac0000 65.5%,#ba0000 67.6%,#d00400 69.1%,#db0f00 69.8%,#f23800 71.2%,#ff7e00 72.7%,#eac515 74.1%,#d4dd2b 74.8%,#cbe734 75.5%,#f2b20d 77%,#fd8f02 77.7%,#f44400 79.1%,#dd1300 80.6%,#c00000 82%,#a50000 83.5%,#8e0000 86.3%,#830000 90.6%,#840000 100%)"></i><i style="background:linear-gradient(#00008c 0%,#0000a7 5.8%,#0000cd 7.9%,#0000e9 9.4%,#0004f6 10.8%,#0006f8 11.5%,#0010fd 12.2%,#0047ff 13.7%,#0065ff 14.4%,#007bff 15.1%,#008dff 17.3%,#01cffe 20.9%,#06ddf9 22.3%,#0eebf1 26.6%,#27fcd8 30.9%,#35ffca 35.3%,#54ffab 38.1%,#ccfc33 45.3%,#e6f019 48.2%,#ede812 51.1%,#f9d106 52.5%,#fec001 53.2%,#ff3e00 56.8%,#f51600 58.3%,#ec0900 59%,#d40000 60.4%,#bf0000 61.9%,#9e0000 66.9%,#9b0000 69.8%,#a70000 71.9%,#bd0000 73.4%,#da1000 74.8%,#e01800 75.5%,#c50000 77%,#a70000 78.4%,#8f0000 81.3%,#830000 84.9%,#870000 100%)"></i><i style="background:linear-gradient(#00008c 0%,#0000a6 6.5%,#0000d0 10.1%,#0000d6 11.5%,#0000e1 12.2%,#0001f4 12.9%,#000eff 13.7%,#0035ff 15.1%,#0049ff 18%,#0076ff 21.6%,#008eff 27.3%,#0af 32.4%,#00b1ff 35.3%,#02d6fd 38.8%,#0eecf1 41%,#2cfed3 43.9%,#5dffa2 47.5%,#71ff8e 50.4%,#73ff8c 51.1%,#9eff61 53.2%,#c4fe3b 54.7%,#e3ef1c 56.1%,#f8cf07 57.6%,#ff9f00 59%,#ff5000 61.2%,#f32000 63.3%,#dc0500 64.7%,#be0000 66.2%,#a00000 68.3%,#8c0000 71.2%,#8e0000 74.1%,#950000 75.5%,#840000 79.1%,#8a0000 100%)"></i><i style="background:linear-gradient(#00008c 0%,#0000a7 7.2%,#0000bd 10.8%,#0000bf 11.5%,#0000c8 12.2%,#0003f9 14.4%,#000ffe 15.8%,#0019ff 18.7%,#002cff 22.3%,#0039ff 27.3%,#004cff 33.1%,#0052ff 35.3%,#006dff 38.1%,#00e5ff 46%,#0af9f5 48.9%,#13fdec 51.8%,#2fffd0 54.7%,#58ffa7 56.8%,#94ff6b 59%,#bcfa43 60.4%,#dbea24 61.9%,#f2d30d 63.3%,#fdb602 64%,#fe3b00 66.2%,#f61c00 66.9%,#e80900 67.6%,#d40000 68.3%,#ac0000 69.8%,#960000 71.2%,#850000 74.1%,#8d0000 100%)"></i></div>
<svg width="3338" height="2488" viewBox="0 0 3338 2488" stroke-width="3.12" stroke-miterlimit="10" stroke-linejoin="miter" font-family="'Liberation Sans', sans-serif" font-size="37.5px" fill="#000">
<polygon points="289.5,423.3 633.25,79.55 664.5,79.55 664.5,736.25 320.75,1080 289.5,1080" fill="#ffe6cc" stroke="#d79b00"/>
<polygon points="289.5,423.3 633.25,79.55 664.5,79.55 320.75,423.3" fill="#000" fill-opacity="0.05" stroke="none"/>
<polygon points="320.75,423.3 664.5,79.55 664.5,736.25 320.75,1080" fill="#000" fill-opacity="0.1" stroke="none"/>
<path d="M320.75,1080L320.75,423.3L289.5,423.3M320.75,423.3L664.5,79.55" fill="none" stroke="#d79b00"/>
<polygon points="351.9,423.3 695.65,79.55 726.9,79.55 726.9,736.25 383.15,1080 351.9,1080" fill="#ffe6cc" stroke="#d79b00"/>
<polygon points="351.9,423.3 695.65,79.55 726.9,79.55 383.15,423.3" fill="#000" fill-opacity="0.05" stroke="none"/>
<polygon points="383.15,423.3 726.9,79.55 726.9,736.25 383.15,1080" fill="#000" fill-opacity="0.1" stroke="none"/>
<path d="M383.15,1080L383.15,423.3L351.9,423.3M383.15,423.3L726.9,79.55" fill="none" stroke="#d79b00"/>
<polygon points="442.3,489 661.05,270.25 692.3,270.25 692.3,767.35 473.55,986.1 442.3,986.1" fill="#f8cecc" stroke="#b85450"/>
<polygon points="442.3,489 661.05,270.25 692.3,270.25 473.55,489" fill="#000" fill-opacity="0.05" stroke="none"/>
<polygon points="473.55,489 692.3,270.25 692.3,767.35 473.55,986.1" fill="#000" fill-opacity="0.1" stroke="none"/>
<path d="M473.55,986.1L473.55,489L442.3,489M473.55,489L692.3,270.25" fill="none" stroke="#b85450"/>
<polygon points="489.1,489 707.85,270.25 739.1,270.25 739.1,767.35 520.35,986.1 489.1,986.1" fill="#ffe6cc" stroke="#d79b00"/>
<polygon points="489.1,489 707.85,270.25 739.1,270.25 520.35,489" fill="#000" fill-opacity="0.05" stroke="none"/>
<polygon points="520.35,489 739.1,270.25 739.1,767.35 520.35,986.1" fill="#000" fill-opacity="0.1" stroke="none"/>
<path d="M520.35,986.1L520.35,489L489.1,489M520.35,489L739.1,270.25" fill="none" stroke="#d79b00"/>
<polygon points="548.2,489 766.95,270.25 798.2,270.25 798.2,767.35 579.45,986.1 548.2,986.1" fill="#ffe6cc" stroke="#d79b00"/>
<polygon points="548.2,489 766.95,270.25 798.2,270.25 579.45,489" fill="#000" fill-opacity="0.05" stroke="none"/>
<polygon points="579.45,489 798.2,270.25 798.2,767.35 579.45,986.1" fill="#000" fill-opacity="0.1" stroke="none"/>
<path d="M579.45,986.1L579.45,489L548.2,489M579.45,489L798.2,270.25" fill="none" stroke="#d79b00"/>
<polygon points="664.4,536.6 789.4,411.6 820.65,411.6 820.65,704.5 695.65,829.5 664.4,829.5" fill="#f8cecc" stroke="#b85450"/>
<polygon points="664.4,536.6 789.4,411.6 820.65,411.6 695.65,536.6" fill="#000" fill-opacity="0.05" stroke="none"/>
<polygon points="695.65,536.6 820.65,411.6 820.65,704.5 695.65,829.5" fill="#000" fill-opacity="0.1" stroke="none"/>
<path d="M695.65,829.5L695.65,536.6L664.4,536.6M695.65,536.6L820.65,411.6" fill="none" stroke="#b85450"/>
<polygon points="717.5,536.6 842.5,411.6 873.75,411.6 873.75,704.5 748.75,829.5 717.5,829.5" fill="#ffe6cc" stroke="#d79b00"/>
<polygon points="717.5,536.6 842.5,411.6 873.75,411.6 748.75,536.6" fill="#000" fill-opacity="0.05" stroke="none"/>
<polygon points="748.75,536.6 873.75,411.6 873.75,704.5 748.75,829.5" fill="#000" fill-opacity="0.1" stroke="none"/>
<path d="M748.75,829.5L748.75,536.6L717.5,536.6M748.75,536.6L873.75,411.6" fill="none" stroke="#d79b00"/>
<polygon points="770.7,536.6 895.7,411.6 926.95,411.6 926.95,704.5 801.95,829.5 770.7,829.5" fill="#ffe6cc" stroke="#d79b00"/>
<polygon points="770.7,536.6 895.7,411.6 926.95,411.6 801.95,536.6" fill="#000" fill-opacity="0.05" stroke="none"/>
<polygon points="801.95,536.6 926.95,411.6 926.95,704.5 801.95,829.5" fill="#000" fill-opacity="0.1" stroke="none"/>
<path d="M801.95,829.5L801.95,536.6L770.7,536.6M801.95,536.6L926.95,411.6" fill="none" stroke="#d79b00"/>
<polygon points="823.8,536.6 948.8,411.6 980.05,411.6 980.05,704.5 855.05,829.5 823.8,829.5" fill="#ffe6cc" stroke="#d79b00"/>
<polygon points="823.8,536.6 948.8,411.6 980.05,411.6 855.05,536.6" fill="#000" fill-opacity="0.05" stroke="none"/>
<polygon points="855.05,536.6 980.05,411.6 980.05,704.5 855.05,829.5" fill="#000" fill-opacity="0.1" stroke="none"/>
<path d="M855.05,829.5L855.05,536.6L823.8,536.6M855.05,536.6L980.05,411.6" fill="none" stroke="#d79b00"/>
<polygon points="926.4,568.5 988.9,506 1051.4,506 1051.4,672.5 988.9,735 926.4,735" fill="#f8cecc" stroke="#b85450"/>
<polygon points="926.4,568.5 988.9,506 1051.4,506 988.9,568.5" fill="#000" fill-opacity="0.05" stroke="none"/>
<polygon points="988.9,568.5 1051.4,506 1051.4,672.5 988.9,735" fill="#000" fill-opacity="0.1" stroke="none"/>
<path d="M988.9,735L988.9,568.5L926.4,568.5M988.9,568.5L1051.4,506" fill="none" stroke="#b85450"/>
<polygon points="1007.6,568.5 1070.1,506 1132.6,506 1132.6,672.5 1070.1,735 1007.6,735" fill="#ffe6cc" stroke="#d79b00"/>
<polygon points="1007.6,568.5 1070.1,506 1132.6,506 1070.1,568.5" fill="#000" fill-opacity="0.05" stroke="none"/>
<polygon points="1070.1,568.5 1132.6,506 1132.6,672.5 1070.1,735" fill="#000" fill-opacity="0.1" stroke="none"/>
<path d="M1070.1,735L1070.1,568.5L1007.6,568.5M1070.1,568.5L1132.6,506" fill="none" stroke="#d79b00"/>
<polygon points="1085.8,568.5 1148.3,506 1210.8,506 1210.8,672.5 1148.3,735 1085.8,735" fill="#ffe6cc" stroke="#d79b00"/>
<polygon points="1085.8,568.5 1148.3,506 1210.8,506 1148.3,568.5" fill="#000" fill-opacity="0.05" stroke="none"/>
<polygon points="1148.3,568.5 1210.8,506 1210.8,672.5 1148.3,735" fill="#000" fill-opacity="0.1" stroke="none"/>
<path d="M1148.3,735L1148.3,568.5L1085.8,568.5M1148.3,568.5L1210.8,506" fill="none" stroke="#d79b00"/>
<polygon points="1164.2,568.5 1226.7,506 1289.2,506 1289.2,672.5 1226.7,735 1164.2,735" fill="#ffe6cc" stroke="#d79b00"/>
<polygon points="1164.2,568.5 1226.7,506 1289.2,506 1226.7,568.5" fill="#000" fill-opacity="0.05" stroke="none"/>
<polygon points="1226.7,568.5 1289.2,506 1289.2,672.5 1226.7,735" fill="#000" fill-opacity="0.1" stroke="none"/>
<path d="M1226.7,735L1226.7,568.5L1164.2,568.5M1226.7,568.5L1289.2,506" fill="none" stroke="#d79b00"/>
<polygon points="1257.9,589.5 1289.15,558.25 1367.55,558.25 1367.55,651.65 1336.3,682.9 1257.9,682.9" fill="#f8cecc" stroke="#b85450"/>
<polygon points="1257.9,589.5 1289.15,558.25 1367.55,558.25 1336.3,589.5" fill="#000" fill-opacity="0.05" stroke="none"/>
<polygon points="1336.3,589.5 1367.55,558.25 1367.55,651.65 1336.3,682.9" fill="#000" fill-opacity="0.1" stroke="none"/>
<path d="M1336.3,682.9L1336.3,589.5L1257.9,589.5M1336.3,589.5L1367.55,558.25" fill="none" stroke="#b85450"/>
<polygon points="1354.8,589.5 1386.05,558.25 1464.45,558.25 1464.45,651.65 1433.2,682.9 1354.8,682.9" fill="#ffe6cc" stroke="#d79b00"/>
<polygon points="1354.8,589.5 1386.05,558.25 1464.45,558.25 1433.2,589.5" fill="#000" fill-opacity="0.05" stroke="none"/>
<polygon points="1433.2,589.5 1464.45,558.25 1464.45,651.65 1433.2,682.9" fill="#000" fill-opacity="0.1" stroke="none"/>
<path d="M1433.2,682.9L1433.2,589.5L1354.8,589.5M1433.2,589.5L1464.45,558.25" fill="none" stroke="#d79b00"/>
<polygon points="1445.5,589.5 1476.75,558.25 1555.15,558.25 1555.15,651.65 1523.9,682.9 1445.5,682.9" fill="#ffe6cc" stroke="#d79b00"/>
<polygon points="1445.5,589.5 1476.75,558.25 1555.15,558.25 1523.9,589.5" fill="#000" fill-opacity="0.05" stroke="none"/>
<polygon points="1523.9,589.5 1555.15,558.25 1555.15,651.65 1523.9,682.9" fill="#000" fill-opacity="0.1" stroke="none"/>
<path d="M1523.9,682.9L1523.9,589.5L1445.5,589.5M1523.9,589.5L1555.15,558.25" fill="none" stroke="#d79b00"/>
<polygon points="1542.2,589.5 1573.45,558.25 1651.85,558.25 1651.85,651.65 1620.6,682.9 1542.2,682.9" fill="#ffe6cc" stroke="#d79b00"/>
<polygon points="1542.2,589.5 1573.45,558.25 1651.85,558.25 1620.6,589.5" fill="#000" fill-opacity="0.05" stroke="none"/>
<polygon points="1620.6,589.5 1651.85,558.25 1651.85,651.65 1620.6,682.9" fill="#000" fill-opacity="0.1" stroke="none"/>
<path d="M1620.6,682.9L1620.6,589.5L1542.2,589.5M1620.6,589.5L1651.85,558.25" fill="none" stroke="#d79b00"/>
<polygon points="1664.2,611 1686.1,589.1 1767.35,589.1 1767.35,630.2 1745.45,652.1 1664.2,652.1" fill="#f8cecc" stroke="#b85450"/>
<polygon points="1664.2,611 1686.1,589.1 1767.35,589.1 1745.45,611" fill="#000" fill-opacity="0.05" stroke="none"/>
<polygon points="1745.45,611 1767.35,589.1 1767.35,630.2 1745.45,652.1" fill="#000" fill-opacity="0.1" stroke="none"/>
<path d="M1745.45,652.1L1745.45,611L1664.2,611M1745.45,611L1767.35,589.1" fill="none" stroke="#b85450"/>
<polygon points="1789.2,614.5 1798.6,605.1 2023.6,605.1 2023.6,620.9 2014.2,630.3 1789.2,630.3" fill="#dae8fc" stroke="#6c8ebf"/>
<polygon points="1789.2,614.5 1798.6,605.1 2023.6,605.1 2014.2,614.5" fill="#000" fill-opacity="0.05" stroke="none"/>
<polygon points="2014.2,614.5 2023.6,605.1 2023.6,620.9 2014.2,630.3" fill="#000" fill-opacity="0.1" stroke="none"/>
<path d="M2014.2,630.3L2014.2,614.5L1789.2,614.5M2014.2,614.5L2023.6,605.1" fill="none" stroke="#6c8ebf"/>
<path d="M1699.3,761L1703.73,678.77" fill="none" stroke="#000"/>
<path d="M1704.61,662.39L1714.36,684.82L1703.73,678.77L1692.51,683.64Z" fill="#000" stroke="#000"/>
<polygon points="267.5,1664.4 611.25,1320.65 642.5,1320.65 642.5,1977.35 298.75,2321.1 267.5,2321.1" fill="#ffe6cc" stroke="#d79b00"/>
<polygon points="267.5,1664.4 611.25,1320.65 642.5,1320.65 298.75,1664.4" fill="#000" fill-opacity="0.05" stroke="none"/>
<polygon points="298.75,1664.4 642.5,1320.65 642.5,1977.35 298.75,2321.1" fill="#000" fill-opacity="0.1" stroke="none"/>
<path d="M298.75,2321.1L298.75,1664.4L267.5,1664.4M298.75,1664.4L642.5,1320.65" fill="none" stroke="#d79b00"/>
<polygon points="329.9,1664.4 673.65,1320.65 704.9,1320.65 704.9,1977.35 361.15,2321.1 329.9,2321.1" fill="#ffe6cc" stroke="#d79b00"/>
<polygon points="329.9,1664.4 673.65,1320.65 704.9,1320.65 361.15,1664.4" fill="#000" fill-opacity="0.05" stroke="none"/>
<polygon points="361.15,1664.4 704.9,1320.65 704.9,1977.35 361.15,2321.1" fill="#000" fill-opacity="0.1" stroke="none"/>
<path d="M361.15,2321.1L361.15,1664.4L329.9,1664.4M361.15,1664.4L704.9,1320.65" fill="none" stroke="#d79b00"/>
<polygon points="420.3,1730.1 639.05,1511.35 670.3,1511.35 670.3,2008.45 451.55,2227.2 420.3,2227.2" fill="#f8cecc" stroke="#b85450"/>
<polygon points="420.3,1730.1 639.05,1511.35 670.3,1511.35 451.55,1730.1" fill="#000" fill-opacity="0.05" stroke="none"/>
<polygon points="451.55,1730.1 670.3,1511.35 670.3,2008.45 451.55,2227.2" fill="#000" fill-opacity="0.1" stroke="none"/>
<path d="M451.55,2227.2L451.55,1730.1L420.3,1730.1M451.55,1730.1L670.3,1511.35" fill="none" stroke="#b85450"/>
<polygon points="467.1,1730.1 685.85,1511.35 717.1,1511.35 717.1,2008.45 498.35,2227.2 467.1,2227.2" fill="#ffe6cc" stroke="#d79b00"/>
<polygon points="467.1,1730.1 685.85,1511.35 717.1,1511.35 498.35,1730.1" fill="#000" fill-opacity="0.05" stroke="none"/>
<polygon points="498.35,1730.1 717.1,1511.35 717.1,2008.45 498.35,2227.2" fill="#000" fill-opacity="0.1" stroke="none"/>
<path d="M498.35,2227.2L498.35,1730.1L467.1,1730.1M498.35,1730.1L717.1,1511.35" fill="none" stroke="#d79b00"/>
<polygon points="526.2,1730.1 744.95,1511.35 776.2,1511.35 776.2,2008.45 557.45,2227.2 526.2,2227.2" fill="#ffe6cc" stroke="#d79b00"/>
<polygon points="526.2,1730.1 744.95,1511.35 776.2,1511.35 557.45,1730.1" fill="#000" fill-opacity="0.05" stroke="none"/>
<polygon points="557.45,1730.1 776.2,1511.35 776.2,2008.45 557.45,2227.2" fill="#000" fill-opacity="0.1" stroke="none"/>
<path d="M557.45,2227.2L557.45,1730.1L526.2,1730.1M557.45,1730.1L776.2,1511.35" fill="none" stroke="#d79b00"/>
<polygon points="642.4,1777.7 767.4,1652.7 798.65,1652.7 798.65,1945.6 673.65,2070.6 642.4,2070.6" fill="#f8cecc" stroke="#b85450"/>
<polygon points="642.4,1777.7 767.4,1652.7 798.65,1652.7 673.65,1777.7" fill="#000" fill-opacity="0.05" stroke="none"/>
<polygon points="673.65,1777.7 798.65,1652.7 798.65,1945.6 673.65,2070.6" fill="#000" fill-opacity="0.1" stroke="none"/>
<path d="M673.65,2070.6L673.65,1777.7L642.4,1777.7M673.65,1777.7L798.65,1652.7" fill="none" stroke="#b85450"/>
<polygon points="695.5,1777.7 820.5,1652.7 851.75,1652.7 851.75,1945.6 726.75,2070.6 695.5,2070.6" fill="#ffe6cc" stroke="#d79b00"/>
<polygon points="695.5,1777.7 820.5,1652.7 851.75,1652.7 726.75,1777.7" fill="#000" fill-opacity="0.05" stroke="none"/>
<polygon points="726.75,1777.7 851.75,1652.7 851.75,1945.6 726.75,2070.6" fill="#000" fill-opacity="0.1" stroke="none"/>
<path d="M726.75,2070.6L726.75,1777.7L695.5,1777.7M726.75,1777.7L851.75,1652.7" fill="none" stroke="#d79b00"/>
<polygon points="748.7,1777.7 873.7,1652.7 904.95,1652.7 904.95,1945.6 779.95,2070.6 748.7,2070.6" fill="#ffe6cc" stroke="#d79b00"/>
<polygon points="748.7,1777.7 873.7,1652.7 904.95,1652.7 779.95,1777.7" fill="#000" fill-opacity="0.05" stroke="none"/>
<polygon points="779.95,1777.7 904.95,1652.7 904.95,1945.6 779.95,2070.6" fill="#000" fill-opacity="0.1" stroke="none"/>
<path d="M779.95,2070.6L779.95,1777.7L748.7,1777.7M779.95,1777.7L904.95,1652.7" fill="none" stroke="#d79b00"/>
<polygon points="801.8,1777.7 926.8,1652.7 958.05,1652.7 958.05,1945.6 833.05,2070.6 801.8,2070.6" fill="#ffe6cc" stroke="#d79b00"/>
<polygon points="801.8,1777.7 926.8,1652.7 958.05,1652.7 833.05,1777.7" fill="#000" fill-opacity="0.05" stroke="none"/>
<polygon points="833.05,1777.7 958.05,1652.7 958.05,1945.6 833.05,2070.6" fill="#000" fill-opacity="0.1" stroke="none"/>
<path d="M833.05,2070.6L833.05,1777.7L801.8,1777.7M833.05,1777.7L958.05,1652.7" fill="none" stroke="#d79b00"/>
<polygon points="904.4,1809.6 966.9,1747.1 1029.4,1747.1 1029.4,1913.6 966.9,1976.1 904.4,1976.1" fill="#f8cecc" stroke="#b85450"/>
<polygon points="904.4,1809.6 966.9,1747.1 1029.4,1747.1 966.9,1809.6" fill="#000" fill-opacity="0.05" stroke="none"/>
<polygon points="966.9,1809.6 1029.4,1747.1 1029.4,1913.6 966.9,1976.1" fill="#000" fill-opacity="0.1" stroke="none"/>
<path d="M966.9,1976.1L966.9,1809.6L904.4,1809.6M966.9,1809.6L1029.4,1747.1" fill="none" stroke="#b85450"/>
<polygon points="985.6,1809.6 1048.1,1747.1 1110.6,1747.1 1110.6,1913.6 1048.1,1976.1 985.6,1976.1" fill="#ffe6cc" stroke="#d79b00"/>
<polygon points="985.6,1809.6 1048.1,1747.1 1110.6,1747.1 1048.1,1809.6" fill="#000" fill-opacity="0.05" stroke="none"/>
<polygon points="1048.1,1809.6 1110.6,1747.1 1110.6,1913.6 1048.1,1976.1" fill="#000" fill-opacity="0.1" stroke="none"/>
<path d="M1048.1,1976.1L1048.1,1809.6L985.6,1809.6M1048.1,1809.6L1110.6,1747.1" fill="none" stroke="#d79b00"/>
<polygon points="1063.8,1809.6 1126.3,1747.1 1188.8,1747.1 1188.8,1913.6 1126.3,1976.1 1063.8,1976.1" fill="#ffe6cc" stroke="#d79b00"/>
<polygon points="1063.8,1809.6 1126.3,1747.1 1188.8,1747.1 1126.3,1809.6" fill="#000" fill-opacity="0.05" stroke="none"/>
<polygon points="1126.3,1809.6 1188.8,1747.1 1188.8,1913.6 1126.3,1976.1" fill="#000" fill-opacity="0.1" stroke="none"/>
<path d="M1126.3,1976.1L1126.3,1809.6L1063.8,1809.6M1126.3,1809.6L1188.8,1747.1" fill="none" stroke="#d79b00"/>
<polygon points="1142.2,1809.6 1204.7,1747.1 1267.2,1747.1 1267.2,1913.6 1204.7,1976.1 1142.2,1976.1" fill="#ffe6cc" stroke="#d79b00"/>
<polygon points="1142.2,1809.6 1204.7,1747.1 1267.2,1747.1 1204.7,1809.6" fill="#000" fill-opacity="0.05" stroke="none"/>
<polygon points="1204.7,1809.6 1267.2,1747.1 1267.2,1913.6 1204.7,1976.1" fill="#000" fill-opacity="0.1" stroke="none"/>
<path d="M1204.7,1976.1L1204.7,1809.6L1142.2,1809.6M1204.7,1809.6L1267.2,1747.1" fill="none" stroke="#d79b00"/>
<polygon points="1235.9,1830.6 1267.15,1799.35 1345.55,1799.35 1345.55,1892.75 1314.3,1924 1235.9,1924" fill="#f8cecc" stroke="#b85450"/>
<polygon points="1235.9,1830.6 1267.15,1799.35 1345.55,1799.35 1314.3,1830.6" fill="#000" fill-opacity="0.05" stroke="none"/>
<polygon points="1314.3,1830.6 1345.55,1799.35 1345.55,1892.75 1314.3,1924" fill="#000" fill-opacity="0.1" stroke="none"/>
<path d="M1314.3,1924L1314.3,1830.6L1235.9,1830.6M1314.3,1830.6L1345.55,1799.35" fill="none" stroke="#b85450"/>
<polygon points="1332.8,1830.6 1364.05,1799.35 1442.45,1799.35 1442.45,1892.75 1411.2,1924 1332.8,1924" fill="#ffe6cc" stroke="#d79b00"/>
<polygon points="1332.8,1830.6 1364.05,1799.35 1442.45,1799.35 1411.2,1830.6" fill="#000" fill-opacity="0.05" stroke="none"/>
<polygon points="1411.2,1830.6 1442.45,1799.35 1442.45,1892.75 1411.2,1924" fill="#000" fill-opacity="0.1" stroke="none"/>
<path d="M1411.2,1924L1411.2,1830.6L1332.8,1830.6M1411.2,1830.6L1442.45,1799.35" fill="none" stroke="#d79b00"/>
<polygon points="1423.5,1830.6 1454.75,1799.35 1533.15,1799.35 1533.15,1892.75 1501.9,1924 1423.5,1924" fill="#ffe6cc" stroke="#d79b00"/>
<polygon points="1423.5,1830.6 1454.75,1799.35 1533.15,1799.35 1501.9,1830.6" fill="#000" fill-opacity="0.05" stroke="none"/>
<polygon points="1501.9,1830.6 1533.15,1799.35 1533.15,1892.75 1501.9,1924" fill="#000" fill-opacity="0.1" stroke="none"/>
<path d="M1501.9,1924L1501.9,1830.6L1423.5,1830.6M1501.9,1830.6L1533.15,1799.35" fill="none" stroke="#d79b00"/>
<polygon points="1520.2,1830.6 1551.45,1799.35 1629.85,1799.35 1629.85,1892.75 1598.6,1924 1520.2,1924" fill="#ffe6cc" stroke="#d79b00"/>
<polygon points="1520.2,1830.6 1551.45,1799.35 1629.85,1799.35 1598.6,1830.6" fill="#000" fill-opacity="0.05" stroke="none"/>
<polygon points="1598.6,1830.6 1629.85,1799.35 1629.85,1892.75 1598.6,1924" fill="#000" fill-opacity="0.1" stroke="none"/>
<path d="M1598.6,1924L1598.6,1830.6L1520.2,1830.6M1598.6,1830.6L1629.85,1799.35" fill="none" stroke="#d79b00"/>
<polygon points="1642.2,1852.1 1664.1,1830.2 1745.35,1830.2 1745.35,1871.3 1723.45,1893.2 1642.2,1893.2" fill="#f8cecc" stroke="#b85450"/>
<polygon points="1642.2,1852.1 1664.1,1830.2 1745.35,1830.2 1723.45,1852.1" fill="#000" fill-opacity="0.05" stroke="none"/>
<polygon points="1723.45,1852.1 1745.35,1830.2 1745.35,1871.3 1723.45,1893.2" fill="#000" fill-opacity="0.1" stroke="none"/>
<path d="M1723.45,1893.2L1723.45,1852.1L1642.2,1852.1M1723.45,1852.1L1745.35,1830.2" fill="none" stroke="#b85450"/>
<polygon points="1767.2,1855.6 1776.6,1846.2 2001.6,1846.2 2001.6,1862 1992.2,1871.4 1767.2,1871.4" fill="#dae8fc" stroke="#6c8ebf"/>
<polygon points="1767.2,1855.6 1776.6,1846.2 2001.6,1846.2 1992.2,1855.6" fill="#000" fill-opacity="0.05" stroke="none"/>
<polygon points="1992.2,1855.6 2001.6,1846.2 2001.6,1862 1992.2,1871.4" fill="#000" fill-opacity="0.1" stroke="none"/>
<path d="M1992.2,1871.4L1992.2,1855.6L1767.2,1855.6M1992.2,1855.6L2001.6,1846.2" fill="none" stroke="#6c8ebf"/>
<path d="M1677.3,2002.1L1681.73,1919.87" fill="none" stroke="#000"/>
<path d="M1682.61,1903.49L1692.36,1925.92L1681.73,1919.87L1670.51,1924.74Z" fill="#000" stroke="#000"/>
<polygon points="2292.2,1214.4 2301.6,1205 2698.6,1205 2698.6,1220.8 2689.2,1230.2 2292.2,1230.2" fill="#ffffff" stroke="#000000"/>
<polygon points="2292.2,1214.4 2301.6,1205 2698.6,1205 2689.2,1214.4" fill="#000" fill-opacity="0.05" stroke="none"/>
<polygon points="2689.2,1214.4 2698.6,1205 2698.6,1220.8 2689.2,1230.2" fill="#000" fill-opacity="0.1" stroke="none"/>
<path d="M2689.2,1230.2L2689.2,1214.4L2292.2,1214.4M2689.2,1214.4L2698.6,1205" fill="none" stroke="#000000"/>
<polygon points="2730,1214.4 2739.4,1205 2964.4,1205 2964.4,1220.8 2955,1230.2 2730,1230.2" fill="#dae8fc" stroke="#6c8ebf"/>
<polygon points="2730,1214.4 2739.4,1205 2964.4,1205 2955,1214.4" fill="#000" fill-opacity="0.05" stroke="none"/>
<polygon points="2955,1214.4 2964.4,1205 2964.4,1220.8 2955,1230.2" fill="#000" fill-opacity="0.1" stroke="none"/>
<path d="M2955,1230.2L2955,1214.4L2730,1214.4M2955,1214.4L2964.4,1205" fill="none" stroke="#6c8ebf"/>
<polygon points="2989.2,1214.4 2998.6,1205 3092.6,1205 3092.6,1220.8 3083.2,1230.2 2989.2,1230.2" fill="#fa6800" stroke="#c73500"/>
<polygon points="2989.2,1214.4 2998.6,1205 3092.6,1205 3083.2,1214.4" fill="#000" fill-opacity="0.05" stroke="none"/>
<polygon points="3083.2,1214.4 3092.6,1205 3092.6,1220.8 3083.2,1230.2" fill="#000" fill-opacity="0.1" stroke="none"/>
<path d="M3083.2,1230.2L3083.2,1214.4L2989.2,1214.4M3083.2,1214.4L3092.6,1205" fill="none" stroke="#c73500"/>
<polygon points="3136.3,1214.4 3145.7,1205 3230.3,1205 3230.3,1220.8 3220.9,1230.2 3136.3,1230.2" fill="#cdeb8b" stroke="#36393d"/>
<polygon points="3136.3,1214.4 3145.7,1205 3230.3,1205 3220.9,1214.4" fill="#000" fill-opacity="0.05" stroke="none"/>
<polygon points="3220.9,1214.4 3230.3,1205 3230.3,1220.8 3220.9,1230.2" fill="#000" fill-opacity="0.1" stroke="none"/>
<path d="M3220.9,1230.2L3220.9,1214.4L3136.3,1214.4M3220.9,1214.4L3230.3,1205" fill="none" stroke="#36393d"/>
<path d="M2021.8,630.3L2313.83,1155.61" fill="none" stroke="#000"/>
<path d="M2321.8,1169.95L2301.61,1156.14L2313.83,1155.61L2320.73,1145.51Z" fill="#000" stroke="#000"/>
<path d="M2002.5,1844.1L2313.32,1285.69" fill="none" stroke="#000"/>
<path d="M2321.3,1271.35L2320.22,1295.79L2313.32,1285.69L2301.11,1285.15Z" fill="#000" stroke="#000"/>
<polygon points="2511.4,1955.8 2533.3,1933.9 2605.2,1933.9 2605.2,1974.3 2583.3,1996.2 2511.4,1996.2" fill="#ffe6cc" stroke="#d79b00"/>
<polygon points="2511.4,1955.8 2533.3,1933.9 2605.2,1933.9 2583.3,1955.8" fill="#000" fill-opacity="0.05" stroke="none"/>
<polygon points="2583.3,1955.8 2605.2,1933.9 2605.2,1974.3 2583.3,1996.2" fill="#000" fill-opacity="0.1" stroke="none"/>
<path d="M2583.3,1996.2L2583.3,1955.8L2511.4,1955.8M2583.3,1955.8L2605.2,1933.9" fill="none" stroke="#d79b00"/>
<polygon points="2511.4,2049.4 2533.3,2027.5 2605.2,2027.5 2605.2,2067.9 2583.3,2089.8 2511.4,2089.8" fill="#f8cecc" stroke="#b85450"/>
<polygon points="2511.4,2049.4 2533.3,2027.5 2605.2,2027.5 2583.3,2049.4" fill="#000" fill-opacity="0.05" stroke="none"/>
<polygon points="2583.3,2049.4 2605.2,2027.5 2605.2,2067.9 2583.3,2089.8" fill="#000" fill-opacity="0.1" stroke="none"/>
<path d="M2583.3,2089.8L2583.3,2049.4L2511.4,2049.4M2583.3,2049.4L2605.2,2027.5" fill="none" stroke="#b85450"/>
<polygon points="2511.4,2143.3 2533.3,2121.4 2605.2,2121.4 2605.2,2161.8 2583.3,2183.7 2511.4,2183.7" fill="#dae8fc" stroke="#6c8ebf"/>
<polygon points="2511.4,2143.3 2533.3,2121.4 2605.2,2121.4 2583.3,2143.3" fill="#000" fill-opacity="0.05" stroke="none"/>
<polygon points="2583.3,2143.3 2605.2,2121.4 2605.2,2161.8 2583.3,2183.7" fill="#000" fill-opacity="0.1" stroke="none"/>
<path d="M2583.3,2183.7L2583.3,2143.3L2511.4,2143.3M2583.3,2143.3L2605.2,2121.4" fill="none" stroke="#6c8ebf"/>
<polygon points="2511.4,2237.3 2533.3,2215.4 2605.2,2215.4 2605.2,2255.8 2583.3,2277.7 2511.4,2277.7" fill="#d5e8d4" stroke="#82b366"/>
<polygon points="2511.4,2237.3 2533.3,2215.4 2605.2,2215.4 2583.3,2237.3" fill="#000" fill-opacity="0.05" stroke="none"/>
<polygon points="2583.3,2237.3 2605.2,2215.4 2605.2,2255.8 2583.3,2277.7" fill="#000" fill-opacity="0.1" stroke="none"/>
<path d="M2583.3,2277.7L2583.3,2237.3L2511.4,2237.3M2583.3,2237.3L2605.2,2215.4" fill="none" stroke="#82b366"/>
<polygon points="2511.4,2330.9 2533.3,2309 2605.2,2309 2605.2,2349.4 2583.3,2371.3 2511.4,2371.3" fill="#fa6800" stroke="#c73500"/>
<polygon points="2511.4,2330.9 2533.3,2309 2605.2,2309 2583.3,2330.9" fill="#000" fill-opacity="0.05" stroke="none"/>
<polygon points="2583.3,2330.9 2605.2,2309 2605.2,2349.4 2583.3,2371.3" fill="#000" fill-opacity="0.1" stroke="none"/>
<path d="M2583.3,2371.3L2583.3,2330.9L2511.4,2330.9M2583.3,2330.9L2605.2,2309" fill="none" stroke="#c73500"/>
<polygon points="2511.4,2430.2 2533.3,2408.3 2605.2,2408.3 2605.2,2448.7 2583.3,2470.6 2511.4,2470.6" fill="#ffffff" stroke="#000000"/>
<polygon points="2511.4,2430.2 2533.3,2408.3 2605.2,2408.3 2583.3,2430.2" fill="#000" fill-opacity="0.05" stroke="none"/>
<polygon points="2583.3,2430.2 2605.2,2408.3 2605.2,2448.7 2583.3,2470.6" fill="#000" fill-opacity="0.1" stroke="none"/>
<path d="M2583.3,2470.6L2583.3,2430.2L2511.4,2430.2M2583.3,2430.2L2605.2,2408.3" fill="none" stroke="#000000"/>
<text x="225.6" y="1167.5">224 x 224 x 64</text>
<text x="439" y="1074.9">112 x 112 x 128</text>
<text x="671" y="893.2">56 x 56 x 256</text>
<text x="967.8" y="789.9">28 x 28 x 512</text>
<text x="1332.2" y="734.1">14 x 14 x 512</text>
<text x="1604.6" y="809.1">7 x 7 x 512</text>
<text x="1814" y="724.8">1 x 1 x N</text>
<text x="417" y="2316">112 x 112 x 128</text>
<text x="649" y="2134.3">56 x 56 x 256</text>
<text x="945.8" y="2031">28 x 28 x 512</text>
<text x="1310.2" y="1975.2">14 x 14 x 512</text>
<text x="1582.6" y="2050.2">7 x 7 x 512</text>
<text x="1786.5" y="1965.8">1 x 1 x &#160;N</text>
<text x="225.7" y="2450.8">224 x 224 x 64</text>
<text x="2390" y="1315.2">1 x 1 x (2*N)</text>
<text x="2773.3" y="1315.2">1 x 1 x N</text>
<text x="3111" y="1315.2">1 x 1 x 1</text>
<text x="2643.1" y="1972.2" font-weight="bold">convolutional + ReLU</text>
<text x="2643.4" y="2065.3" font-weight="bold">max pooling</text>
<text x="2643.9" y="2162.6" font-weight="bold">fully connected</text>
<text x="2640.1" y="2253.2" font-weight="bold">sigmoid</text>
<text x="2644.1" y="2347.1" font-weight="bold">dropout</text>
<text x="2640.1" y="2443.8" font-weight="bold">concatenation</text>
</svg>
</div>
</body></html>
